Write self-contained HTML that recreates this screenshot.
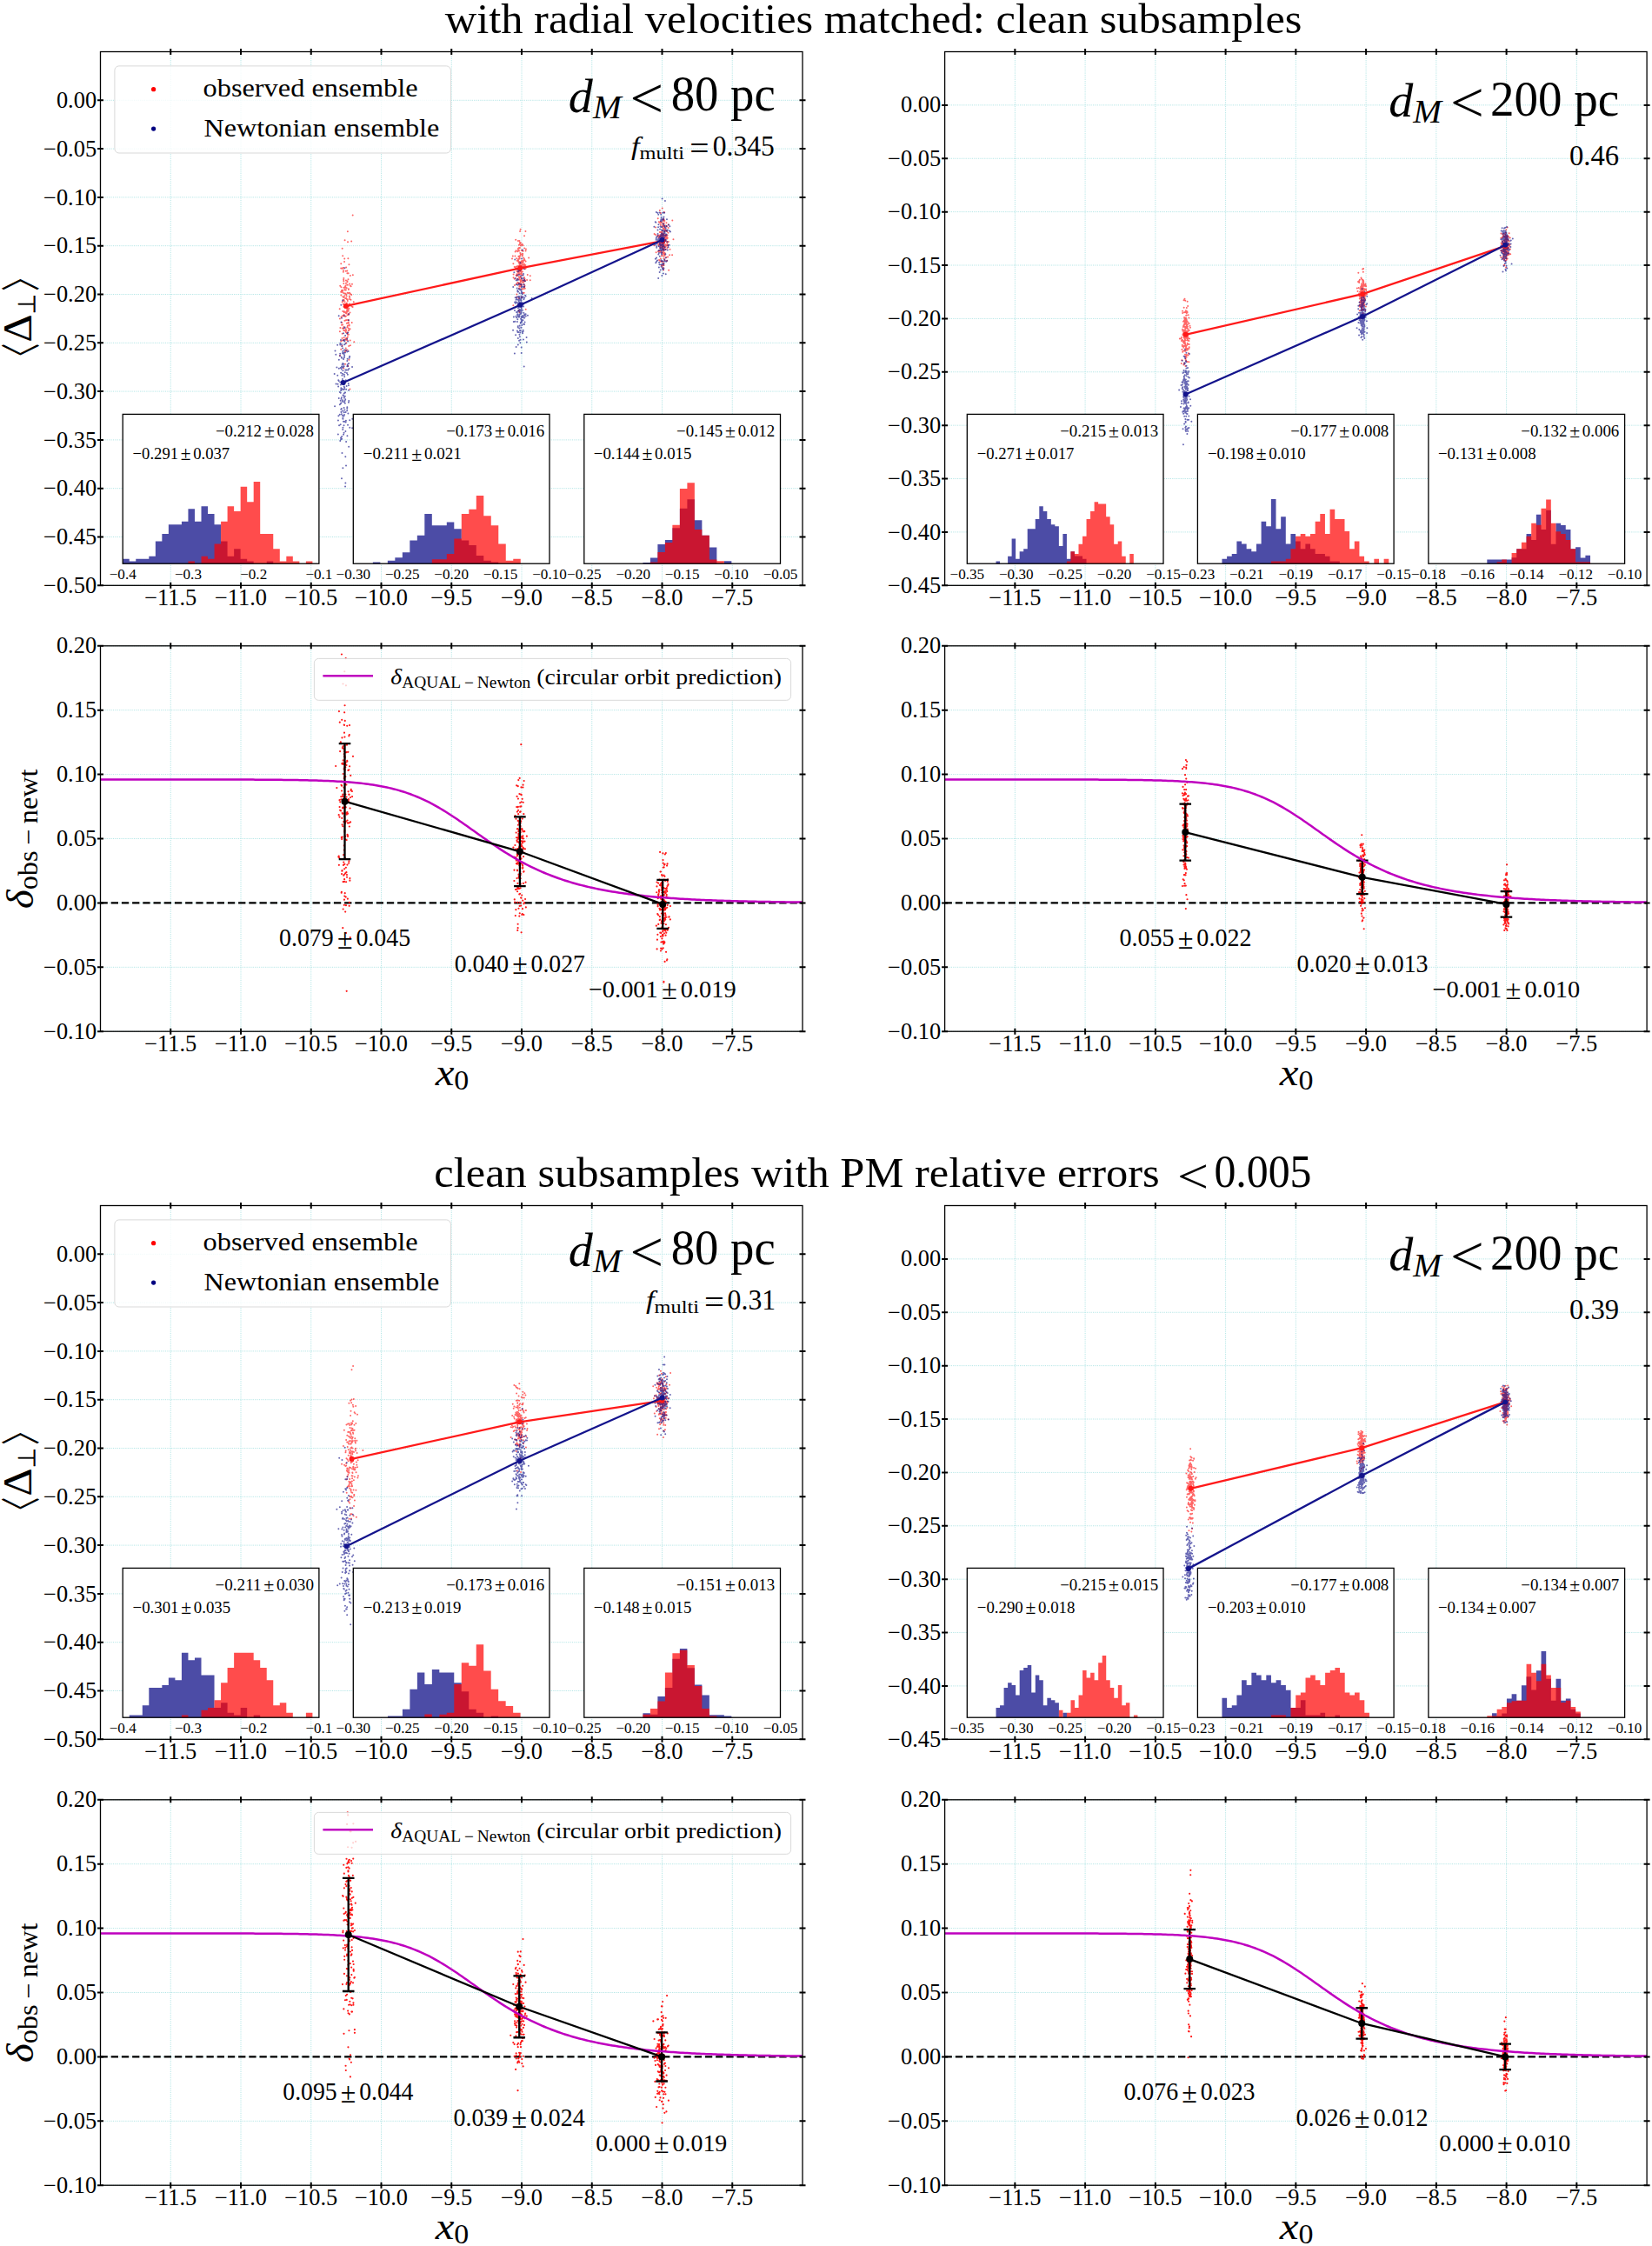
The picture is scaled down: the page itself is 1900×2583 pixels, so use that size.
<!DOCTYPE html>
<html><head><meta charset="utf-8"><title>figure</title><style>html,body{margin:0;padding:0;background:#fff;}svg{display:block;}</style></head><body>
<svg width="1900" height="2583" viewBox="0 0 1900 2583">
<rect width="1900" height="2583" fill="#fff"/>
<text id="f0_title" x="1003.2" y="37.8" font-size="50.5" text-anchor="middle" font-family="'Liberation Serif', 'DejaVu Serif', serif" transform="matrix(1.00020 0 0 0.97234 1.196 1.055)">with radial velocities matched: clean subsamples</text>
<path d="M196.25 59.5V673.3M277 59.5V673.3M357.75 59.5V673.3M438.5 59.5V673.3M519.25 59.5V673.3M600 59.5V673.3M680.75 59.5V673.3M761.5 59.5V673.3M842.25 59.5V673.3M115.5 673.3H923M115.5 617.5H923M115.5 561.7H923M115.5 505.9H923M115.5 450.1H923M115.5 394.3H923M115.5 338.5H923M115.5 282.7H923M115.5 226.9H923M115.5 171.1H923M115.5 115.3H923" stroke="#b4e6e6" stroke-width="1" stroke-dasharray="1.2 1.2" fill="none"/>
<path d="M402.45 447.54h0M397.04 418.86h0M395.33 423.39h0M400.27 421.08h0M391.02 409.09h0M401.4 413.82h0M401.17 397.99h0M397.75 400.5h0M393.5 397.65h0M402.93 397.24h0M396.9 404.52h0M392.2 401.64h0M399.56 402.46h0M397.67 403.28h0M407.27 393.25h0M400.91 384.73h0M393.67 383.87h0M399.89 384.67h0M395.62 388.18h0M398.88 388.75h0M397.5 389.23h0M397.63 390.58h0M394.03 391.4h0M402.75 391.38h0M398.22 394.22h0M398.95 391.12h0M399.87 387.39h0M395.14 390.88h0M392.27 392.6h0M393.48 388.98h0M399.65 391.42h0M398.31 380h0M394.92 377.72h0M393.86 377.58h0M393.03 373.75h0M394.07 373.49h0M399.86 374.73h0M397.32 380.78h0M396.84 380.33h0M399.34 376.21h0M395.47 376.03h0M400.87 380.34h0M397.97 382.21h0M402.59 378.33h0M401.45 379.62h0M399.63 383h0M401.6 373.4h0M397.74 378.18h0M395.3 380.03h0M399.24 382.46h0M390.87 381.23h0M401.74 374.41h0M391.38 376.95h0M400.75 377.45h0M396.44 368.79h0M404.71 371h0M400.85 362.09h0M400.74 371.64h0M400.88 370.59h0M395.64 361.94h0M397.87 368.25h0M399.03 368.08h0M398.88 371.85h0M399.91 362.15h0M390.95 366.55h0M393.88 363.22h0M397.4 364.06h0M392.5 364.47h0M395.75 363.38h0M400.95 361.04h0M399.42 371.44h0M395.57 362.32h0M400.77 368.11h0M397.86 363.44h0M393.13 370.91h0M404.22 352.13h0M400.2 355.46h0M401.34 354.83h0M396.08 358.97h0M394.31 357.91h0M394.82 349.77h0M399.29 355.01h0M398.24 350.99h0M395.4 352.87h0M397.77 349.85h0M401.29 352.33h0M402.49 359.51h0M397.78 360.03h0M398.6 360.54h0M399 358.81h0M397.86 358.94h0M390.67 355.27h0M402.47 349.64h0M400.65 357.4h0M405.6 353.02h0M397.39 352.33h0M401.08 355.49h0M395.86 359.19h0M400.4 352.26h0M398.73 353.87h0M395.99 358.34h0M395.36 349.84h0M399.62 358.39h0M396.75 353.65h0M398.97 356.93h0M399.37 355.93h0M403.49 344.86h0M393.71 347.16h0M395.37 341.9h0M395.83 345.17h0M398.16 342.9h0M392.32 339.52h0M401.82 340.59h0M402.15 344.09h0M399.03 344.28h0M398.66 340.5h0M397.05 342.92h0M396.63 347.14h0M396.33 340.23h0M398.23 338.85h0M404.2 339.03h0M402.16 342.1h0M406.74 347.24h0M399.85 345.9h0M394.73 344.77h0M401.51 349.51h0M394.61 346.15h0M398.65 348.83h0M399.78 344.3h0M398.9 348.55h0M394.34 341.27h0M391.23 328.69h0M400.65 337.17h0M397.84 333.38h0M396.62 337.59h0M399.68 336.77h0M400.92 333.05h0M402.99 338.08h0M392.42 330.18h0M400.9 332.28h0M399.91 327.84h0M397.01 337.73h0M397.4 330.16h0M400.39 337.21h0M396.14 330.84h0M394.16 334.79h0M395.11 336.94h0M402.03 336.63h0M393.29 336.1h0M397.61 337.83h0M393 333.98h0M397.5 328.45h0M394.12 333.73h0M398.75 331.32h0M397.19 330.8h0M402.78 328.41h0M392.82 334.36h0M396.62 333h0M396.5 333.41h0M392.16 335.75h0M397.17 329.56h0M399.28 327.52h0M395.44 330.68h0M403.65 329.24h0M399.47 324.23h0M397.94 325.86h0M397.91 322.49h0M400.48 321.32h0M395.22 321.67h0M402.1 326.56h0M404.98 326.73h0M395.32 319.94h0M402.86 317.04h0M399.5 323.35h0M395.32 323.16h0M395.32 325.94h0M399.29 311.38h0M399.4 314.2h0M395.02 308.03h0M395.08 310.79h0M394.63 308.08h0M398.14 307.5h0M400.63 314.18h0M397.73 311.84h0M393.33 308.84h0M392.19 308.53h0M405.86 316.14h0M394.89 312.85h0M401.43 304.24h0M392.25 303.29h0M394.22 294.2h0M400.37 297.25h0M396.24 297.55h0M396.05 301.12h0M393.67 285.68h0M404.17 277.55h0M400.01 278.22h0M396.6 276.32h0M399.88 266.36h0M405.67 247.5h0M597.57 359.23h0M604.7 355.78h0M596.69 357.09h0M595.08 351.57h0M599.76 350.83h0M590.32 351.17h0M594.46 341.67h0M601.63 336.96h0M596.79 343.12h0M599.77 342.02h0M594.39 338.59h0M602.74 336.64h0M598.46 328.15h0M598.65 328.22h0M600.02 327.59h0M597.07 331.54h0M600.23 332.22h0M602.88 330.08h0M591.94 327.99h0M597.35 329.26h0M603.74 331.8h0M598.64 329.42h0M603.19 331.79h0M599.22 328.86h0M603.48 328.54h0M601.62 332.27h0M602.76 327.34h0M594.23 326.14h0M598.88 319.25h0M602.29 324.47h0M595.48 324.65h0M603.85 322.48h0M598.67 324.97h0M602.32 322.84h0M597.17 319.78h0M598.8 323.63h0M603.91 322.89h0M606.06 322.12h0M591.74 320.71h0M599.11 323.1h0M590.53 319.32h0M597.44 321.4h0M597.02 326.46h0M600.39 322.03h0M603.52 320.75h0M600.98 324.72h0M594.92 321.03h0M595.47 325.87h0M599.33 320h0M603.12 319.37h0M598.31 321.93h0M609.76 322.23h0M598.01 318.64h0M596.88 325.58h0M602.41 323.51h0M599.93 323.04h0M598.98 326.48h0M598.64 312.14h0M600.25 315.27h0M597.16 312.6h0M594.37 315.29h0M594.64 317.42h0M597.36 312.39h0M596.35 313.2h0M599.1 314.83h0M599.21 312.04h0M595.25 316.14h0M597.13 314.46h0M590.57 315.48h0M595.77 313.09h0M596.44 313.25h0M597.77 314.89h0M598.32 311.34h0M600.86 312.54h0M593.62 316.81h0M597.5 310.33h0M599.53 313.42h0M598.58 314.88h0M596.79 314.01h0M596.07 312.36h0M606.74 316h0M597.23 312.35h0M609.8 317.2h0M600.4 316.49h0M596.88 318.17h0M596.52 312.41h0M593.87 317.31h0M594.45 312.37h0M596.03 315.1h0M598.72 318.13h0M597.55 308.41h0M602.14 308.23h0M601.61 307.74h0M599.19 302.85h0M594.32 308.37h0M602.78 306.33h0M600.33 302.67h0M599.69 308.81h0M601.1 304.61h0M595.13 305.88h0M602.7 305.47h0M600.37 304.95h0M603.98 309.21h0M598.12 305.55h0M597.06 310.17h0M604.36 305.02h0M597.71 304.28h0M602.92 303.73h0M601.69 301.83h0M597.2 308.16h0M602.8 304.91h0M593.6 306.76h0M594.67 309.18h0M598.31 303.18h0M598.48 309.43h0M604.69 308.47h0M591.7 306.9h0M597.91 307.56h0M596.73 309.49h0M597.85 302.6h0M602.87 303.86h0M598.91 305.44h0M596.94 302.61h0M599.56 301.83h0M592.97 308.31h0M599.85 305.22h0M601.27 307.6h0M597.03 305.59h0M597.38 309.64h0M590.37 303.14h0M596.28 307.55h0M589.81 294.41h0M601.85 300.13h0M596.49 297.93h0M596.38 294.65h0M598.12 301.14h0M597.78 297.52h0M602.29 296.5h0M603.41 299.07h0M600.71 293.72h0M604.59 300.43h0M596.08 298.4h0M592.4 294.4h0M598.12 293.91h0M596.28 301.1h0M597.51 296.84h0M602.01 299.6h0M594.26 297.3h0M599.84 300.7h0M600.67 294.62h0M596.86 295.3h0M597.68 295.58h0M600.21 299.96h0M597.04 301.09h0M602.88 297.86h0M589.01 297.57h0M608.15 296.48h0M594.72 299.65h0M596.17 300.05h0M601.08 301.29h0M598.82 292.67h0M597.2 285.05h0M598.29 290.9h0M604.95 286.4h0M597.35 285.59h0M596.13 285.83h0M597.14 288.44h0M596.05 285.79h0M601.25 291.96h0M600.8 292h0M593.53 288.29h0M599.06 292.27h0M592.64 289.61h0M595.22 289.36h0M601 293.23h0M595.95 288.53h0M599.7 287.81h0M601.63 288.73h0M595.92 287.06h0M604.59 288.39h0M600.88 288.6h0M601.1 292.18h0M603.19 285.46h0M599.81 281.78h0M598.56 279.97h0M597.85 279.09h0M598.78 278.94h0M597.69 280.98h0M596.93 281.63h0M595.87 276.9h0M598.96 282.53h0M597.96 284.98h0M600.63 280.85h0M601.51 282.15h0M597.41 276.95h0M603.04 271.21h0M593.18 275.74h0M604.43 265.88h0M598.07 266.01h0M598.61 263.74h0M769.16 310.8h0M761.82 305.86h0M762.55 307.84h0M760.92 305.36h0M763.05 303.17h0M763.68 305.03h0M763.28 304.87h0M760.85 305.14h0M763.07 310.43h0M762.56 301.15h0M758.39 299.31h0M764.78 299.18h0M767 299.97h0M758.05 298.94h0M763.63 297.29h0M759.53 300.71h0M759.8 297.55h0M766.33 296.12h0M760.93 294.25h0M768.09 295.56h0M760.58 300.52h0M760.92 300.2h0M763.53 294.76h0M773.11 293.28h0M762.96 285.65h0M758.07 288.26h0M764.65 291.44h0M761.49 290.41h0M761.96 286.95h0M764.54 290.71h0M764.77 293.41h0M754.62 290.17h0M763.23 287.95h0M770.53 286.7h0M756.99 289.31h0M763.75 291.33h0M762.5 291.56h0M758.97 288.69h0M759.05 289.86h0M770.1 293.3h0M757.09 289.29h0M765.74 287.11h0M762.85 289.6h0M763.99 293.1h0M764.26 292.88h0M763.38 291.96h0M764.24 285.96h0M761.64 293.75h0M760.19 288.85h0M766.49 277.35h0M761.91 284.48h0M759.9 281.78h0M761.55 283.98h0M763.3 279.55h0M759.37 285.1h0M767.34 285.06h0M768.26 282.41h0M766.34 281.89h0M760.66 278.21h0M762.68 284.1h0M759.04 280.4h0M759.83 282.53h0M763.79 279.43h0M761.21 284.26h0M762.46 279.99h0M761.95 280.81h0M760.23 284.25h0M767.4 279.46h0M763.61 283.66h0M764.78 282.3h0M765.75 281.22h0M757.78 282.44h0M761.37 282.05h0M768.83 277.94h0M762.01 280.56h0M758.93 285.3h0M757.38 281.96h0M760.3 279.21h0M757.51 280.76h0M764.32 281.53h0M762.39 277.11h0M759.36 279.47h0M767.76 281.54h0M759.47 285.04h0M763.09 282.89h0M760.36 282.99h0M757.32 281.25h0M766.7 278.12h0M760.82 277.77h0M764.54 284.5h0M764.04 277.71h0M762.44 280.77h0M752.31 282.34h0M764.27 281.81h0M762.77 277.19h0M760.2 283.96h0M764.89 283.35h0M765.05 282.06h0M766.73 282.64h0M763.19 269.77h0M759.88 276.91h0M761.3 271.44h0M766.43 274.05h0M752.6 269.1h0M761.37 274.02h0M766.54 272.09h0M764.21 272.75h0M766.96 274.11h0M764.42 276.89h0M765.06 275.58h0M767.29 274.51h0M760.49 276.09h0M758.15 270.62h0M767.61 270.54h0M756.3 271.02h0M760.4 273.83h0M760.09 270.73h0M758.57 271.74h0M761.4 275.04h0M764.93 271.53h0M763.83 276.95h0M760.61 274.79h0M763.96 271.65h0M758.97 276.48h0M760.19 270.23h0M762.1 271.03h0M762.73 276.92h0M759.54 274.98h0M753.9 269.95h0M767.5 273.37h0M762.94 274.09h0M765.2 272.66h0M767.79 273.72h0M765.02 276h0M765.76 270.12h0M761.46 273.53h0M761.88 269.48h0M765.34 273.43h0M774.45 275.26h0M766.48 270.39h0M761.66 274.24h0M766.69 273.28h0M762.84 274.71h0M765.68 273.85h0M763.83 269.44h0M761.9 271.95h0M758.8 272.37h0M762.66 275.26h0M759.45 272.18h0M758.85 271.67h0M761.74 270.83h0M762.1 269.62h0M757.26 272.95h0M762.35 268.18h0M768.49 267.65h0M767.05 266.14h0M761.64 260.43h0M762.88 263.41h0M754.1 261.55h0M765.55 265.37h0M768.63 261.99h0M764.46 266.32h0M758.77 266.95h0M763.75 263.19h0M766.76 260.58h0M759.73 266.93h0M766.26 265.11h0M765.11 264.3h0M766.65 265.52h0M764.12 262.17h0M762.66 262.16h0M761.23 268.2h0M761.71 265.86h0M764.61 263.85h0M762 260.44h0M760.77 266.82h0M763.88 256.47h0M759.89 258.66h0M762.53 252.34h0M773.32 253.51h0M762.83 257.47h0M760.27 256.35h0M763.99 260.12h0M762.3 259.61h0M762.8 253.88h0M768.71 258.38h0M764.37 253.92h0M757.78 255.29h0M761.27 255.9h0M759.14 256.6h0M763.6 252.33h0M765.7 259.61h0M762.28 258.96h0M759.6 254.74h0M766.47 256.29h0M756.72 251.19h0M759.82 245.04h0M763.93 244.1h0M761.73 239.5h0M758.82 242.11h0" stroke="#ff0000" stroke-width="2.0" stroke-linecap="round" fill="none" opacity="0.6"/>
<path d="M397.04 559.43h0M397.35 555.4h0M392.95 550.21h0M398.01 535.53h0M394.35 538.27h0M397.31 525.37h0M393.46 520.92h0M391.26 506.92h0M398.1 508.08h0M401.16 513.83h0M392.11 505.33h0M393.16 502.12h0M395.57 497.68h0M399.43 501.18h0M388.85 499.56h0M397.39 495.9h0M392 503.41h0M395.1 499.81h0M393.12 504.75h0M402.28 491.85h0M391.69 488.15h0M396.1 484.82h0M400.02 488.74h0M390.05 489.13h0M394.98 484.76h0M397.9 483.75h0M397.65 485.61h0M394.26 493.99h0M395.52 489.27h0M394.4 491.8h0M405.12 492.26h0M390.81 476.81h0M392.87 476.36h0M394.44 481.77h0M397.58 474.02h0M392.43 473.83h0M402.23 483.27h0M395.43 478.51h0M400.38 475.56h0M393.85 478.06h0M388.94 483.5h0M394.32 480.81h0M392.45 473.95h0M395.68 474.24h0M405.28 481.81h0M389.36 478.25h0M395.98 476.97h0M392.25 470.7h0M396.83 463.81h0M392.77 469.88h0M385.07 467.37h0M396.4 471.6h0M394.22 472.38h0M393.85 461.72h0M395.62 468.92h0M390.8 465.17h0M400.93 462.74h0M391.77 464.21h0M399.3 468.14h0M392.28 463.59h0M395.73 462.16h0M399.27 469.77h0M399.15 472.3h0M392.82 457.19h0M395.84 457.62h0M391.75 451.78h0M395.25 455.3h0M394.13 460.13h0M389.74 458.02h0M401.23 460.94h0M391.68 460.73h0M394.49 454.58h0M396.86 451.62h0M396.86 455.73h0M397.2 459.24h0M390.85 450.9h0M395.72 452.43h0M396.74 460.76h0M397.05 451.5h0M392.49 458.7h0M396.12 447.54h0M392.09 448.89h0M386.49 441.39h0M391.85 442.58h0M401.01 448.85h0M394.3 447.65h0M396.72 440.07h0M389.12 444.54h0M392.32 447.92h0M398.15 447.7h0M388.53 441.78h0M391.21 439.56h0M400.73 441.08h0M392.3 449.07h0M392.26 446.3h0M400.95 443.13h0M393.61 447.25h0M395.57 441.91h0M395.75 444.61h0M395.04 447.93h0M396.24 445.66h0M398.65 444.11h0M393.89 435.88h0M395.87 431.11h0M393.61 438.52h0M396.86 428.17h0M392.12 428.73h0M395.75 430.69h0M393.42 431.82h0M397.79 437.31h0M396.19 433.17h0M393.99 429.66h0M389.62 438.02h0M384.68 429.99h0M397.53 438.85h0M389.25 437.22h0M388.25 431.69h0M399.84 430.79h0M398.93 428.9h0M387.36 422.57h0M399.3 421.18h0M398.55 425.56h0M394.43 426.24h0M405.06 421.99h0M401.04 417.95h0M399.66 419.21h0M392.98 421.49h0M392.74 424.61h0M394.21 418.3h0M400.3 425.6h0M389.81 423.71h0M394.66 422.42h0M394.21 417.98h0M397.33 425.56h0M394.99 421.36h0M401.41 424.03h0M391.66 423.03h0M395.31 418.79h0M393.56 422.48h0M393.62 419.32h0M395.65 421.27h0M400.09 420.96h0M401.7 411.86h0M393.08 411.82h0M389.85 413.73h0M399.32 414.95h0M386.29 407.68h0M396.14 408.3h0M395.01 412.91h0M395.06 413.12h0M391.17 406.7h0M395.63 405.91h0M396.09 410.24h0M394.65 405.83h0M395.8 411.14h0M394.01 406.22h0M399.62 412.81h0M394.79 406.76h0M392.74 410.74h0M390.91 409.13h0M402.2 410.06h0M401.98 410.12h0M388.14 396.66h0M385.49 403.45h0M399.23 404.4h0M396.21 402.44h0M394.46 403.73h0M391.26 396.49h0M394.34 405.18h0M391.28 394.79h0M396.1 396.15h0M398.12 402.85h0M397.6 395.21h0M396.95 405.41h0M394.1 400.46h0M393.02 395.92h0M400.65 404.06h0M393.29 398.36h0M396.5 391.02h0M397.1 386.09h0M395.08 383.19h0M392.01 391.04h0M395.07 391.36h0M400.22 392.53h0M396.3 392.53h0M399.19 389.66h0M399.16 383.57h0M400.15 382.58h0M396.63 376.5h0M395.87 377.33h0M389.68 363.34h0M392.38 370.41h0M400.9 368.31h0M393 365.66h0M395.79 362.89h0M401.22 361.21h0M398.16 352.75h0M392.31 350.86h0M394.22 345.54h0M396.44 308.23h0M602.71 421.47h0M591.87 406.44h0M599.71 405.98h0M595.83 396.41h0M593.63 399.11h0M599.69 399.51h0M598.33 394.35h0M597.08 391.87h0M598.54 390.68h0M595.84 388.9h0M605.8 393.43h0M597.93 387.18h0M601.98 390.4h0M605.57 388.11h0M597.36 377.47h0M600.7 381.77h0M597.43 384.63h0M596.35 382.1h0M601.65 381.27h0M590.05 379.65h0M595.48 381.9h0M598.85 380.12h0M601.69 379.63h0M597.9 380.32h0M601.1 383.22h0M593.09 385.33h0M598.31 382.58h0M594.93 380.49h0M592.35 369.64h0M603.05 372.91h0M599.95 369.15h0M599.99 370.65h0M602.06 372.66h0M600.23 374.12h0M598.7 371.79h0M603.58 370.44h0M595.73 375.32h0M590.8 369.97h0M595.75 376.41h0M599.27 376.76h0M594.93 369.93h0M598.82 370.79h0M597.78 374.65h0M597.63 374.48h0M599.54 376.71h0M594.04 365.28h0M595.28 361.25h0M603.32 365.55h0M599.32 360.82h0M604.62 361.34h0M600.09 365.23h0M599.01 366.78h0M597.39 364.59h0M590.85 364.52h0M600.91 363.35h0M595.05 361.94h0M595.33 367.33h0M595.78 361.46h0M596.14 364.49h0M606.93 362.87h0M599.85 364.22h0M603.27 361.47h0M602.5 365.47h0M601.47 368.27h0M601.71 364.74h0M601.64 363.15h0M599.57 364.26h0M603.21 362.77h0M600.71 368.56h0M597.86 361.67h0M595.74 363.43h0M604.77 363.53h0M599.69 367.94h0M593.43 363.79h0M597.18 363.09h0M597.03 358.57h0M593.07 353.58h0M596.5 356.91h0M602.31 359.74h0M599.79 354.61h0M597.66 356.98h0M596.39 353.72h0M597.67 355.65h0M599.37 356.35h0M595.94 354.14h0M598.23 357.85h0M596.59 352.5h0M595.95 357.39h0M599.87 352.93h0M599.76 358.96h0M601.01 356.66h0M598.41 360.17h0M602.06 352.52h0M591.96 357.07h0M599.15 357.34h0M594.96 359.03h0M599.68 353.52h0M594.05 358.92h0M602.43 344.13h0M598.13 345.19h0M599.36 347.49h0M592.84 348.78h0M597.92 348.18h0M592.07 347.49h0M599.45 345.47h0M595.8 349.99h0M599.13 344.09h0M597.2 347.49h0M596.1 344.68h0M596.22 345.58h0M593.54 344.81h0M598.47 351.63h0M598.92 345.6h0M601 348.13h0M599.84 350.64h0M595.57 350.03h0M593.39 347.27h0M594.42 343.9h0M594.96 348.05h0M596.93 346.89h0M601.54 350.59h0M601.39 341.1h0M596.56 341.1h0M597.5 342.41h0M599.81 337.36h0M592.64 342.22h0M604.63 340.38h0M611.61 343.02h0M596.1 335.5h0M595.35 335.41h0M604.06 339.77h0M597.24 340.92h0M593.64 342.35h0M597.22 341.51h0M599.3 340.51h0M603.22 342.47h0M597.64 342.59h0M599.94 336.43h0M594.9 341.43h0M600.98 338.14h0M601.24 342.25h0M600.53 336.56h0M597.64 337.18h0M597.57 343.7h0M596.84 341.88h0M599.71 342.48h0M599.56 327.17h0M601.98 330.02h0M595.64 327.69h0M602.63 327.54h0M593.85 327.25h0M599.82 335.14h0M599.88 330.24h0M603.24 329.69h0M602.45 327.05h0M600.17 329.39h0M594.68 331.58h0M598.53 333.55h0M598.57 332.41h0M599.76 327.57h0M590.23 330.1h0M597.89 333.11h0M598.39 327.05h0M596.82 332.21h0M599.32 333.21h0M595.27 333.93h0M598.78 333.51h0M597.24 326.66h0M595.51 320.87h0M601.7 322.81h0M599.78 320.08h0M599.98 320.56h0M593.69 322.24h0M594.69 322.3h0M595.98 321.65h0M595.97 321.78h0M602.94 321.79h0M592.82 319.92h0M601.83 320.08h0M603.92 323.31h0M596.85 325.95h0M601.59 316.77h0M598.45 311.12h0M596.96 315.94h0M594.79 316.52h0M595.87 310.27h0M597.25 311.05h0M591.31 313.22h0M602.1 314.99h0M595.9 312.18h0M596.31 310.5h0M599.03 317.29h0M601.92 307.4h0M602.76 309.2h0M594.34 309.45h0M597.64 307.77h0M598.35 302.37h0M592.23 298.5h0M600.11 297.42h0M601.01 287.4h0M757.17 320.05h0M761.36 316.9h0M758.65 312.89h0M765.73 315.36h0M762.91 314.49h0M757.87 307.56h0M762.71 304.72h0M760.59 306.82h0M758.45 304.23h0M761.97 308.54h0M763.59 303.08h0M763.45 308.46h0M760.21 304.43h0M761.79 303.52h0M759.65 310.57h0M762.45 308.67h0M763.04 309.64h0M762.24 309.8h0M766.3 300.69h0M758.79 294.77h0M764.94 300.15h0M760.38 299.3h0M755.04 296.56h0M753.83 297.84h0M756.07 299.48h0M764.53 300.44h0M765.64 296.56h0M754.24 302.23h0M755.15 300.74h0M762.53 300.14h0M764.12 298.6h0M758.09 301.7h0M760.91 300.52h0M767.23 299.72h0M760 286.58h0M763.29 286.41h0M757.93 291.1h0M767.77 287.58h0M761.87 285.56h0M757.49 288.29h0M761.03 290.53h0M759.09 287.45h0M760.27 287.78h0M759.99 287.4h0M760.57 285.45h0M760.32 290.72h0M757.3 292.6h0M761.18 286.12h0M762.71 287.48h0M761.04 292.53h0M764.02 287.79h0M760.66 291.21h0M765.38 292.22h0M759.88 286.88h0M761.34 286.42h0M765.55 286.65h0M760.94 288.46h0M757.86 288.06h0M755.24 284.85h0M758.86 281.37h0M761.01 281.85h0M762.58 278.15h0M757.8 283.37h0M753.51 281.39h0M755.45 280.44h0M763.85 278.92h0M755.21 279.32h0M760.31 280.79h0M763.16 282.73h0M767.46 277.89h0M768.62 282.07h0M757.91 277.58h0M762.3 278.53h0M758.98 283.86h0M762.13 277.13h0M762.8 281.61h0M758.77 279.71h0M761.76 280.09h0M759.53 285.24h0M765.21 277.27h0M760.31 281.82h0M768.63 284.18h0M769.72 281.74h0M756.24 278.71h0M761.12 282.35h0M763.08 283.71h0M764.86 284.22h0M763.06 279.97h0M755.27 283.23h0M759.62 281.93h0M762.96 279.94h0M763.41 277.21h0M768.31 282.33h0M762.7 277.64h0M761.41 283.83h0M762.92 271.17h0M760.18 276.91h0M763.06 270.73h0M757.27 274.82h0M761.56 274.12h0M761.46 269.54h0M762.36 270.84h0M758.43 274.76h0M764.09 273.83h0M762.09 272.18h0M760.26 269.4h0M756.39 275.93h0M761.73 272.29h0M766.68 270.1h0M756.86 271.17h0M758.47 273.71h0M756.57 269.09h0M762.75 271.52h0M754.73 274.23h0M760.67 274.98h0M761.71 270.06h0M762.99 269.26h0M760.98 268.73h0M760.28 270.25h0M764.04 270.86h0M754.68 275.82h0M759.39 276.6h0M765.63 270.92h0M762.61 272.8h0M764.78 270.94h0M755.01 272.75h0M758.77 272.98h0M761.06 273.87h0M756.95 276.12h0M765.84 275.83h0M759.24 275.37h0M759.32 271.68h0M762.99 271.84h0M762.14 276.03h0M759.32 274.98h0M757.67 276.68h0M760.32 272.23h0M766.24 269.41h0M756.36 271.38h0M760.86 264.41h0M764.51 267.22h0M759.04 263.62h0M752.36 260.7h0M764.49 260.93h0M764.75 265.65h0M763.75 267.64h0M761.3 268.31h0M765.35 261.32h0M761.49 268.41h0M766.93 265.83h0M764.6 268.31h0M769.93 265.39h0M759.46 260.57h0M764.89 260.88h0M763.94 267.22h0M766.42 265.31h0M765.71 262.72h0M756.51 264.58h0M770.99 266.55h0M760.21 260.96h0M763.8 265.35h0M761.9 265.17h0M757.05 261.27h0M767.81 264.54h0M761.21 261h0M770.34 260.27h0M763.83 266.43h0M762.88 265.23h0M753.74 255.25h0M761.04 253.54h0M762 252.34h0M762.64 257.32h0M763.23 252.81h0M766.76 259.99h0M760.35 253.55h0M760.47 254.61h0M766.97 252.2h0M760.23 253.14h0M763.44 258.38h0M768.98 258.52h0M764.03 260.13h0M760.01 254.31h0M757.43 258.36h0M760.45 252.26h0M763.99 259.2h0M760.32 252.27h0M754.36 255.77h0M763.43 249.61h0M754.84 244.02h0M764.15 244.69h0M760.54 249.92h0M757.24 246.69h0M762.93 251.25h0M756.5 245.04h0M762.24 244.69h0M760.19 246.8h0M762.81 244.4h0M758.7 244.54h0M761.62 228.48h0M764.96 231.04h0" stroke="#000080" stroke-width="2.0" stroke-linecap="round" fill="none" opacity="0.6"/>
<path d="M397.96 351.89L598.38 308.37L762.15 277.12" stroke="#ff1a1a" stroke-width="2.3" fill="none"/>
<circle cx="397.96" cy="351.89" r="3" fill="#ff1a1a"/>
<circle cx="598.38" cy="308.37" r="3" fill="#ff1a1a"/>
<circle cx="762.15" cy="277.12" r="3" fill="#ff1a1a"/>
<path d="M394.73 440.06L598.38 350.78L761.5 276" stroke="#14148c" stroke-width="2.3" fill="none"/>
<circle cx="394.73" cy="440.06" r="3" fill="#14148c"/>
<circle cx="598.38" cy="350.78" r="3" fill="#14148c"/>
<circle cx="761.5" cy="276" r="3" fill="#14148c"/>
<rect x="141.2" y="476.4" width="225.7" height="171.8" fill="#fff" stroke="none"/>
<path d="M141.21 648.2H148.73V642.81H141.21ZM148.73 648.2H156.25V645.55H148.73ZM156.25 648.2H163.78V642.81H156.25ZM163.78 648.2H171.3V642.81H163.78ZM171.3 648.2H178.83V639.81H171.3ZM178.83 648.2H186.35V622.57H178.83ZM186.35 648.2H193.87V614.09H186.35ZM193.87 648.2H201.4V603.14H193.87ZM201.4 648.2H208.92V603.14H201.4ZM208.92 648.2H216.45V599.72H208.92ZM216.45 648.2H223.97V585.36H216.45ZM223.97 648.2H231.5V599.72H223.97ZM231.5 648.2H239.02V582.35H231.5ZM239.02 648.2H246.54V591.1H239.02ZM246.54 648.2H254.07V603.14H246.54ZM254.07 648.2H261.59V622.57H254.07ZM261.59 648.2H269.12V639.81H261.59ZM269.12 648.2H276.64V631.19H269.12ZM276.64 648.2H284.17V642.81H276.64ZM284.17 648.2H291.69V645.55H284.17ZM306.74 648.2H314.26V645.55H306.74Z" fill="#000080" fill-opacity="0.7"/>
<path d="M216.45 648.2H223.97V645.55H216.45ZM231.5 648.2H239.02V639.81H231.5ZM239.02 648.2H246.54V642.81H239.02ZM246.54 648.2H254.07V625.44H246.54ZM254.07 648.2H261.59V599.72H254.07ZM261.59 648.2H269.12V582.35H261.59ZM269.12 648.2H276.64V588.09H269.12ZM276.64 648.2H284.17V559.77H276.64ZM284.17 648.2H291.69V577.15H284.17ZM291.69 648.2H299.21V553.89H291.69ZM299.21 648.2H306.74V614.09H299.21ZM306.74 648.2H314.26V614.09H306.74ZM314.26 648.2H321.79V631.19H314.26ZM321.79 648.2H329.31V645.55H321.79ZM329.31 648.2H336.83V639.81H329.31ZM336.83 648.2H344.36V645.55H336.83ZM351.88 648.2H359.41V645.55H351.88Z" fill="#ff0000" fill-opacity="0.7"/>
<rect x="141.2" y="476.4" width="225.7" height="171.8" fill="none" stroke="#000" stroke-width="1.3"/>
<text id="f0_s0_i0_t1" x="360.9" y="501.4" font-size="18.5" text-anchor="end" font-family="'Liberation Serif', 'DejaVu Serif', serif" transform="matrix(1.02110 0 0 0.98667 -7.596 7.307)">−0.212<tspan font-size="21.27" dy="1.3" dx="2.77">±</tspan><tspan font-size="18.5" dy="-1.3" dx="2.59">0.028</tspan></text>
<text id="f0_s0_i0_t2" x="153.2" y="528" font-size="18.5" text-anchor="start" font-family="'Liberation Serif', 'DejaVu Serif', serif" transform="matrix(1.00818 0 0 1.03571 -1.860 -18.693)">−0.291<tspan font-size="21.27" dy="1.3" dx="2.77">±</tspan><tspan font-size="18.5" dy="-1.3" dx="2.59">0.037</tspan></text>
<text id="f0_s0_i0_xt0" x="0" y="0" font-size="17.1" text-anchor="middle" font-family="'Liberation Serif', 'DejaVu Serif', serif" transform="matrix(1.0 0 0 1 141.2 665.8)">−0.4</text>
<text id="f0_s0_i0_xt1" x="0" y="0" font-size="17.1" text-anchor="middle" font-family="'Liberation Serif', 'DejaVu Serif', serif" transform="matrix(1.0 0 0 1 216.43 665.8)">−0.3</text>
<text id="f0_s0_i0_xt2" x="0" y="0" font-size="17.1" text-anchor="middle" font-family="'Liberation Serif', 'DejaVu Serif', serif" transform="matrix(1.0 0 0 1 291.67 665.8)">−0.2</text>
<text id="f0_s0_i0_xt3" x="0" y="0" font-size="17.1" text-anchor="middle" font-family="'Liberation Serif', 'DejaVu Serif', serif" transform="matrix(1.0 0 0 1 366.9 665.8)">−0.1</text>
<rect x="406.3" y="476.4" width="225.7" height="171.8" fill="#fff" stroke="none"/>
<path d="M428.85 648.2H437.34V646.51H428.85ZM445.84 648.2H454.33V644.87H445.84ZM454.33 648.2H462.83V641.17H454.33ZM462.83 648.2H471.32V635.29H462.83ZM471.32 648.2H479.82V621.61H471.32ZM479.82 648.2H488.31V615.86H479.82ZM488.31 648.2H496.81V591.1H488.31ZM496.81 648.2H505.31V604.24H496.81ZM505.31 648.2H513.8V604.24H505.31ZM513.8 648.2H522.3V600.41H513.8ZM522.3 648.2H530.79V608.2H522.3ZM530.79 648.2H539.29V621.61H530.79ZM539.29 648.2H547.78V627.08H539.29ZM547.78 648.2H556.28V639.12H547.78ZM556.28 648.2H564.77V644.87H556.28ZM564.77 648.2H573.27V646.51H564.77Z" fill="#000080" fill-opacity="0.7"/>
<path d="M496.81 648.2H505.31V643.23H496.81ZM505.31 648.2H513.8V643.23H505.31ZM513.8 648.2H522.3V636.93H513.8ZM522.3 648.2H530.79V619.56H522.3ZM530.79 648.2H539.29V591.1H530.79ZM539.29 648.2H547.78V585.63H539.29ZM547.78 648.2H556.28V570.04H547.78ZM556.28 648.2H564.77V593.15H556.28ZM564.77 648.2H573.27V604.24H564.77ZM573.27 648.2H581.77V625.44H573.27ZM581.77 648.2H590.26V644.87H581.77ZM590.26 648.2H598.76V642.81H590.26Z" fill="#ff0000" fill-opacity="0.7"/>
<rect x="406.3" y="476.4" width="225.7" height="171.8" fill="none" stroke="#000" stroke-width="1.3"/>
<text id="f0_s0_i1_t1" x="626" y="501.4" font-size="18.5" text-anchor="end" font-family="'Liberation Serif', 'DejaVu Serif', serif" transform="matrix(1.02110 0 0 0.98667 -13.088 7.307)">−0.173<tspan font-size="21.27" dy="1.3" dx="2.77">±</tspan><tspan font-size="18.5" dy="-1.3" dx="2.59">0.016</tspan></text>
<text id="f0_s0_i1_t2" x="418.3" y="528" font-size="18.5" text-anchor="start" font-family="'Liberation Serif', 'DejaVu Serif', serif" transform="matrix(1.02685 0 0 1.03571 -11.751 -18.693)">−0.211<tspan font-size="21.27" dy="1.3" dx="2.77">±</tspan><tspan font-size="18.5" dy="-1.3" dx="2.59">0.021</tspan></text>
<text id="f0_s0_i1_xt0" x="0" y="0" font-size="17.1" text-anchor="middle" font-family="'Liberation Serif', 'DejaVu Serif', serif" transform="matrix(1.0 0 0 1 406.3 665.8)">−0.30</text>
<text id="f0_s0_i1_xt1" x="0" y="0" font-size="17.1" text-anchor="middle" font-family="'Liberation Serif', 'DejaVu Serif', serif" transform="matrix(1.0 0 0 1 462.73 665.8)">−0.25</text>
<text id="f0_s0_i1_xt2" x="0" y="0" font-size="17.1" text-anchor="middle" font-family="'Liberation Serif', 'DejaVu Serif', serif" transform="matrix(1.0 0 0 1 519.15 665.8)">−0.20</text>
<text id="f0_s0_i1_xt3" x="0" y="0" font-size="17.1" text-anchor="middle" font-family="'Liberation Serif', 'DejaVu Serif', serif" transform="matrix(1.0 0 0 1 575.58 665.8)">−0.15</text>
<text id="f0_s0_i1_xt4" x="0" y="0" font-size="17.1" text-anchor="middle" font-family="'Liberation Serif', 'DejaVu Serif', serif" transform="matrix(1.0 0 0 1 632 665.8)">−0.10</text>
<rect x="671.8" y="476.4" width="225.7" height="171.8" fill="#fff" stroke="none"/>
<path d="M739.4 648.2H747.9V646.92H739.4ZM747.9 648.2H756.39V641.45H747.9ZM756.39 648.2H764.89V626.12H756.39ZM764.89 648.2H773.38V620.93H764.89ZM773.38 648.2H781.88V607.25H773.38ZM781.88 648.2H790.38V584.67H781.88ZM790.38 648.2H798.87V574.14H790.38ZM798.87 648.2H807.37V598.35H798.87ZM807.37 648.2H815.86V615.73H807.37ZM815.86 648.2H824.36V629.54H815.86ZM832.85 648.2H841.35V645.28H832.85Z" fill="#000080" fill-opacity="0.7"/>
<path d="M747.9 648.2H756.39V646.51H747.9ZM756.39 648.2H764.89V634.88H756.39ZM764.89 648.2H773.38V624.07H764.89ZM773.38 648.2H781.88V603.83H773.38ZM781.88 648.2H790.38V562.1H781.88ZM790.38 648.2H798.87V555.26H790.38ZM798.87 648.2H807.37V608.89H798.87ZM807.37 648.2H815.86V615.73H807.37ZM815.86 648.2H824.36V643.5H815.86ZM824.36 648.2H832.85V645.28H824.36Z" fill="#ff0000" fill-opacity="0.7"/>
<rect x="671.8" y="476.4" width="225.7" height="171.8" fill="none" stroke="#000" stroke-width="1.3"/>
<text id="f0_s0_i2_t1" x="891.5" y="501.4" font-size="18.5" text-anchor="end" font-family="'Liberation Serif', 'DejaVu Serif', serif" transform="matrix(1.02110 0 0 0.98667 -19.201 7.307)">−0.145<tspan font-size="21.27" dy="1.3" dx="2.77">±</tspan><tspan font-size="18.5" dy="-1.3" dx="2.59">0.012</tspan></text>
<text id="f0_s0_i2_t2" x="683.8" y="528" font-size="18.5" text-anchor="start" font-family="'Liberation Serif', 'DejaVu Serif', serif" transform="matrix(1.01743 0 0 1.03571 -12.940 -18.693)">−0.144<tspan font-size="21.27" dy="1.3" dx="2.77">±</tspan><tspan font-size="18.5" dy="-1.3" dx="2.59">0.015</tspan></text>
<text id="f0_s0_i2_xt0" x="0" y="0" font-size="17.1" text-anchor="middle" font-family="'Liberation Serif', 'DejaVu Serif', serif" transform="matrix(1.0 0 0 1 671.8 665.8)">−0.25</text>
<text id="f0_s0_i2_xt1" x="0" y="0" font-size="17.1" text-anchor="middle" font-family="'Liberation Serif', 'DejaVu Serif', serif" transform="matrix(1.0 0 0 1 728.22 665.8)">−0.20</text>
<text id="f0_s0_i2_xt2" x="0" y="0" font-size="17.1" text-anchor="middle" font-family="'Liberation Serif', 'DejaVu Serif', serif" transform="matrix(1.0 0 0 1 784.65 665.8)">−0.15</text>
<text id="f0_s0_i2_xt3" x="0" y="0" font-size="17.1" text-anchor="middle" font-family="'Liberation Serif', 'DejaVu Serif', serif" transform="matrix(1.0 0 0 1 841.07 665.8)">−0.10</text>
<text id="f0_s0_i2_xt4" x="0" y="0" font-size="17.1" text-anchor="middle" font-family="'Liberation Serif', 'DejaVu Serif', serif" transform="matrix(1.0 0 0 1 897.5 665.8)">−0.05</text>
<rect x="115.5" y="59.5" width="807.5" height="613.8" fill="none" stroke="#000" stroke-width="1.3"/>
<path d="M196.25 669.8V676.8M196.25 56V63M277 669.8V676.8M277 56V63M357.75 669.8V676.8M357.75 56V63M438.5 669.8V676.8M438.5 56V63M519.25 669.8V676.8M519.25 56V63M600 669.8V676.8M600 56V63M680.75 669.8V676.8M680.75 56V63M761.5 669.8V676.8M761.5 56V63M842.25 669.8V676.8M842.25 56V63M112 673.3H119M919.5 673.3H926.5M112 617.5H119M919.5 617.5H926.5M112 561.7H119M919.5 561.7H926.5M112 505.9H119M919.5 505.9H926.5M112 450.1H119M919.5 450.1H926.5M112 394.3H119M919.5 394.3H926.5M112 338.5H119M919.5 338.5H926.5M112 282.7H119M919.5 282.7H926.5M112 226.9H119M919.5 226.9H926.5M112 171.1H119M919.5 171.1H926.5M112 115.3H119M919.5 115.3H926.5" stroke="#000" stroke-width="2.0" fill="none"/>
<text id="f0_s0_A_yt0" x="0" y="0" font-size="26.4" text-anchor="end" font-family="'Liberation Serif', 'DejaVu Serif', serif" transform="matrix(1.0 0 0 1 111.1 681.9)">−0.50</text>
<text id="f0_s0_A_yt1" x="0" y="0" font-size="26.4" text-anchor="end" font-family="'Liberation Serif', 'DejaVu Serif', serif" transform="matrix(1.0 0 0 1 111.1 626.1)">−0.45</text>
<text id="f0_s0_A_yt2" x="0" y="0" font-size="26.4" text-anchor="end" font-family="'Liberation Serif', 'DejaVu Serif', serif" transform="matrix(1.0 0 0 1 111.1 570.3)">−0.40</text>
<text id="f0_s0_A_yt3" x="0" y="0" font-size="26.4" text-anchor="end" font-family="'Liberation Serif', 'DejaVu Serif', serif" transform="matrix(1.0 0 0 1 111.1 514.5)">−0.35</text>
<text id="f0_s0_A_yt4" x="0" y="0" font-size="26.4" text-anchor="end" font-family="'Liberation Serif', 'DejaVu Serif', serif" transform="matrix(1.0 0 0 1 111.1 458.7)">−0.30</text>
<text id="f0_s0_A_yt5" x="0" y="0" font-size="26.4" text-anchor="end" font-family="'Liberation Serif', 'DejaVu Serif', serif" transform="matrix(1.0 0 0 1 111.1 402.9)">−0.25</text>
<text id="f0_s0_A_yt6" x="0" y="0" font-size="26.4" text-anchor="end" font-family="'Liberation Serif', 'DejaVu Serif', serif" transform="matrix(1.0 0 0 1 111.1 347.1)">−0.20</text>
<text id="f0_s0_A_yt7" x="0" y="0" font-size="26.4" text-anchor="end" font-family="'Liberation Serif', 'DejaVu Serif', serif" transform="matrix(1.0 0 0 1 111.1 291.3)">−0.15</text>
<text id="f0_s0_A_yt8" x="0" y="0" font-size="26.4" text-anchor="end" font-family="'Liberation Serif', 'DejaVu Serif', serif" transform="matrix(1.0 0 0 1 111.1 235.5)">−0.10</text>
<text id="f0_s0_A_yt9" x="0" y="0" font-size="26.4" text-anchor="end" font-family="'Liberation Serif', 'DejaVu Serif', serif" transform="matrix(1.0 0 0 1 111.1 179.7)">−0.05</text>
<text id="f0_s0_A_yt10" x="0" y="0" font-size="26.4" text-anchor="end" font-family="'Liberation Serif', 'DejaVu Serif', serif" transform="matrix(1.0 0 0 1 111.1 123.9)">0.00</text>
<text id="f0_s0_A_xt0" x="0" y="0" font-size="26.4" text-anchor="middle" font-family="'Liberation Serif', 'DejaVu Serif', serif" transform="matrix(1.0 0 0 1 196.25 695.6)">−11.5</text>
<text id="f0_s0_A_xt1" x="0" y="0" font-size="26.4" text-anchor="middle" font-family="'Liberation Serif', 'DejaVu Serif', serif" transform="matrix(1.0 0 0 1 277 695.6)">−11.0</text>
<text id="f0_s0_A_xt2" x="0" y="0" font-size="26.4" text-anchor="middle" font-family="'Liberation Serif', 'DejaVu Serif', serif" transform="matrix(1.0 0 0 1 357.75 695.6)">−10.5</text>
<text id="f0_s0_A_xt3" x="0" y="0" font-size="26.4" text-anchor="middle" font-family="'Liberation Serif', 'DejaVu Serif', serif" transform="matrix(1.0 0 0 1 438.5 695.6)">−10.0</text>
<text id="f0_s0_A_xt4" x="0" y="0" font-size="26.4" text-anchor="middle" font-family="'Liberation Serif', 'DejaVu Serif', serif" transform="matrix(1.0 0 0 1 519.25 695.6)">−9.5</text>
<text id="f0_s0_A_xt5" x="0" y="0" font-size="26.4" text-anchor="middle" font-family="'Liberation Serif', 'DejaVu Serif', serif" transform="matrix(1.0 0 0 1 600 695.6)">−9.0</text>
<text id="f0_s0_A_xt6" x="0" y="0" font-size="26.4" text-anchor="middle" font-family="'Liberation Serif', 'DejaVu Serif', serif" transform="matrix(1.0 0 0 1 680.75 695.6)">−8.5</text>
<text id="f0_s0_A_xt7" x="0" y="0" font-size="26.4" text-anchor="middle" font-family="'Liberation Serif', 'DejaVu Serif', serif" transform="matrix(1.0 0 0 1 761.5 695.6)">−8.0</text>
<text id="f0_s0_A_xt8" x="0" y="0" font-size="26.4" text-anchor="middle" font-family="'Liberation Serif', 'DejaVu Serif', serif" transform="matrix(1.0 0 0 1 842.25 695.6)">−7.5</text>
<text id="f0_s0_dm0" x="656" y="128.5" font-size="55" font-family="'Liberation Serif', 'DejaVu Serif', serif" transform="matrix(1.02034 0 0 1.01000 -15.483 -0.550)"><tspan font-style="italic">d</tspan><tspan font-style="italic" font-size="38.5" dy="6.7">M</tspan></text>
<text id="f0_s0_dm1" x="728" y="128.5" font-size="55" font-family="'Liberation Serif', 'DejaVu Serif', serif" transform="matrix(1.24400 0 0 1.17308 -181.064 -15.962)">&lt;</text>
<text id="f0_s0_dm2" x="773" y="128.5" font-size="55" font-family="'Liberation Serif', 'DejaVu Serif', serif" transform="matrix(0.99487 0 0 1.03333 2.674 -5.600)">80 pc</text>
<text id="f0_s0_fm0" x="726" y="178.9" font-size="31" font-family="'Liberation Serif', 'DejaVu Serif', serif" transform="matrix(1.10926 0 0 0.97586 -79.322 3.890)"><tspan font-style="italic">f</tspan><tspan font-size="22" dy="4.5">multi</tspan></text>
<text id="f0_s0_fm1" x="795" y="178.9" font-size="31" font-family="'Liberation Serif', 'DejaVu Serif', serif" transform="matrix(1.27333 0 0 1.28750 -218.973 -45.850)">=</text>
<text id="f0_s0_fm2" x="821" y="178.9" font-size="31" font-family="'Liberation Serif', 'DejaVu Serif', serif" transform="matrix(1.01765 0 0 1.06190 -15.706 -10.681)">0.345</text>
<rect x="131.9" y="75.9" width="386.5" height="100.1" rx="5" fill="#fff" fill-opacity="0.8" stroke="#d9d9d9" stroke-width="1"/>
<circle cx="176.6" cy="102.7" r="2.6" fill="#ff0000"/>
<circle cx="176.6" cy="148.1" r="2.6" fill="#000080"/>
<text id="f0_leg0" x="235.4" y="110.9" font-size="31" text-anchor="start" font-family="'Liberation Serif', 'DejaVu Serif', serif" transform="matrix(1.04402 0 0 0.97826 -12.232 3.013)">observed ensemble</text>
<text id="f0_leg1" x="235.4" y="156.3" font-size="31" text-anchor="start" font-family="'Liberation Serif', 'DejaVu Serif', serif" transform="matrix(1.03822 0 0 0.97826 -9.821 4.291)">Newtonian ensemble</text>
<g transform="matrix(0.95333 0 0 0.56190 -16.820 183.076)"><g transform="translate(60 402) rotate(-90)">
<text id="f0_yA0" x="0" y="0" font-size="46" text-anchor="middle" font-family="'Liberation Serif', 'Noto Serif CJK SC', serif" stroke="#000" stroke-width="1.6" stroke-linejoin="round">〈</text>
</g></g>
<g transform="matrix(0.99677 0 0 1.09231 0.216 -34.200)"><g transform="translate(36 377) rotate(-90)">
<text id="f0_yA1" x="0" y="0" font-size="46" text-anchor="middle" font-family="'Liberation Serif', 'DejaVu Serif', serif">Δ</text>
</g></g>
<g transform="matrix(0.85417 0 0 0.72692 4.971 95.127)"><g transform="translate(41.7 350) rotate(-90)">
<text id="f0_yA2" x="0" y="0" font-size="32" text-anchor="middle" font-family="'Liberation Serif', 'Noto Serif CJK SC', serif" stroke="#000" stroke-width="1.0" stroke-linejoin="round">⊥</text>
</g></g>
<g transform="matrix(0.95333 0 0 0.55714 -16.820 138.557)"><g transform="translate(60 327) rotate(-90)">
<text id="f0_yA3" x="0" y="0" font-size="46" text-anchor="middle" font-family="'Liberation Serif', 'Noto Serif CJK SC', serif" stroke="#000" stroke-width="1.6" stroke-linejoin="round">〉</text>
</g></g>
<path d="M1167.35 59.5V673.3M1248.1 59.5V673.3M1328.85 59.5V673.3M1409.6 59.5V673.3M1490.35 59.5V673.3M1571.1 59.5V673.3M1651.85 59.5V673.3M1732.6 59.5V673.3M1813.35 59.5V673.3M1086.6 673.3H1894.1M1086.6 611.92H1894.1M1086.6 550.54H1894.1M1086.6 489.16H1894.1M1086.6 427.78H1894.1M1086.6 366.4H1894.1M1086.6 305.02H1894.1M1086.6 243.64H1894.1M1086.6 182.26H1894.1M1086.6 120.88H1894.1" stroke="#b4e6e6" stroke-width="1" stroke-dasharray="1.2 1.2" fill="none"/>
<path d="M1363.5 420.96h0M1365.6 416.02h0M1358.76 417.94h0M1361.33 419.49h0M1367.42 416.21h0M1361.92 417.75h0M1363.68 413.15h0M1364.13 414.74h0M1363.6 412.82h0M1359.32 414.29h0M1364.25 410.02h0M1366.57 408.6h0M1366.07 408.52h0M1362.97 407.75h0M1364.65 410.63h0M1365.82 408.18h0M1363.33 409.93h0M1364.36 407.95h0M1364.28 402.32h0M1362.91 403.82h0M1360.2 404.68h0M1359.37 402.12h0M1361.05 403.61h0M1364.3 402.51h0M1363.38 403.76h0M1363.88 402.67h0M1365.83 401.34h0M1366.9 406.14h0M1365.78 402.57h0M1364.08 397.62h0M1363.43 396.66h0M1363.67 397.27h0M1363.41 400.84h0M1365.19 400.76h0M1367.42 400.47h0M1361.28 398.37h0M1367.44 401.05h0M1364.03 399.91h0M1361.19 399.83h0M1361.85 397.69h0M1367.73 399.15h0M1363.17 398.32h0M1364.87 397.27h0M1364.22 398.58h0M1359.76 397.88h0M1359.75 396.69h0M1363.34 397.76h0M1367.72 396.11h0M1362.59 395.19h0M1361.36 392.26h0M1361.87 393.37h0M1363.19 395.55h0M1362.89 394.5h0M1366.31 395.83h0M1358.9 392.12h0M1365.63 394.77h0M1360.81 393.44h0M1361.4 392.54h0M1360.88 392.04h0M1365.92 395.72h0M1363.17 396.02h0M1360.98 393.87h0M1362.75 393.15h0M1367.39 392h0M1366.06 391.41h0M1361.77 394.08h0M1361.98 395.03h0M1362.49 392.77h0M1366.16 388.06h0M1366.41 388.66h0M1361.41 387.18h0M1362.86 391.32h0M1364.96 387.16h0M1356.85 389.61h0M1363.35 388.57h0M1363.32 391.33h0M1358.38 389.58h0M1362.93 390.56h0M1365.88 390.13h0M1365.22 388.28h0M1366.13 387.44h0M1361.98 387.12h0M1361.67 388.48h0M1368.1 389.4h0M1362.75 389.87h0M1362.69 388.42h0M1362.16 387.25h0M1365.26 391.28h0M1358.85 388h0M1364.91 389.1h0M1362.85 389.62h0M1364.24 387.32h0M1359.83 390.74h0M1360.92 383.31h0M1366.12 384.31h0M1364.06 384.59h0M1363.54 383.65h0M1364.19 384.11h0M1362.49 382.13h0M1360.99 384.87h0M1364.47 386.22h0M1361.43 383.91h0M1361.88 385.46h0M1360.24 385.04h0M1365.26 381.81h0M1361.91 386.34h0M1363.17 382.23h0M1365.67 382.17h0M1362.58 383.84h0M1366.19 386.08h0M1361.94 382.21h0M1362.02 383.02h0M1362.58 385.62h0M1363.21 385.76h0M1366.38 385.35h0M1361.9 384.58h0M1364.09 382.6h0M1363.06 377.11h0M1360.32 380.54h0M1363.87 380.66h0M1368.97 376.76h0M1364.82 377.01h0M1361.08 381.03h0M1362.9 379.18h0M1364.65 376.77h0M1366.55 378.57h0M1366.01 380.64h0M1365.43 377.8h0M1362.65 380.74h0M1359.96 378.81h0M1367.73 379.91h0M1365.32 380.73h0M1361.53 381.26h0M1364.89 377.45h0M1363 380.52h0M1362.39 380.22h0M1363.52 380.55h0M1362.26 380.52h0M1361.77 379.6h0M1366.19 381.06h0M1363.56 377.85h0M1360.84 376.04h0M1361.96 373.81h0M1362.04 375.48h0M1368.54 374.69h0M1367.63 372.01h0M1364.88 376.3h0M1364.12 371.93h0M1365.93 375.74h0M1362.29 372.15h0M1363.37 372.86h0M1364.51 372.99h0M1361.78 373.41h0M1365.43 375.01h0M1361.23 374.44h0M1363.54 375.77h0M1364.81 374.44h0M1364.47 376.62h0M1365.93 373.1h0M1365.2 376.54h0M1360.98 369.64h0M1366.25 370.41h0M1363.47 371.13h0M1364.31 370h0M1364.96 369.51h0M1362.63 367.08h0M1362.73 371.42h0M1361.4 369.59h0M1361.96 368.56h0M1362.84 370.35h0M1364.88 370.25h0M1363.37 368.97h0M1363.22 371.4h0M1362.5 366.87h0M1364.9 367.92h0M1363.96 368.13h0M1366.71 362.35h0M1362.04 364.97h0M1364.17 366.49h0M1363.41 366.01h0M1363.9 365.52h0M1364.76 362.57h0M1364.14 362.78h0M1367.38 365.59h0M1363.93 357.31h0M1365.44 358.32h0M1362.07 359.36h0M1365.57 359.4h0M1360.04 357.72h0M1360.18 359.88h0M1363.05 359.09h0M1363.61 358.71h0M1364.63 360.01h0M1361.68 353.81h0M1366.16 352.11h0M1364.81 353.91h0M1361.54 345.26h0M1363.29 345.78h0M1365.66 346.65h0M1362.49 343.7h0M1565.16 366.17h0M1569.2 363.02h0M1567.62 360.24h0M1565.83 356.76h0M1563.64 357.23h0M1567.57 355.29h0M1567.46 356.15h0M1566.09 356.19h0M1568.32 355.73h0M1570.26 356.63h0M1567.21 355.58h0M1563.94 352.72h0M1567.34 352.11h0M1564.26 352.42h0M1566.44 352.04h0M1566.28 353.42h0M1567.12 351.8h0M1565.48 351.87h0M1563.77 352.35h0M1565.93 353.63h0M1570.83 352.41h0M1566.93 353.6h0M1565.48 349.85h0M1566.93 350.65h0M1569.34 350.29h0M1564.54 351.03h0M1568.71 350.88h0M1563.61 351.71h0M1563.66 350.63h0M1565 351.64h0M1568.29 349.96h0M1568.19 351.17h0M1566.24 350.73h0M1567.41 350.18h0M1565.71 347.95h0M1566.36 348.05h0M1568.89 347.98h0M1565.89 348.46h0M1568.38 346.98h0M1566.43 347.66h0M1567.75 348.72h0M1564.28 348.11h0M1565.93 348.79h0M1564.13 346.99h0M1565.61 347.38h0M1564.9 345.95h0M1565.22 346.65h0M1567.66 344.57h0M1566.86 345.09h0M1567.52 345.17h0M1570.03 344.98h0M1568.91 345.6h0M1566.61 346.23h0M1566.02 344.56h0M1568.68 346.58h0M1566.42 346h0M1566.36 346.38h0M1567.9 342.45h0M1567.74 341.93h0M1566.01 344.05h0M1565.97 342.37h0M1564.76 342.27h0M1567.84 342.35h0M1567.63 343.09h0M1567.53 343.72h0M1563.76 343.6h0M1567.92 342.01h0M1566.16 341.98h0M1566.47 342.65h0M1567.59 343.83h0M1565.9 342.81h0M1569.98 343.3h0M1565.39 343.86h0M1567.1 342.91h0M1564.86 340.73h0M1567.74 340.97h0M1567.36 339.54h0M1566.88 341.5h0M1567.54 341.87h0M1568.72 340.84h0M1566.47 341.8h0M1568.52 341.73h0M1566.09 341.14h0M1566.51 340.1h0M1562.57 339.48h0M1567.02 340.35h0M1566.19 340.75h0M1567.08 340.82h0M1569.51 340.88h0M1568.98 341.5h0M1565.23 339.51h0M1570.05 340.39h0M1563.86 341.08h0M1565.19 341.88h0M1564.2 338.86h0M1565.84 337.09h0M1565.88 338.74h0M1567.78 339.06h0M1563.08 337.61h0M1570.69 339.32h0M1571.09 337.3h0M1569.56 338.27h0M1570.5 337.31h0M1572.03 338.15h0M1568.5 337.99h0M1566 339.09h0M1566.13 334.83h0M1564.94 335.9h0M1565.26 334.87h0M1569.86 336.92h0M1568.95 334.6h0M1568.64 336.7h0M1567.62 336.16h0M1568.18 336.79h0M1566.13 336.04h0M1565.56 336.24h0M1568.1 334.99h0M1569.35 336.16h0M1566.69 334.94h0M1569.78 337.01h0M1561.55 334.93h0M1567.82 336.21h0M1565.75 335.77h0M1564.73 335.58h0M1565.22 336.49h0M1564.07 335.47h0M1568.77 335.22h0M1568.29 336.41h0M1565.41 333.91h0M1569.1 332.67h0M1567.86 333.34h0M1568.75 332.2h0M1569.4 333.15h0M1566.42 333.71h0M1564.37 332.15h0M1571.34 334.11h0M1567.52 333.15h0M1566.61 332.37h0M1569.1 332.48h0M1571 332.58h0M1566.24 334.1h0M1567.63 333.31h0M1567.7 333.68h0M1566.07 332.78h0M1565.58 333.83h0M1567.6 333h0M1567.11 330.68h0M1566.22 329.82h0M1565.54 330.62h0M1566.96 331.69h0M1567.8 331.29h0M1564.84 329.91h0M1560.8 331.4h0M1565.37 330.48h0M1566.84 330.45h0M1565.6 329.67h0M1565.67 330.88h0M1567.02 330.91h0M1566.75 331.41h0M1565.02 331.93h0M1568.86 331.91h0M1562.68 330.92h0M1565.47 330.24h0M1565.21 331.45h0M1568.97 327.72h0M1568.45 328.12h0M1569.63 328.83h0M1566.15 329.43h0M1565.7 328.74h0M1566.39 328.33h0M1567.42 329.49h0M1570.73 328.29h0M1570.33 327.54h0M1571.04 329.14h0M1568.06 327.4h0M1565.81 328.3h0M1568.87 328.71h0M1568.21 325.14h0M1565.96 326.57h0M1570.47 326.46h0M1567.48 326.42h0M1563.19 325.11h0M1568.34 326.33h0M1567.41 322.42h0M1563.31 323.1h0M1562 323.9h0M1568 322.41h0M1563.05 323.9h0M1568.3 323.93h0M1562.65 323.45h0M1567.18 324.25h0M1567.77 322.52h0M1565.75 320.44h0M1566.79 321.63h0M1563.83 321.78h0M1565.48 319.46h0M1567.83 312.7h0M1562.32 313.86h0M1568.12 308.91h0M1567.1 309.57h0M1732.09 307.44h0M1729.75 304.89h0M1730.41 305.05h0M1732.51 299.08h0M1729.57 298.18h0M1731.13 300.03h0M1729.23 298.27h0M1730 297.99h0M1726.33 296.05h0M1733.68 297.43h0M1728.79 297.6h0M1732.39 297.24h0M1733.5 297.31h0M1730 295.6h0M1732.24 295.79h0M1729.46 293.5h0M1728.67 295.13h0M1735.19 293.05h0M1732.7 294.24h0M1733.26 293.39h0M1732.54 294.41h0M1729.4 293.19h0M1730.73 295.24h0M1732.4 294.35h0M1734.5 293.12h0M1729.4 290.42h0M1730.06 290.67h0M1735.15 292.75h0M1734.04 291.66h0M1737.23 292.26h0M1731.84 291.91h0M1730.48 290.57h0M1735.56 292.02h0M1730.58 291.05h0M1729.02 291.05h0M1731.34 291.47h0M1730.13 292.17h0M1730.96 291.85h0M1726.18 288.23h0M1728.75 290.25h0M1730.28 289.09h0M1731.27 288.77h0M1728.37 289.16h0M1733.18 290.13h0M1731.59 289.28h0M1732.81 288.55h0M1732.48 289.73h0M1730.03 289.83h0M1734.88 289.86h0M1732.17 288.62h0M1734.02 289.1h0M1728.95 289.35h0M1727.41 288.09h0M1730.97 289.59h0M1730.11 288.72h0M1727.52 289.01h0M1729.65 288.31h0M1731.58 286.46h0M1728.52 287.03h0M1731.07 286.88h0M1733.06 287.17h0M1729.57 287.86h0M1729.48 286.96h0M1731.1 286.34h0M1730.99 286.84h0M1732.86 285.91h0M1729.04 287.54h0M1735.08 285.6h0M1734.75 286.05h0M1728.83 287.12h0M1730.61 287.61h0M1730.67 286h0M1733.43 286.51h0M1732.86 285.46h0M1736.97 286.46h0M1733.63 284.64h0M1731.95 285.28h0M1729.24 285.22h0M1733 283.06h0M1730.06 283.3h0M1729.74 285.35h0M1730.55 283.11h0M1729.15 283.65h0M1731.08 283.68h0M1730.07 284.6h0M1729.47 283.49h0M1733.73 285.45h0M1729.41 284.48h0M1730.29 285.12h0M1732.87 284.02h0M1732.34 285.09h0M1733.68 283.33h0M1730.78 284.4h0M1729.52 283.69h0M1728.8 284.32h0M1734.72 284.79h0M1731.97 283.64h0M1730.91 283.41h0M1729.01 284.37h0M1730.3 285.23h0M1730.34 284h0M1729.08 280.71h0M1728.71 280.67h0M1731.42 282.8h0M1730.08 282.09h0M1728.94 281.42h0M1728.7 281.58h0M1729.69 281.41h0M1733.25 280.59h0M1733.24 282.5h0M1728.68 280.54h0M1729.17 282.63h0M1730.59 281.13h0M1730.72 282.9h0M1733.53 282.44h0M1728.54 282.14h0M1733.83 282.01h0M1731.26 281.08h0M1727.55 280.84h0M1727.01 280.73h0M1733.44 282.38h0M1733.77 282.13h0M1730.63 280.58h0M1730.57 282.07h0M1731.31 281.34h0M1736.1 282.9h0M1731.13 282.47h0M1736.49 281.52h0M1734.31 282.02h0M1732.65 281.61h0M1727.66 281.92h0M1730.98 278.66h0M1728.65 279.58h0M1730.85 279.66h0M1730.75 278.09h0M1732.93 280.15h0M1729.05 279.23h0M1731.3 280.08h0M1735.67 280.45h0M1732.98 278.56h0M1731.69 278.9h0M1732.42 280.35h0M1731.67 279.62h0M1726.52 279.61h0M1730.88 279.77h0M1732.95 278.62h0M1731.68 279.41h0M1732.68 278.5h0M1731.04 278.19h0M1730.63 280.38h0M1730.65 277.06h0M1727.73 277.22h0M1730.52 276.19h0M1728.05 277.44h0M1732.75 277.29h0M1730.36 278.04h0M1733.41 276.52h0M1734.4 275.67h0M1733.16 275.86h0M1735.64 277.59h0M1735.24 277.37h0M1729.94 276.41h0M1732.93 276.71h0M1734.11 276.45h0M1730.64 276.78h0M1726.35 273.78h0M1732.65 275.21h0M1732.59 273.85h0M1731.49 275.28h0M1727.94 273.31h0M1732.57 275.2h0M1732.84 274.14h0M1731.78 273.38h0M1731.75 273.31h0M1733.13 273.28h0M1733.19 273.91h0M1732.89 274.29h0M1732.81 274.07h0M1736.77 273.4h0M1733.91 272.13h0M1728.12 272.53h0M1734.1 270.93h0M1733.13 271.99h0M1732.07 271.07h0M1735.31 272.57h0M1729.11 271.41h0M1728.68 270.89h0M1730.42 272.57h0M1730.38 271.93h0M1730.76 271.69h0M1731.02 269.23h0M1728.6 269.45h0M1728.88 270.28h0M1728.55 269.34h0M1729.07 269h0M1735.64 268.37h0M1726.42 268.46h0M1731.78 267.73h0M1732.31 264.13h0M1733.65 261.57h0" stroke="#ff0000" stroke-width="2.0" stroke-linecap="round" fill="none" opacity="0.6"/>
<path d="M1360.93 511.32h0M1365.38 499h0M1364.02 496.03h0M1366.16 496.12h0M1365.63 494.12h0M1365.44 493.92h0M1367.4 491.92h0M1366.13 492.48h0M1363.49 494.44h0M1363.82 490.76h0M1363.33 491.82h0M1364.17 493.62h0M1360.53 493.29h0M1364.05 490.5h0M1363.62 485.75h0M1362.12 487.56h0M1363.39 481.95h0M1367.06 482.83h0M1363.6 484.69h0M1370.35 484.86h0M1365.57 482.69h0M1365.54 475.99h0M1361.09 475.81h0M1367.31 478.57h0M1364.23 478.78h0M1362.19 478.85h0M1364.89 475.73h0M1365.94 472.95h0M1362.27 472.86h0M1361.06 472.58h0M1362.72 472.05h0M1364.29 473.29h0M1361.32 473.17h0M1365.69 471.09h0M1360.23 473.86h0M1365.89 470.94h0M1362.69 471.37h0M1363.53 473.53h0M1363.19 474.8h0M1363.12 474.83h0M1363.83 474.05h0M1363.18 469.37h0M1367.29 469.35h0M1364.83 466.72h0M1365.14 467.85h0M1365.06 469.46h0M1369.31 466.87h0M1361.51 469.44h0M1366.28 469.74h0M1357.97 467.91h0M1361.91 469.62h0M1363.98 469.01h0M1366.07 469.22h0M1363.73 469.9h0M1364.22 467.86h0M1362.94 460.93h0M1364.37 464.87h0M1362.89 463.24h0M1361.91 460.55h0M1364.11 460.95h0M1363.3 461.12h0M1362.24 462.74h0M1361.85 460.43h0M1366.24 462.89h0M1366.64 463.15h0M1361.49 464.56h0M1363.95 462.64h0M1359.01 464.08h0M1364.4 464.41h0M1363.77 461.05h0M1366.68 462.58h0M1358.94 461.24h0M1361.75 461.55h0M1363.16 455.91h0M1364.86 457.37h0M1363.74 458.78h0M1363.61 458.75h0M1365.36 459.72h0M1361.48 457.53h0M1363.43 459.08h0M1363.53 456.12h0M1365.12 458.99h0M1362.99 459.95h0M1364.63 457.23h0M1362.83 459.91h0M1364.97 459.11h0M1363.06 458.34h0M1367.5 455.85h0M1361.06 456.11h0M1364.72 456.13h0M1364.5 456.51h0M1369.02 459.3h0M1363.66 455.47h0M1363.9 456.6h0M1364.76 457.56h0M1361.17 459.64h0M1362.1 452.06h0M1362.78 450.82h0M1362.59 451.43h0M1366.69 452.44h0M1366.69 452.09h0M1364.71 453.46h0M1363.71 453.93h0M1363.37 452.59h0M1362.64 452.63h0M1360.37 450.73h0M1364.46 451.09h0M1365.87 452.46h0M1364.5 452.96h0M1364.09 453.32h0M1363.32 453.48h0M1362.31 454.71h0M1365.31 454.58h0M1366.08 452.57h0M1362.77 451.57h0M1361.67 452.62h0M1364.91 454.84h0M1365.43 449.09h0M1362.56 449.79h0M1366.14 449.22h0M1361.54 449.8h0M1360.74 448.11h0M1366.18 446.39h0M1364.09 447.02h0M1356.13 448.52h0M1365.19 446.28h0M1365.87 447.46h0M1359.68 446.73h0M1363.09 446.2h0M1363.82 447.64h0M1365.83 448.66h0M1366.17 449.35h0M1364.73 445.79h0M1362.03 450.17h0M1360.2 445.59h0M1359.93 442.58h0M1365 444.42h0M1363.01 445.42h0M1364.96 440.76h0M1363.14 444.26h0M1360.01 445.22h0M1358.49 442.98h0M1364.72 442.59h0M1362.42 444.64h0M1364.55 441.85h0M1363.45 442.12h0M1365.62 441.31h0M1362.83 440.88h0M1366.82 442.74h0M1363.59 442.75h0M1365.3 445.23h0M1362.94 437.83h0M1362.41 436.23h0M1363.86 436.39h0M1360.79 440.2h0M1366.73 438.2h0M1359.43 439.42h0M1361.47 436.14h0M1362.83 439.45h0M1364.58 438.94h0M1361.98 436.96h0M1363.6 439.65h0M1361.13 437h0M1365.55 438.48h0M1360.87 438.25h0M1362.66 437.39h0M1362.78 431.23h0M1361.84 432.64h0M1366.52 433.6h0M1364.51 432.33h0M1361.78 433.6h0M1362 435.02h0M1367.88 434.47h0M1366.19 430.33h0M1364.41 428.6h0M1360.58 428.99h0M1366.55 428.59h0M1364.67 427.09h0M1363.66 427.04h0M1363.11 428.01h0M1367.17 426.89h0M1363.51 426.3h0M1364.79 430.07h0M1361.02 428.32h0M1361.47 426.03h0M1364.39 423.4h0M1366.03 423.08h0M1362.42 417.17h0M1364.21 416.21h0M1364.52 420.77h0M1362.24 418.85h0M1362.81 418.28h0M1363.14 411.97h0M1363.9 415.24h0M1359.69 414.84h0M1362.7 410.41h0M1367.93 406.91h0M1361.63 409.73h0M1364.44 405.68h0M1362.71 402.13h0M1567.23 390.76h0M1569.27 388.93h0M1565.44 388.29h0M1568.69 387.05h0M1566.29 387h0M1568.82 385.09h0M1565.7 384.2h0M1563.04 385.44h0M1567.99 384.03h0M1564.82 382.01h0M1569.52 381.78h0M1566.01 381.88h0M1572.13 382.98h0M1567.32 382.78h0M1568.41 381.91h0M1566.3 383.21h0M1565.74 381.33h0M1565.87 382.85h0M1564.73 380.49h0M1563.24 378.9h0M1566.37 380.67h0M1568.42 379.38h0M1565.62 380.39h0M1566.57 379.11h0M1568.13 380.84h0M1568.59 380.71h0M1566.97 377.84h0M1568.84 378.51h0M1568.8 376.84h0M1566.7 378.71h0M1560.59 377.32h0M1572.37 377.15h0M1566.22 374.52h0M1567.7 375.29h0M1566.71 375.77h0M1565.63 374.11h0M1569.43 375.3h0M1567.34 373.16h0M1568.33 372.41h0M1565.35 372.09h0M1565.94 372.43h0M1568.62 371.83h0M1569.23 373.74h0M1569.28 373.46h0M1564.56 371.57h0M1567.33 370.32h0M1566.39 369.95h0M1565.86 370.13h0M1568.64 371.32h0M1565.04 370.09h0M1568.07 370.05h0M1565.33 370.78h0M1567.81 371.19h0M1567.35 370.23h0M1568.76 368.96h0M1566.62 370.64h0M1564.37 371.38h0M1571.92 369.22h0M1564.88 369.82h0M1562.45 370.97h0M1568.26 368.99h0M1566.11 369.78h0M1567.17 366.91h0M1563.53 368.31h0M1566.15 368.64h0M1568.98 366.78h0M1565.69 368.81h0M1569.34 367.56h0M1567.4 368.57h0M1564.32 368.37h0M1565.12 366.55h0M1567.04 366.7h0M1566.05 368.46h0M1567.47 368.09h0M1566.92 368.03h0M1569.41 368.51h0M1566.79 368.43h0M1567.35 364.08h0M1563.71 366.34h0M1567.84 365.07h0M1570 364.81h0M1562.88 364.49h0M1567.13 366.33h0M1569.84 364.91h0M1568.59 365.92h0M1570.63 364.86h0M1567.12 365.24h0M1566.89 364.85h0M1566.56 364.85h0M1567.22 365.36h0M1568.32 366.02h0M1564.77 366.21h0M1563.43 364.21h0M1568.91 364.89h0M1567.71 365.25h0M1570.3 364.34h0M1563.04 364.46h0M1567.84 364.55h0M1567.36 366.39h0M1563.03 364.99h0M1569.61 364.87h0M1568.3 364.23h0M1566.79 365.5h0M1568.89 362.02h0M1567.41 363.53h0M1567.06 363.11h0M1567.94 361.97h0M1564.3 363.02h0M1566.46 363.69h0M1566.05 363.82h0M1568.41 363.66h0M1569.22 362.26h0M1564.93 363.09h0M1569.33 362.15h0M1565.89 362.97h0M1570.48 363.19h0M1567.18 362.86h0M1565.02 359.77h0M1564.94 360.9h0M1569.83 360.5h0M1570.29 361.41h0M1565.59 361.31h0M1568.67 360.45h0M1567.15 359.4h0M1565.8 359.75h0M1561.12 361.41h0M1567.78 360.73h0M1566.44 359.23h0M1569.89 361.48h0M1564.88 360.05h0M1564.82 359.51h0M1566.33 359.97h0M1562.99 359.69h0M1564.6 361.21h0M1567.78 360.01h0M1567 359.38h0M1567.95 357.38h0M1570.15 358.32h0M1567.47 357.26h0M1566.66 357.48h0M1565.88 356.66h0M1565.17 356.78h0M1566.55 357.57h0M1566.2 357.24h0M1569.73 355.16h0M1568.82 356.56h0M1568.48 355.78h0M1570.36 356.13h0M1566.22 356.57h0M1562.24 355.14h0M1565.76 354.43h0M1566 355.5h0M1566.23 354.96h0M1565.46 356.24h0M1567.89 356.04h0M1566.26 356.49h0M1567.21 352.22h0M1568.69 352.88h0M1565.37 353.28h0M1566.26 352.73h0M1565.17 352.86h0M1562.32 351.75h0M1566.16 353.45h0M1568.73 353.64h0M1569.12 351.9h0M1567.26 350.56h0M1571.42 350.2h0M1563.98 350.7h0M1566.75 349.88h0M1567.68 350.48h0M1565.8 350.8h0M1572.22 349.24h0M1568.3 348.88h0M1563.48 347.86h0M1567.67 348.2h0M1569.58 346.92h0M1565.69 348.27h0M1567.51 347.79h0M1568.94 346.89h0M1568.81 345.34h0M1567.06 345.52h0M1565.6 345.98h0M1568.19 345.04h0M1569.67 346.16h0M1570.11 344.97h0M1565.86 342.48h0M1569.06 343.13h0M1565.73 344.31h0M1568.2 342.84h0M1568.44 341.09h0M1567.11 340.78h0M1572.25 340.71h0M1568.03 340.78h0M1568.2 339.13h0M1565.99 337.3h0M1566.4 338.62h0M1569.73 336.34h0M1566.59 332.24h0M1728.47 312.4h0M1731.92 311.13h0M1733.34 308.57h0M1731.49 309.63h0M1729.53 306.05h0M1732.6 305.66h0M1730.79 302.99h0M1738.57 303.41h0M1731.84 302.4h0M1731.66 300.48h0M1727.43 298.34h0M1729.9 299.6h0M1730.34 299.08h0M1732.49 297.03h0M1730.45 296.75h0M1731.96 296.42h0M1729.85 296.73h0M1729.5 295.31h0M1727.95 297.09h0M1731.51 297.12h0M1729.81 293.92h0M1731.06 294.12h0M1725.6 293.69h0M1731.75 294.45h0M1729.47 293.72h0M1730.6 293.92h0M1732.73 293.88h0M1728.57 291.71h0M1730.32 292.36h0M1734.7 290.72h0M1728.91 292.48h0M1735.19 291.56h0M1732.56 291.66h0M1730.02 292.27h0M1730.67 292.79h0M1731.99 292.21h0M1727.45 291.3h0M1732.75 292.21h0M1733.7 291.86h0M1730.29 292.49h0M1733.2 291.71h0M1730.29 288.66h0M1732.55 289.73h0M1729.17 289.33h0M1728.72 288.71h0M1726.84 290.27h0M1731.46 290.35h0M1730.65 287.97h0M1729.68 288.47h0M1730.91 289.18h0M1727.09 290.24h0M1730.96 290.24h0M1728.86 286.83h0M1732.78 285.76h0M1731.79 286.55h0M1731.26 286.2h0M1730.74 286.3h0M1728.88 286.45h0M1731.26 287.71h0M1730.89 287.21h0M1731.86 286.6h0M1729.83 286.98h0M1735.68 287.64h0M1730.18 285.5h0M1729.56 285.57h0M1729.67 287.02h0M1729.11 286.75h0M1726.8 287.74h0M1726.55 287.9h0M1732.07 286.85h0M1735.88 287.01h0M1733.81 286.06h0M1733.62 286.85h0M1733.82 286.16h0M1734.65 287.84h0M1731.64 283.36h0M1732.7 283.42h0M1737.37 284.06h0M1728.63 284.3h0M1731.07 283.16h0M1733.11 284.5h0M1732.18 284.89h0M1729.63 284.77h0M1734.66 284.93h0M1733.25 283.9h0M1731.65 283.23h0M1733.57 285.36h0M1731.84 283.05h0M1732.44 284.56h0M1726.26 283.48h0M1730.73 283.99h0M1726.52 282.51h0M1732.13 281.16h0M1730.5 282.16h0M1733.62 281.11h0M1729.31 281.56h0M1732 281.24h0M1730.52 281.56h0M1732.66 282.69h0M1732.74 280.59h0M1734.45 281.01h0M1733.64 280.75h0M1728.48 282.76h0M1729.93 280.87h0M1730.8 281.03h0M1729.73 282.27h0M1733.23 281.28h0M1729.02 280.87h0M1733.13 281.23h0M1735.26 281.51h0M1731.79 282.44h0M1730.69 282.99h0M1726.74 282.97h0M1730.35 281.95h0M1734.37 281.87h0M1731.77 281.94h0M1727.84 278.46h0M1731.94 279.82h0M1732.36 278.73h0M1733.88 279.71h0M1729.53 279.83h0M1728.22 279.1h0M1735.11 279.69h0M1732.42 280.47h0M1737.63 280.44h0M1731.08 276.24h0M1730.81 277.67h0M1734.42 276.09h0M1730.96 277.84h0M1737.79 276.41h0M1734.71 276.1h0M1731.32 277.29h0M1729.38 275.7h0M1729.12 276.02h0M1733.16 277.99h0M1732.46 277.48h0M1728.02 277.79h0M1737.32 276.64h0M1731.86 275.77h0M1731.1 276.33h0M1731.85 278.04h0M1730.41 277.33h0M1734.08 275.65h0M1729.67 276.27h0M1731.31 275.13h0M1731.3 274.29h0M1728.09 274.53h0M1732.53 275.57h0M1732.26 275.02h0M1731.96 273.33h0M1732.27 273.77h0M1727.09 275.49h0M1739.82 274.41h0M1729.52 273.19h0M1734.56 274.49h0M1733.37 275.11h0M1733.74 274.24h0M1734.23 275.42h0M1726.29 275.3h0M1729.47 274.37h0M1728.45 274.1h0M1730.78 275.19h0M1729.76 271.17h0M1732.17 270.99h0M1730.77 271.53h0M1729.23 271.61h0M1731.44 272.82h0M1732.89 272.95h0M1733.42 271.53h0M1733.89 272.35h0M1731.02 273.03h0M1732.81 271.8h0M1732.64 271.39h0M1730.19 272.85h0M1729.4 271.78h0M1729.7 272.86h0M1733.96 272.15h0M1733.29 272.3h0M1731.47 270.06h0M1729.23 268.81h0M1732.46 269.82h0M1733.06 270h0M1731.94 269.6h0M1728.37 269.01h0M1730.22 268.56h0M1728.32 265.94h0M1732.53 267.89h0M1730.61 267.53h0M1731.55 265.85h0M1729.61 267.72h0M1731.98 267.25h0M1728.6 267.7h0M1728.7 266.1h0M1729.67 265.21h0M1731.02 265.77h0M1726.67 265.42h0M1732.98 260.9h0M1727.62 262.22h0M1730.05 262.6h0M1731.2 261.66h0" stroke="#000080" stroke-width="2.0" stroke-linecap="round" fill="none" opacity="0.6"/>
<path d="M1363.57 384.81L1567.06 338.17L1731.31 282.92" stroke="#ff1a1a" stroke-width="2.3" fill="none"/>
<circle cx="1363.57" cy="384.81" r="3" fill="#ff1a1a"/>
<circle cx="1567.06" cy="338.17" r="3" fill="#ff1a1a"/>
<circle cx="1731.31" cy="282.92" r="3" fill="#ff1a1a"/>
<path d="M1363.57 453.56L1567.06 363.94L1731.31 281.7" stroke="#14148c" stroke-width="2.3" fill="none"/>
<circle cx="1363.57" cy="453.56" r="3" fill="#14148c"/>
<circle cx="1567.06" cy="363.94" r="3" fill="#14148c"/>
<circle cx="1731.31" cy="281.7" r="3" fill="#14148c"/>
<rect x="1112.3" y="476.4" width="225.7" height="171.8" fill="#fff" stroke="none"/>
<path d="M1145.52 648.2H1150.04V645.55H1145.52ZM1159.09 648.2H1163.61V639.81H1159.09ZM1163.61 648.2H1168.13V619.56H1163.61ZM1168.13 648.2H1172.65V642.81H1168.13ZM1172.65 648.2H1177.18V634.2H1172.65ZM1177.18 648.2H1181.7V631.19H1177.18ZM1181.7 648.2H1186.22V608.2H1181.7ZM1186.22 648.2H1190.74V608.2H1186.22ZM1190.74 648.2H1195.27V596.99H1190.74ZM1195.27 648.2H1199.79V582.21H1195.27ZM1199.79 648.2H1204.31V588.09H1199.79ZM1204.31 648.2H1208.84V596.99H1204.31ZM1208.84 648.2H1213.36V603.14H1208.84ZM1213.36 648.2H1217.88V605.19H1213.36ZM1217.88 648.2H1222.4V628.04H1217.88ZM1222.4 648.2H1226.93V614.09H1222.4ZM1226.93 648.2H1231.45V642.81H1226.93ZM1231.45 648.2H1235.97V634.2H1231.45ZM1235.97 648.2H1240.49V639.39H1235.97ZM1240.49 648.2H1245.02V639.39H1240.49ZM1245.02 648.2H1249.54V642.81H1245.02Z" fill="#000080" fill-opacity="0.7"/>
<path d="M1226.93 648.2H1231.45V645.55H1226.93ZM1231.45 648.2H1235.97V634.2H1231.45ZM1235.97 648.2H1240.49V636.93H1235.97ZM1240.49 648.2H1245.02V625.71H1240.49ZM1245.02 648.2H1249.54V616.82H1245.02ZM1249.54 648.2H1254.06V596.99H1249.54ZM1254.06 648.2H1258.59V588.09H1254.06ZM1258.59 648.2H1263.11V577.15H1258.59ZM1263.11 648.2H1267.63V579.47H1263.11ZM1267.63 648.2H1272.15V579.47H1267.63ZM1272.15 648.2H1276.68V594.25H1272.15ZM1276.68 648.2H1281.2V603.14H1276.68ZM1281.2 648.2H1285.72V625.71H1281.2ZM1285.72 648.2H1290.24V622.57H1285.72ZM1290.24 648.2H1294.77V639.81H1290.24ZM1299.29 648.2H1303.81V636.93H1299.29Z" fill="#ff0000" fill-opacity="0.7"/>
<rect x="1112.3" y="476.4" width="225.7" height="171.8" fill="none" stroke="#000" stroke-width="1.3"/>
<text id="f0_s1_i0_t1" x="1332" y="501.4" font-size="18.5" text-anchor="end" font-family="'Liberation Serif', 'DejaVu Serif', serif" transform="matrix(1.02110 0 0 0.98667 -27.985 7.307)">−0.215<tspan font-size="21.27" dy="1.3" dx="2.77">±</tspan><tspan font-size="18.5" dy="-1.3" dx="2.59">0.013</tspan></text>
<text id="f0_s1_i0_t2" x="1124.3" y="528" font-size="18.5" text-anchor="start" font-family="'Liberation Serif', 'DejaVu Serif', serif" transform="matrix(1.00818 0 0 1.03571 -9.705 -18.693)">−0.271<tspan font-size="21.27" dy="1.3" dx="2.77">±</tspan><tspan font-size="18.5" dy="-1.3" dx="2.59">0.017</tspan></text>
<text id="f0_s1_i0_xt0" x="0" y="0" font-size="17.1" text-anchor="middle" font-family="'Liberation Serif', 'DejaVu Serif', serif" transform="matrix(1.0 0 0 1 1112.3 665.8)">−0.35</text>
<text id="f0_s1_i0_xt1" x="0" y="0" font-size="17.1" text-anchor="middle" font-family="'Liberation Serif', 'DejaVu Serif', serif" transform="matrix(1.0 0 0 1 1168.72 665.8)">−0.30</text>
<text id="f0_s1_i0_xt2" x="0" y="0" font-size="17.1" text-anchor="middle" font-family="'Liberation Serif', 'DejaVu Serif', serif" transform="matrix(1.0 0 0 1 1225.15 665.8)">−0.25</text>
<text id="f0_s1_i0_xt3" x="0" y="0" font-size="17.1" text-anchor="middle" font-family="'Liberation Serif', 'DejaVu Serif', serif" transform="matrix(1.0 0 0 1 1281.58 665.8)">−0.20</text>
<text id="f0_s1_i0_xt4" x="0" y="0" font-size="17.1" text-anchor="middle" font-family="'Liberation Serif', 'DejaVu Serif', serif" transform="matrix(1.0 0 0 1 1338 665.8)">−0.15</text>
<rect x="1377.4" y="476.4" width="225.7" height="171.8" fill="#fff" stroke="none"/>
<path d="M1405.46 648.2H1411.1V642.81H1405.46ZM1411.1 648.2H1416.74V639.81H1411.1ZM1416.74 648.2H1422.38V636.93H1416.74ZM1422.38 648.2H1428.02V622.57H1422.38ZM1428.02 648.2H1433.66V625.44H1428.02ZM1433.66 648.2H1439.31V631.19H1433.66ZM1439.31 648.2H1444.95V634.2H1439.31ZM1444.95 648.2H1450.59V625.44H1444.95ZM1450.59 648.2H1456.23V599.72H1450.59ZM1456.23 648.2H1461.87V605.19H1456.23ZM1461.87 648.2H1467.51V574H1461.87ZM1467.51 648.2H1473.16V608.2H1467.51ZM1473.16 648.2H1478.8V594.25H1473.16ZM1478.8 648.2H1484.44V625.44H1478.8ZM1484.44 648.2H1490.08V614.09H1484.44ZM1490.08 648.2H1495.72V622.57H1490.08ZM1495.72 648.2H1501.37V631.19H1495.72ZM1501.37 648.2H1507.01V625.44H1501.37ZM1507.01 648.2H1512.65V631.19H1507.01ZM1512.65 648.2H1518.29V636.93H1512.65ZM1518.29 648.2H1523.93V636.93H1518.29ZM1523.93 648.2H1529.57V639.81H1523.93ZM1529.57 648.2H1535.22V645.55H1529.57ZM1535.22 648.2H1540.86V645.55H1535.22Z" fill="#000080" fill-opacity="0.7"/>
<path d="M1461.87 648.2H1467.51V645.55H1461.87ZM1467.51 648.2H1473.16V645.55H1467.51ZM1473.16 648.2H1478.8V645.55H1473.16ZM1478.8 648.2H1484.44V642.81H1478.8ZM1484.44 648.2H1490.08V631.19H1484.44ZM1490.08 648.2H1495.72V616.82H1490.08ZM1495.72 648.2H1501.37V614.09H1495.72ZM1501.37 648.2H1507.01V616.82H1501.37ZM1507.01 648.2H1512.65V614.09H1507.01ZM1512.65 648.2H1518.29V599.72H1512.65ZM1518.29 648.2H1523.93V591.1H1518.29ZM1523.93 648.2H1529.57V614.09H1523.93ZM1529.57 648.2H1535.22V585.63H1529.57ZM1535.22 648.2H1540.86V596.99H1535.22ZM1540.86 648.2H1546.5V596.99H1540.86ZM1546.5 648.2H1552.14V611.08H1546.5ZM1552.14 648.2H1557.78V631.19H1552.14ZM1557.78 648.2H1563.43V622.57H1557.78ZM1563.43 648.2H1569.07V639.81H1563.43ZM1569.07 648.2H1574.71V645.55H1569.07ZM1580.35 648.2H1585.99V642.81H1580.35ZM1591.63 648.2H1597.28V642.81H1591.63Z" fill="#ff0000" fill-opacity="0.7"/>
<rect x="1377.4" y="476.4" width="225.7" height="171.8" fill="none" stroke="#000" stroke-width="1.3"/>
<text id="f0_s1_i1_t1" x="1597.1" y="501.4" font-size="18.5" text-anchor="end" font-family="'Liberation Serif', 'DejaVu Serif', serif" transform="matrix(1.02110 0 0 0.98667 -33.477 7.307)">−0.177<tspan font-size="21.27" dy="1.3" dx="2.77">±</tspan><tspan font-size="18.5" dy="-1.3" dx="2.59">0.008</tspan></text>
<text id="f0_s1_i1_t2" x="1389.4" y="528" font-size="18.5" text-anchor="start" font-family="'Liberation Serif', 'DejaVu Serif', serif" transform="matrix(1.01743 0 0 1.03571 -24.629 -18.693)">−0.198<tspan font-size="21.27" dy="1.3" dx="2.77">±</tspan><tspan font-size="18.5" dy="-1.3" dx="2.59">0.010</tspan></text>
<text id="f0_s1_i1_xt0" x="0" y="0" font-size="17.1" text-anchor="middle" font-family="'Liberation Serif', 'DejaVu Serif', serif" transform="matrix(1.0 0 0 1 1377.4 665.8)">−0.23</text>
<text id="f0_s1_i1_xt1" x="0" y="0" font-size="17.1" text-anchor="middle" font-family="'Liberation Serif', 'DejaVu Serif', serif" transform="matrix(1.0 0 0 1 1433.82 665.8)">−0.21</text>
<text id="f0_s1_i1_xt2" x="0" y="0" font-size="17.1" text-anchor="middle" font-family="'Liberation Serif', 'DejaVu Serif', serif" transform="matrix(1.0 0 0 1 1490.25 665.8)">−0.19</text>
<text id="f0_s1_i1_xt3" x="0" y="0" font-size="17.1" text-anchor="middle" font-family="'Liberation Serif', 'DejaVu Serif', serif" transform="matrix(1.0 0 0 1 1546.67 665.8)">−0.17</text>
<text id="f0_s1_i1_xt4" x="0" y="0" font-size="17.1" text-anchor="middle" font-family="'Liberation Serif', 'DejaVu Serif', serif" transform="matrix(1.0 0 0 1 1603.1 665.8)">−0.15</text>
<rect x="1642.9" y="476.4" width="225.7" height="171.8" fill="#fff" stroke="none"/>
<path d="M1710.31 648.2H1715.96V643.5H1710.31ZM1715.96 648.2H1721.62V643.5H1715.96ZM1721.62 648.2H1727.27V643.5H1721.62ZM1727.27 648.2H1732.92V643.5H1727.27ZM1732.92 648.2H1738.58V643.5H1732.92ZM1738.58 648.2H1744.23V641.17H1738.58ZM1744.23 648.2H1749.89V631.19H1744.23ZM1749.89 648.2H1755.54V631.19H1749.89ZM1755.54 648.2H1761.19V614.09H1755.54ZM1761.19 648.2H1766.85V620.93H1761.19ZM1766.85 648.2H1772.5V591.79H1766.85ZM1772.5 648.2H1778.16V608.89H1772.5ZM1778.16 648.2H1783.81V586.73H1778.16ZM1783.81 648.2H1789.46V625.71H1783.81ZM1789.46 648.2H1795.12V601.77H1789.46ZM1795.12 648.2H1800.77V604.1H1795.12ZM1800.77 648.2H1806.43V608.89H1800.77ZM1806.43 648.2H1812.08V631.19H1806.43ZM1812.08 648.2H1817.74V629.13H1812.08ZM1817.74 648.2H1823.39V641.45H1817.74ZM1823.39 648.2H1829.04V638.71H1823.39Z" fill="#000080" fill-opacity="0.7"/>
<path d="M1721.62 648.2H1727.27V646.23H1721.62ZM1727.27 648.2H1732.92V643.5H1727.27ZM1738.58 648.2H1744.23V635.97H1738.58ZM1744.23 648.2H1749.89V631.19H1744.23ZM1749.89 648.2H1755.54V623.66H1749.89ZM1755.54 648.2H1761.19V616.82H1755.54ZM1761.19 648.2H1766.85V601.77H1761.19ZM1766.85 648.2H1772.5V603.83H1766.85ZM1772.5 648.2H1778.16V584.67H1772.5ZM1778.16 648.2H1783.81V574.41H1778.16ZM1783.81 648.2H1789.46V601.77H1783.81ZM1789.46 648.2H1795.12V611.35H1789.46ZM1795.12 648.2H1800.77V614.09H1795.12ZM1800.77 648.2H1806.43V620.93H1800.77ZM1806.43 648.2H1812.08V631.19H1806.43ZM1812.08 648.2H1817.74V646.23H1812.08ZM1817.74 648.2H1823.39V646.23H1817.74ZM1823.39 648.2H1829.04V646.23H1823.39Z" fill="#ff0000" fill-opacity="0.7"/>
<rect x="1642.9" y="476.4" width="225.7" height="171.8" fill="none" stroke="#000" stroke-width="1.3"/>
<text id="f0_s1_i2_t1" x="1862.6" y="501.4" font-size="18.5" text-anchor="end" font-family="'Liberation Serif', 'DejaVu Serif', serif" transform="matrix(1.02110 0 0 0.98667 -39.590 7.307)">−0.132<tspan font-size="21.27" dy="1.3" dx="2.77">±</tspan><tspan font-size="18.5" dy="-1.3" dx="2.59">0.006</tspan></text>
<text id="f0_s1_i2_t2" x="1654.9" y="528" font-size="18.5" text-anchor="start" font-family="'Liberation Serif', 'DejaVu Serif', serif" transform="matrix(1.01743 0 0 1.03571 -29.766 -18.693)">−0.131<tspan font-size="21.27" dy="1.3" dx="2.77">±</tspan><tspan font-size="18.5" dy="-1.3" dx="2.59">0.008</tspan></text>
<text id="f0_s1_i2_xt0" x="0" y="0" font-size="17.1" text-anchor="middle" font-family="'Liberation Serif', 'DejaVu Serif', serif" transform="matrix(1.0 0 0 1 1642.9 665.8)">−0.18</text>
<text id="f0_s1_i2_xt1" x="0" y="0" font-size="17.1" text-anchor="middle" font-family="'Liberation Serif', 'DejaVu Serif', serif" transform="matrix(1.0 0 0 1 1699.32 665.8)">−0.16</text>
<text id="f0_s1_i2_xt2" x="0" y="0" font-size="17.1" text-anchor="middle" font-family="'Liberation Serif', 'DejaVu Serif', serif" transform="matrix(1.0 0 0 1 1755.75 665.8)">−0.14</text>
<text id="f0_s1_i2_xt3" x="0" y="0" font-size="17.1" text-anchor="middle" font-family="'Liberation Serif', 'DejaVu Serif', serif" transform="matrix(1.0 0 0 1 1812.17 665.8)">−0.12</text>
<text id="f0_s1_i2_xt4" x="0" y="0" font-size="17.1" text-anchor="middle" font-family="'Liberation Serif', 'DejaVu Serif', serif" transform="matrix(1.0 0 0 1 1868.6 665.8)">−0.10</text>
<rect x="1086.6" y="59.5" width="807.5" height="613.8" fill="none" stroke="#000" stroke-width="1.3"/>
<path d="M1167.35 669.8V676.8M1167.35 56V63M1248.1 669.8V676.8M1248.1 56V63M1328.85 669.8V676.8M1328.85 56V63M1409.6 669.8V676.8M1409.6 56V63M1490.35 669.8V676.8M1490.35 56V63M1571.1 669.8V676.8M1571.1 56V63M1651.85 669.8V676.8M1651.85 56V63M1732.6 669.8V676.8M1732.6 56V63M1813.35 669.8V676.8M1813.35 56V63M1083.1 673.3H1090.1M1890.6 673.3H1897.6M1083.1 611.92H1090.1M1890.6 611.92H1897.6M1083.1 550.54H1090.1M1890.6 550.54H1897.6M1083.1 489.16H1090.1M1890.6 489.16H1897.6M1083.1 427.78H1090.1M1890.6 427.78H1897.6M1083.1 366.4H1090.1M1890.6 366.4H1897.6M1083.1 305.02H1090.1M1890.6 305.02H1897.6M1083.1 243.64H1090.1M1890.6 243.64H1897.6M1083.1 182.26H1090.1M1890.6 182.26H1897.6M1083.1 120.88H1090.1M1890.6 120.88H1897.6" stroke="#000" stroke-width="2.0" fill="none"/>
<text id="f0_s1_A_yt0" x="0" y="0" font-size="26.4" text-anchor="end" font-family="'Liberation Serif', 'DejaVu Serif', serif" transform="matrix(1.0 0 0 1 1082.2 681.9)">−0.45</text>
<text id="f0_s1_A_yt1" x="0" y="0" font-size="26.4" text-anchor="end" font-family="'Liberation Serif', 'DejaVu Serif', serif" transform="matrix(1.0 0 0 1 1082.2 620.52)">−0.40</text>
<text id="f0_s1_A_yt2" x="0" y="0" font-size="26.4" text-anchor="end" font-family="'Liberation Serif', 'DejaVu Serif', serif" transform="matrix(1.0 0 0 1 1082.2 559.14)">−0.35</text>
<text id="f0_s1_A_yt3" x="0" y="0" font-size="26.4" text-anchor="end" font-family="'Liberation Serif', 'DejaVu Serif', serif" transform="matrix(1.0 0 0 1 1082.2 497.76)">−0.30</text>
<text id="f0_s1_A_yt4" x="0" y="0" font-size="26.4" text-anchor="end" font-family="'Liberation Serif', 'DejaVu Serif', serif" transform="matrix(1.0 0 0 1 1082.2 436.38)">−0.25</text>
<text id="f0_s1_A_yt5" x="0" y="0" font-size="26.4" text-anchor="end" font-family="'Liberation Serif', 'DejaVu Serif', serif" transform="matrix(1.0 0 0 1 1082.2 375)">−0.20</text>
<text id="f0_s1_A_yt6" x="0" y="0" font-size="26.4" text-anchor="end" font-family="'Liberation Serif', 'DejaVu Serif', serif" transform="matrix(1.0 0 0 1 1082.2 313.62)">−0.15</text>
<text id="f0_s1_A_yt7" x="0" y="0" font-size="26.4" text-anchor="end" font-family="'Liberation Serif', 'DejaVu Serif', serif" transform="matrix(1.0 0 0 1 1082.2 252.24)">−0.10</text>
<text id="f0_s1_A_yt8" x="0" y="0" font-size="26.4" text-anchor="end" font-family="'Liberation Serif', 'DejaVu Serif', serif" transform="matrix(1.0 0 0 1 1082.2 190.86)">−0.05</text>
<text id="f0_s1_A_yt9" x="0" y="0" font-size="26.4" text-anchor="end" font-family="'Liberation Serif', 'DejaVu Serif', serif" transform="matrix(1.0 0 0 1 1082.2 129.48)">0.00</text>
<text id="f0_s1_A_xt0" x="0" y="0" font-size="26.4" text-anchor="middle" font-family="'Liberation Serif', 'DejaVu Serif', serif" transform="matrix(1.0 0 0 1 1167.35 695.6)">−11.5</text>
<text id="f0_s1_A_xt1" x="0" y="0" font-size="26.4" text-anchor="middle" font-family="'Liberation Serif', 'DejaVu Serif', serif" transform="matrix(1.0 0 0 1 1248.1 695.6)">−11.0</text>
<text id="f0_s1_A_xt2" x="0" y="0" font-size="26.4" text-anchor="middle" font-family="'Liberation Serif', 'DejaVu Serif', serif" transform="matrix(1.0 0 0 1 1328.85 695.6)">−10.5</text>
<text id="f0_s1_A_xt3" x="0" y="0" font-size="26.4" text-anchor="middle" font-family="'Liberation Serif', 'DejaVu Serif', serif" transform="matrix(1.0 0 0 1 1409.6 695.6)">−10.0</text>
<text id="f0_s1_A_xt4" x="0" y="0" font-size="26.4" text-anchor="middle" font-family="'Liberation Serif', 'DejaVu Serif', serif" transform="matrix(1.0 0 0 1 1490.35 695.6)">−9.5</text>
<text id="f0_s1_A_xt5" x="0" y="0" font-size="26.4" text-anchor="middle" font-family="'Liberation Serif', 'DejaVu Serif', serif" transform="matrix(1.0 0 0 1 1571.1 695.6)">−9.0</text>
<text id="f0_s1_A_xt6" x="0" y="0" font-size="26.4" text-anchor="middle" font-family="'Liberation Serif', 'DejaVu Serif', serif" transform="matrix(1.0 0 0 1 1651.85 695.6)">−8.5</text>
<text id="f0_s1_A_xt7" x="0" y="0" font-size="26.4" text-anchor="middle" font-family="'Liberation Serif', 'DejaVu Serif', serif" transform="matrix(1.0 0 0 1 1732.6 695.6)">−8.0</text>
<text id="f0_s1_A_xt8" x="0" y="0" font-size="26.4" text-anchor="middle" font-family="'Liberation Serif', 'DejaVu Serif', serif" transform="matrix(1.0 0 0 1 1813.35 695.6)">−7.5</text>
<text id="f0_s1_dm0" x="1599" y="134.6" font-size="55" font-family="'Liberation Serif', 'DejaVu Serif', serif" transform="matrix(1.02034 0 0 0.99778 -34.263 0.113)"><tspan font-style="italic">d</tspan><tspan font-style="italic" font-size="38.5" dy="6.7">M</tspan></text>
<text id="f0_s1_dm1" x="1671" y="134.6" font-size="55" font-family="'Liberation Serif', 'DejaVu Serif', serif" transform="matrix(1.25200 0 0 1.17308 -424.048 -17.600)">&lt;</text>
<text id="f0_s1_dm2" x="1715" y="134.6" font-size="55" font-family="'Liberation Serif', 'DejaVu Serif', serif" transform="matrix(1.00069 0 0 1.03958 -2.284 -6.719)">200 pc</text>
<text id="f0_s1_fm" x="1860.9" y="190" font-size="31" text-anchor="end" font-family="'Liberation Serif', 'DejaVu Serif', serif" transform="matrix(1.05385 0 0 1.07619 -99.054 -14.476)">0.46</text>
<path d="M196.25 742.8V1186.2M277 742.8V1186.2M357.75 742.8V1186.2M438.5 742.8V1186.2M519.25 742.8V1186.2M600 742.8V1186.2M680.75 742.8V1186.2M761.5 742.8V1186.2M842.25 742.8V1186.2M115.5 1186.2H923M115.5 1112.3H923M115.5 1038.4H923M115.5 964.5H923M115.5 890.6H923M115.5 816.7H923M115.5 742.8H923" stroke="#b4e6e6" stroke-width="1" stroke-dasharray="1.2 1.2" fill="none"/>
<path d="M115.5 1038.4H923" stroke="#000" stroke-width="2.4" stroke-dasharray="8.3 3.9" fill="none"/>
<path d="M399.86 1033.68h0M398.95 856.74h0M390.78 830.69h0M395.23 945.12h0M399.02 1008.73h0M392.93 752.52h0M396.64 885.47h0M396.74 913.59h0M394.37 877.54h0M401.83 950.52h0M396.4 922.61h0M397.96 1041.18h0M397.31 882.27h0M389.95 818.04h0M391.09 864.05h0M389.88 994.81h0M395.92 869.84h0M396.41 955.13h0M394.26 1067.18h0M394.3 913.68h0M391.07 931.76h0M395.21 916.59h0M401.26 913.67h0M394.21 923.41h0M392.53 902.84h0M396.15 819.37h0M397.73 928.46h0M396.04 1013.95h0M403.06 945.46h0M402.02 834.07h0M396.56 927.69h0M393.84 860.08h0M401.13 992.53h0M397.6 899.03h0M394.66 1045.52h0M393.75 962.48h0M393.05 909.51h0M402.39 1010.08h0M392.72 898.94h0M397.93 788.35h0M387.35 906.05h0M396.75 828.96h0M401.83 845.02h0M402.36 1012.72h0M396.7 869.73h0M402.76 1078.2h0M398.4 902.5h0M398.39 1003.21h0M401.29 885.32h0M389.34 985.54h0M393.16 965.06h0M395.86 906.12h0M400.53 910.34h0M396.57 811.23h0M396.32 1030.53h0M396.06 938.65h0M396.21 935.59h0M398.05 1072.95h0M397.33 893.2h0M399.11 935.52h0M395.83 1040.85h0M394.69 890h0M399.4 934.02h0M393.27 940.95h0M397.29 961.74h0M396.15 999.25h0M396.29 956.81h0M398.46 879.95h0M396.83 925.39h0M393.62 877.92h0M392.44 919.3h0M396.46 847.55h0M394.6 1014.08h0M397.06 879.45h0M401.79 1037.94h0M397.4 913.49h0M393.61 948.43h0M396.71 1027.21h0M395.4 929.04h0M397.26 877.66h0M394.93 994.88h0M391.84 853.37h0M394.51 786.51h0M397.7 757.17h0M397.74 1031.55h0M394.95 920.06h0M396.5 922.14h0M398.68 1139.85h0M396.39 944.5h0M396.31 878.43h0M398.95 1006.08h0M397.09 946.32h0M395.84 972.43h0M401.39 990.34h0M399.44 994.6h0M397.17 1048.55h0M399.52 943.51h0M403.66 909.23h0M393.35 878.45h0M396.2 988.01h0M398.51 865.15h0M400.02 935.63h0M393.53 1001.14h0M390.6 928.11h0M396.02 833.95h0M397.87 944.69h0M396.11 1011.2h0M395.96 1034.72h0M401.63 913.85h0M400.86 921.15h0M391.31 922.36h0M396.75 871.52h0M399.5 959.92h0M395.27 991.53h0M399.23 874.89h0M397.47 965.23h0M398.5 916.57h0M389.68 937.16h0M401.36 946.46h0M395.84 977.62h0M395.76 867.17h0M396.4 993.83h0M393.69 935.06h0M392.03 932.47h0M392.86 1025.86h0M396.51 934.39h0M400 961.89h0M396.67 882.17h0M401.31 846.34h0M394.72 874.46h0M400.36 864.81h0M396.2 893.07h0M397.65 902.36h0M401.66 1041.85h0M402.97 917.11h0M393.99 915.65h0M396.87 865.35h0M395.19 861.23h0M394.39 950.27h0M397.93 965.73h0M397.14 1004.39h0M393.47 848.43h0M394.03 935.84h0M396.98 946.86h0M399.35 875.71h0M398.67 965.98h0M392.78 963.04h0M390.21 986.32h0M390.53 920.13h0M404.95 909.98h0M389.7 984.53h0M393.07 898.57h0M396.42 925.84h0M403.83 907.9h0M397.32 901.84h0M394.14 928.5h0M393.11 963.32h0M396.03 864.08h0M397.61 876.64h0M396.28 772.23h0M394.65 878.93h0M396 842.7h0M392.25 916.26h0M402.06 881.3h0M393.2 827.82h0M394.44 858.41h0M392.7 1026.65h0M395.72 833.66h0M397.88 997.77h0M395.74 895.03h0M395.53 884.24h0M399.23 834.76h0M397.88 921.24h0M396.38 857.34h0M396.31 882.7h0M390.51 939.55h0M393.36 1001.67h0M405.08 916.06h0M395.13 983.14h0M395.27 1006.63h0M398.74 936.72h0M398.11 1014.26h0M395.52 905.62h0M393.06 1005.04h0M398.32 935.98h0M394.01 929.44h0M393.09 903.71h0M405.99 869.79h0M399.86 960.68h0M396.79 986.7h0M400.44 885.91h0M400.92 919.17h0M395.85 1005.75h0M396.83 921.39h0M402.56 929.48h0M399.85 946.44h0M403.25 891.91h0M398.94 934.54h0M386.16 881.02h0M601.42 961.42h0M594.6 915.93h0M602.07 985.18h0M595.47 1022.08h0M600.34 953.04h0M601.79 922.75h0M594.73 967.99h0M598.14 1002.41h0M598.32 961.08h0M595.71 943.88h0M593.96 993.14h0M597.67 894.88h0M602.34 936.14h0M597.63 960.93h0M597.39 995.28h0M596.49 1044.74h0M599.19 944.33h0M600.85 941.53h0M598.62 946.42h0M601.26 967.26h0M593.84 989.65h0M598.35 941.45h0M596.1 931.78h0M597.65 1041.94h0M595.06 1001.26h0M599.11 913.63h0M592.98 1022.98h0M600.1 979.88h0M601.99 964.44h0M599.74 962.62h0M602.37 1052.09h0M601.23 997.62h0M595.27 1037.86h0M594.19 928h0M596.95 968.6h0M599.48 905.41h0M598.13 923.23h0M604.85 1043.4h0M598.4 998.14h0M593.11 976.68h0M596.97 946.58h0M593.36 1046.22h0M595.62 1067.19h0M595.01 984.15h0M596.94 978.18h0M598.06 956.51h0M595.41 984.09h0M595.08 1025.27h0M596.45 962.57h0M600.68 918.87h0M599.47 1032.64h0M595.9 927.83h0M595.63 928.35h0M599.78 914.04h0M592.57 987.07h0M595.53 982.46h0M595.11 963.23h0M596.44 958.91h0M600.68 954.47h0M599.63 970.86h0M594.9 933.58h0M598.82 953.62h0M597.44 913.07h0M592.49 938.21h0M599.41 927.34h0M600.96 962.12h0M597.3 1028.42h0M597.01 974.39h0M601.16 998.64h0M597.24 976.41h0M602.33 976.04h0M601.57 902.72h0M593.65 957.6h0M594.98 1000.65h0M601.91 1015.93h0M602.5 1002.21h0M597.58 973.31h0M593.37 986.04h0M600.79 994.32h0M598.53 950.05h0M598.53 950.33h0M605.86 961.63h0M592.39 972.01h0M595.64 1062.77h0M601.24 969.17h0M598.47 978.72h0M594.85 953.37h0M599.12 979.53h0M595.33 993.52h0M601.61 956.34h0M590.4 974.7h0M596.64 1009.48h0M596.45 960.42h0M601.16 995.51h0M598.23 927.69h0M593.98 1022.75h0M595.39 953.09h0M597.3 980.12h0M598.99 973.29h0M595.79 1020.79h0M597.96 972.23h0M604.08 1034.01h0M601.25 1035.65h0M600.99 1045.15h0M600.81 1051.08h0M600.41 973.23h0M598.67 1010.25h0M598.35 970.48h0M602.22 1002.69h0M592.81 1053.06h0M602.44 1039.3h0M595.43 1015.95h0M596.77 1009.69h0M596.21 990.87h0M599.16 1041.53h0M602.72 980.48h0M597.56 963.67h0M598.1 1037.95h0M603.25 956.2h0M600.44 964.17h0M603.15 955.89h0M598.02 933.97h0M603.17 1038.01h0M595.25 976.21h0M592.09 1037.72h0M597.31 969.38h0M601.82 967.5h0M598.8 1004.63h0M595.02 1001.36h0M595.29 1069.89h0M596.16 936.2h0M598.24 967.77h0M602.65 898.02h0M596.47 1005.62h0M598.67 933.39h0M601.75 974.85h0M598.45 956.05h0M599.3 856.19h0M599.06 1032.49h0M603.51 967.53h0M595.93 964.87h0M593.98 963.25h0M599.14 993.07h0M591.37 1012.98h0M595.27 1020.81h0M596.35 956.18h0M594.79 982.44h0M595.79 977.22h0M598.58 957.46h0M599.7 922.25h0M594.94 993.7h0M600.15 972.49h0M595.94 918.58h0M591.77 1034.39h0M597.06 1021.91h0M596.64 993.24h0M598.72 984.14h0M597.76 1050.25h0M597.01 989.7h0M591.49 1000.7h0M596 964.6h0M598.55 988.38h0M598.89 981.97h0M594.54 966.4h0M600.2 1029.51h0M604.57 1014.69h0M598.07 1027.8h0M598.39 986.53h0M598.58 1021.31h0M595.74 904.14h0M599.59 1072.37h0M599.67 967.52h0M598.84 1016.55h0M595.94 948.76h0M599.17 982.21h0M596.75 954.34h0M603.95 976.31h0M594.12 903.33h0M596.29 897.11h0M593.52 941.72h0M595.39 992.08h0M598.15 951.74h0M598.76 967.01h0M600.43 976.59h0M597.18 979.86h0M594.54 1010.12h0M598.62 1006.22h0M597.04 944.28h0M601.46 905.5h0M598.57 983.44h0M591.52 985.88h0M598.13 952.47h0M600.27 1051.83h0M596.66 1007.48h0M597.3 1053.59h0M596.04 968.3h0M591.3 985.79h0M597.22 964.61h0M599.54 987.44h0M597.12 944.62h0M767.53 1019.12h0M761.9 1075.12h0M762.71 1090.28h0M761.14 1006.21h0M759.84 1077.02h0M756.73 1033.26h0M763.07 1084.5h0M761.8 1083.11h0M756.39 1074.86h0M765.22 1022.09h0M769.05 1066.82h0M763.33 1040.09h0M758.14 1039.18h0M762.15 1014.95h0M762.2 1029.47h0M769.35 1054.64h0M761.01 1030.94h0M757.82 1024.49h0M770.55 1032.91h0M763.37 1062.21h0M761.87 1076.47h0M758.47 1011.64h0M765.55 1069.45h0M763.93 1035.62h0M757.58 1028.07h0M755.63 1091.43h0M757.14 1029.16h0M759.93 1093.49h0M762.6 1047.56h0M766.05 1094.85h0M762.2 1070.23h0M758.48 1044.86h0M762.85 1032.17h0M768.01 1011.37h0M764.88 982.49h0M760.62 1023.7h0M763.18 1085.59h0M760.93 1059.3h0M763.19 1056.48h0M769.61 1054.3h0M760.17 1017.83h0M766.44 1032.04h0M762.55 1076.41h0M762.06 1057.48h0M762.46 1056.33h0M763.93 1029.21h0M764.2 1084.49h0M759.81 1041.32h0M767.17 1043.76h0M759.05 1046.5h0M761.26 1021.71h0M762.83 1021.62h0M759.97 1002.5h0M765.56 1052.29h0M762.69 992.7h0M763.56 1006.59h0M756.56 1040.79h0M765.85 980.99h0M764.61 1105.91h0M758.66 1058.05h0M764.4 1057.47h0M761.29 1042.92h0M760.72 1046.15h0M755.26 1026.25h0M761.41 1079.43h0M762.48 1075.03h0M763.24 1052.28h0M763.94 1046.3h0M764.39 1041.43h0M756.26 1051.1h0M762.13 1040.43h0M765.39 1054.65h0M767.2 1025.21h0M760.88 1050.49h0M767.09 1024.96h0M763.84 1059.16h0M761.24 1040.07h0M765.13 1013.01h0M760.14 1018.6h0M756.79 1038.8h0M758.06 1023.42h0M765.06 1046.31h0M762.79 1045.37h0M770.84 1057.38h0M760.44 1072.89h0M770.96 1042.09h0M762.6 1053.87h0M755.51 1014.52h0M763.69 1011.56h0M767.57 993.41h0M766.24 1021.76h0M758.89 1054.17h0M763.31 1042.05h0M764.09 1044.1h0M768.43 1016.97h0M761.2 1039.35h0M763.5 1021.16h0M768.36 1017.82h0M765.23 1057.62h0M767.03 995.55h0M761.8 1076.16h0M762.82 997.6h0M762.45 1021.55h0M763.6 997.42h0M763.12 1042.44h0M764.09 994.68h0M755.93 1080.67h0M757.19 1015.64h0M760.23 1031.94h0M760.11 1030.44h0M766.97 1104.51h0M761.78 1039.02h0M764.57 993.91h0M761.61 1007.34h0M763.75 1035.14h0M764.95 1055.93h0M761.26 1026.6h0M765.08 1050.32h0M763.57 1043.67h0M761.61 1030.8h0M763.38 1129.69h0M760.19 1016.18h0M765.11 1057.73h0M766.28 1072.64h0M766.75 1022.88h0M762.65 1039.71h0M757.32 1030.56h0M765.9 1063.27h0M759.21 1057.58h0M766.76 1029.19h0M761.44 1039.96h0M763.7 1039.16h0M763.49 1082.53h0M765.71 1026.89h0M764.45 1007.87h0M762.42 981.47h0M767.66 1040.9h0M760.52 1034.3h0M762.37 1052.95h0M765.6 1075.64h0M766.52 1029h0M761.28 1066.36h0M764.11 1055.73h0M764.83 1026.79h0M758.91 1017.95h0M762.68 1029.83h0M764.03 1038.24h0M760.16 1090.64h0M759.65 1045.66h0M765.31 1070.57h0M767.78 1013.94h0M754.83 1064.7h0M761.12 1020.66h0M763.82 1069.6h0M756.58 1042.36h0M756.79 1037.9h0M758.02 1025.79h0M764.31 1083.42h0M761.17 1014.92h0M763.91 1073.35h0M762.74 1037.77h0M757.17 1052.3h0M766.53 1054.77h0M761.6 1060.1h0M764.97 1043.09h0M760.61 1033.65h0M762.52 989.08h0M759.85 1032.88h0M763.41 1083.65h0M762.99 1051h0M767.35 1103.29h0M764.56 1040.23h0M762.31 1071.16h0M765.54 1036.92h0M755.47 1019.44h0M762.42 1035.18h0M762.71 1050.02h0M765.08 1024.94h0M759.31 1072.7h0M764.13 1039.8h0M762.04 1067.71h0M762.14 1076.11h0M763.65 1045.89h0M759.55 1002.62h0M757.01 1029.02h0M767.69 1032.17h0M760.41 1083.51h0M763.41 1128.83h0M759.09 979.94h0M766.51 1031.32h0M762.74 1061.83h0M760.57 1061.68h0M764.91 1039.58h0M761.99 1033.75h0M765.59 1044.88h0M763.46 1025.92h0M761.45 1091.59h0M767.76 1069.78h0M766.82 1021.18h0M757.24 1062.92h0" stroke="#ff0000" stroke-width="2.2" stroke-linecap="round" fill="none" opacity="0.9"/>
<path d="M396.51 855.13V988.15M389.71 855.13h13.6M389.71 988.15h13.6M597.9 939.37V1019.19M591.1 939.37h13.6M591.1 1019.19h13.6M762.15 1011.8V1067.96M755.35 1011.8h13.6M755.35 1067.96h13.6" stroke="#000" stroke-width="2.3" fill="none"/>
<path d="M115.5 896.45L118.2 896.45L120.9 896.45L123.6 896.45L126.3 896.45L129 896.45L131.7 896.45L134.4 896.45L137.11 896.45L139.81 896.45L142.51 896.45L145.21 896.45L147.91 896.45L150.61 896.45L153.31 896.45L156.01 896.45L158.71 896.45L161.41 896.45L164.11 896.45L166.81 896.45L169.51 896.45L172.21 896.45L174.91 896.45L177.62 896.45L180.32 896.46L183.02 896.46L185.72 896.46L188.42 896.46L191.12 896.46L193.82 896.46L196.52 896.46L199.22 896.46L201.92 896.46L204.62 896.46L207.32 896.47L210.02 896.47L212.72 896.47L215.42 896.47L218.13 896.47L220.83 896.47L223.53 896.48L226.23 896.48L228.93 896.48L231.63 896.48L234.33 896.49L237.03 896.49L239.73 896.49L242.43 896.49L245.13 896.5L247.83 896.5L250.53 896.51L253.23 896.51L255.93 896.51L258.64 896.52L261.34 896.53L264.04 896.53L266.74 896.54L269.44 896.54L272.14 896.55L274.84 896.56L277.54 896.57L280.24 896.58L282.94 896.59L285.64 896.6L288.34 896.61L291.04 896.62L293.74 896.63L296.44 896.65L299.15 896.66L301.85 896.68L304.55 896.69L307.25 896.71L309.95 896.73L312.65 896.75L315.35 896.77L318.05 896.8L320.75 896.82L323.45 896.85L326.15 896.88L328.85 896.91L331.55 896.95L334.25 896.98L336.95 897.02L339.66 897.07L342.36 897.11L345.06 897.16L347.76 897.21L350.46 897.27L353.16 897.33L355.86 897.39L358.56 897.46L361.26 897.54L363.96 897.62L366.66 897.7L369.36 897.79L372.06 897.89L374.76 898L377.46 898.11L380.17 898.23L382.87 898.36L385.57 898.5L388.27 898.64L390.97 898.8L393.67 898.97L396.37 899.15L399.07 899.35L401.77 899.55L404.47 899.77L407.17 900.01L409.87 900.26L412.57 900.53L415.27 900.82L417.97 901.12L420.68 901.45L423.38 901.8L426.08 902.17L428.78 902.57L431.48 902.99L434.18 903.43L436.88 903.91L439.58 904.41L442.28 904.95L444.98 905.52L447.68 906.12L450.38 906.75L453.08 907.43L455.78 908.14L458.48 908.89L461.19 909.68L463.89 910.51L466.59 911.39L469.29 912.31L471.99 913.28L474.69 914.3L477.39 915.36L480.09 916.47L482.79 917.62L485.49 918.83L488.19 920.09L490.89 921.39L493.59 922.74L496.29 924.15L498.99 925.59L501.7 927.09L504.4 928.63L507.1 930.21L509.8 931.83L512.5 933.5L515.2 935.2L517.9 936.93L520.6 938.7L523.3 940.5L526 942.32L528.7 944.17L531.4 946.04L534.1 947.92L536.8 949.82L539.51 951.73L542.21 953.65L544.91 955.57L547.61 957.49L550.31 959.41L553.01 961.32L555.71 963.23L558.41 965.12L561.11 967L563.81 968.86L566.51 970.7L569.21 972.53L571.91 974.33L574.61 976.1L577.31 977.85L580.02 979.57L582.72 981.26L585.42 982.92L588.12 984.54L590.82 986.14L593.52 987.7L596.22 989.23L598.92 990.72L601.62 992.18L604.32 993.61L607.02 994.99L609.72 996.35L612.42 997.67L615.12 998.95L617.82 1000.21L620.53 1001.42L623.23 1002.61L625.93 1003.76L628.63 1004.88L631.33 1005.96L634.03 1007.02L636.73 1008.04L639.43 1009.03L642.13 1009.99L644.83 1010.93L647.53 1011.83L650.23 1012.71L652.93 1013.56L655.63 1014.38L658.33 1015.18L661.04 1015.95L663.74 1016.7L666.44 1017.43L669.14 1018.13L671.84 1018.8L674.54 1019.46L677.24 1020.1L679.94 1020.71L682.64 1021.31L685.34 1021.88L688.04 1022.44L690.74 1022.97L693.44 1023.49L696.14 1024L698.84 1024.48L701.55 1024.95L704.25 1025.41L706.95 1025.85L709.65 1026.27L712.35 1026.68L715.05 1027.08L717.75 1027.46L720.45 1027.83L723.15 1028.19L725.85 1028.54L728.55 1028.87L731.25 1029.2L733.95 1029.51L736.65 1029.81L739.35 1030.1L742.06 1030.38L744.76 1030.66L747.46 1030.92L750.16 1031.17L752.86 1031.42L755.56 1031.66L758.26 1031.88L760.96 1032.11L763.66 1032.32L766.36 1032.53L769.06 1032.73L771.76 1032.92L774.46 1033.11L777.16 1033.29L779.86 1033.46L782.57 1033.63L785.27 1033.79L787.97 1033.95L790.67 1034.1L793.37 1034.25L796.07 1034.39L798.77 1034.52L801.47 1034.66L804.17 1034.78L806.87 1034.91L809.57 1035.02L812.27 1035.14L814.97 1035.25L817.67 1035.36L820.37 1035.46L823.08 1035.56L825.78 1035.66L828.48 1035.75L831.18 1035.84L833.88 1035.93L836.58 1036.01L839.28 1036.09L841.98 1036.17L844.68 1036.25L847.38 1036.32L850.08 1036.39L852.78 1036.46L855.48 1036.53L858.18 1036.59L860.88 1036.65L863.59 1036.71L866.29 1036.77L868.99 1036.82L871.69 1036.88L874.39 1036.93L877.09 1036.98L879.79 1037.03L882.49 1037.08L885.19 1037.12L887.89 1037.16L890.59 1037.21L893.29 1037.25L895.99 1037.29L898.69 1037.32L901.39 1037.36L904.1 1037.4L906.8 1037.43L909.5 1037.46L912.2 1037.5L914.9 1037.53L917.6 1037.56L920.3 1037.58L923 1037.61" stroke="#bf00bf" stroke-width="2.5" fill="none"/>
<path d="M396.51 921.64L597.9 979.28L762.15 1039.88" stroke="#000" stroke-width="2.3" fill="none"/>
<circle cx="396.51" cy="921.64" r="4" fill="#000"/>
<circle cx="597.9" cy="979.28" r="4" fill="#000"/>
<circle cx="762.15" cy="1039.88" r="4" fill="#000"/>
<text id="f0_s0_ann0" x="396.51" y="1088.6" font-size="29" text-anchor="middle" font-family="'Liberation Serif', 'DejaVu Serif', serif" transform="matrix(0.96129 0 0 1.00476 15.398 -5.295)">0.079<tspan font-size="33.35" dy="2.03" dx="4.35">±</tspan><tspan font-size="29" dy="-2.03" dx="4.06">0.045</tspan></text>
<text id="f0_s0_ann1" x="597.9" y="1118.2" font-size="29" text-anchor="middle" font-family="'Liberation Serif', 'DejaVu Serif', serif" transform="matrix(0.95513 0 0 0.98571 26.783 16.200)">0.040<tspan font-size="33.35" dy="2.03" dx="4.35">±</tspan><tspan font-size="29" dy="-2.03" dx="4.06">0.027</tspan></text>
<text id="f0_s0_ann2" x="762.15" y="1147.8" font-size="29" text-anchor="middle" font-family="'Liberation Serif', 'DejaVu Serif', serif" transform="matrix(0.97836 0 0 0.95238 16.099 53.962)">−0.001<tspan font-size="33.35" dy="2.03" dx="4.35">±</tspan><tspan font-size="29" dy="-2.03" dx="4.06">0.019</tspan></text>
<rect x="115.5" y="742.8" width="807.5" height="443.4" fill="none" stroke="#000" stroke-width="1.3"/>
<path d="M196.25 1182.7V1189.7M196.25 739.3V746.3M277 1182.7V1189.7M277 739.3V746.3M357.75 1182.7V1189.7M357.75 739.3V746.3M438.5 1182.7V1189.7M438.5 739.3V746.3M519.25 1182.7V1189.7M519.25 739.3V746.3M600 1182.7V1189.7M600 739.3V746.3M680.75 1182.7V1189.7M680.75 739.3V746.3M761.5 1182.7V1189.7M761.5 739.3V746.3M842.25 1182.7V1189.7M842.25 739.3V746.3M112 1186.2H119M919.5 1186.2H926.5M112 1112.3H119M919.5 1112.3H926.5M112 1038.4H119M919.5 1038.4H926.5M112 964.5H119M919.5 964.5H926.5M112 890.6H119M919.5 890.6H926.5M112 816.7H119M919.5 816.7H926.5M112 742.8H119M919.5 742.8H926.5" stroke="#000" stroke-width="2.0" fill="none"/>
<text id="f0_s0_B_yt0" x="0" y="0" font-size="26.4" text-anchor="end" font-family="'Liberation Serif', 'DejaVu Serif', serif" transform="matrix(1.0 0 0 1 111.1 1194.8)">−0.10</text>
<text id="f0_s0_B_yt1" x="0" y="0" font-size="26.4" text-anchor="end" font-family="'Liberation Serif', 'DejaVu Serif', serif" transform="matrix(1.0 0 0 1 111.1 1120.9)">−0.05</text>
<text id="f0_s0_B_yt2" x="0" y="0" font-size="26.4" text-anchor="end" font-family="'Liberation Serif', 'DejaVu Serif', serif" transform="matrix(1.0 0 0 1 111.1 1047)">0.00</text>
<text id="f0_s0_B_yt3" x="0" y="0" font-size="26.4" text-anchor="end" font-family="'Liberation Serif', 'DejaVu Serif', serif" transform="matrix(1.0 0 0 1 111.1 973.1)">0.05</text>
<text id="f0_s0_B_yt4" x="0" y="0" font-size="26.4" text-anchor="end" font-family="'Liberation Serif', 'DejaVu Serif', serif" transform="matrix(1.0 0 0 1 111.1 899.2)">0.10</text>
<text id="f0_s0_B_yt5" x="0" y="0" font-size="26.4" text-anchor="end" font-family="'Liberation Serif', 'DejaVu Serif', serif" transform="matrix(1.0 0 0 1 111.1 825.3)">0.15</text>
<text id="f0_s0_B_yt6" x="0" y="0" font-size="26.4" text-anchor="end" font-family="'Liberation Serif', 'DejaVu Serif', serif" transform="matrix(1.0 0 0 1 111.1 751.4)">0.20</text>
<text id="f0_s0_B_xt0" x="0" y="0" font-size="26.4" text-anchor="middle" font-family="'Liberation Serif', 'DejaVu Serif', serif" transform="matrix(1.0 0 0 1 196.25 1208.5)">−11.5</text>
<text id="f0_s0_B_xt1" x="0" y="0" font-size="26.4" text-anchor="middle" font-family="'Liberation Serif', 'DejaVu Serif', serif" transform="matrix(1.0 0 0 1 277 1208.5)">−11.0</text>
<text id="f0_s0_B_xt2" x="0" y="0" font-size="26.4" text-anchor="middle" font-family="'Liberation Serif', 'DejaVu Serif', serif" transform="matrix(1.0 0 0 1 357.75 1208.5)">−10.5</text>
<text id="f0_s0_B_xt3" x="0" y="0" font-size="26.4" text-anchor="middle" font-family="'Liberation Serif', 'DejaVu Serif', serif" transform="matrix(1.0 0 0 1 438.5 1208.5)">−10.0</text>
<text id="f0_s0_B_xt4" x="0" y="0" font-size="26.4" text-anchor="middle" font-family="'Liberation Serif', 'DejaVu Serif', serif" transform="matrix(1.0 0 0 1 519.25 1208.5)">−9.5</text>
<text id="f0_s0_B_xt5" x="0" y="0" font-size="26.4" text-anchor="middle" font-family="'Liberation Serif', 'DejaVu Serif', serif" transform="matrix(1.0 0 0 1 600 1208.5)">−9.0</text>
<text id="f0_s0_B_xt6" x="0" y="0" font-size="26.4" text-anchor="middle" font-family="'Liberation Serif', 'DejaVu Serif', serif" transform="matrix(1.0 0 0 1 680.75 1208.5)">−8.5</text>
<text id="f0_s0_B_xt7" x="0" y="0" font-size="26.4" text-anchor="middle" font-family="'Liberation Serif', 'DejaVu Serif', serif" transform="matrix(1.0 0 0 1 761.5 1208.5)">−8.0</text>
<text id="f0_s0_B_xt8" x="0" y="0" font-size="26.4" text-anchor="middle" font-family="'Liberation Serif', 'DejaVu Serif', serif" transform="matrix(1.0 0 0 1 842.25 1208.5)">−7.5</text>
<text id="f0_s0_xlab" x="519.25" y="1247.8" font-size="46" text-anchor="middle" font-family="'Liberation Serif', 'DejaVu Serif', serif" transform="matrix(1.06286 0 0 0.97778 -31.891 27.467)"><tspan font-style="italic">x</tspan><tspan font-size="32" dy="5.8">0</tspan></text>
<g transform="matrix(0.95385 0 0 1.01013 2.085 -9.462)"><g transform="translate(37.2 964.4) rotate(-90)">
<text id="f0_ylabB" x="0" y="0" font-size="46" text-anchor="middle" font-family="'Liberation Serif', 'DejaVu Serif', serif"><tspan font-style="italic">δ</tspan><tspan font-size="32" dy="6">obs − newt</tspan></text>
</g></g>
<rect x="361.4" y="757.4" width="548.2" height="47.9" rx="5" fill="#fff" fill-opacity="0.8" stroke="#d9d9d9" stroke-width="1"/>
<path d="M371.4 777.2H429" stroke="#bf00bf" stroke-width="2.5"/>
<text id="f0_bleg" x="450" y="787.2" font-size="26" font-family="'Liberation Serif', 'DejaVu Serif', serif" transform="matrix(1.06714 0 0 0.98800 -30.881 9.528)"><tspan font-style="italic">δ</tspan><tspan font-size="18.2" dy="3.5">AQUAL − Newton</tspan><tspan dy="-3.5"> (circular orbit prediction)</tspan></text>
<path d="M1167.35 742.8V1186.2M1248.1 742.8V1186.2M1328.85 742.8V1186.2M1409.6 742.8V1186.2M1490.35 742.8V1186.2M1571.1 742.8V1186.2M1651.85 742.8V1186.2M1732.6 742.8V1186.2M1813.35 742.8V1186.2M1086.6 1186.2H1894.1M1086.6 1112.3H1894.1M1086.6 1038.4H1894.1M1086.6 964.5H1894.1M1086.6 890.6H1894.1M1086.6 816.7H1894.1M1086.6 742.8H1894.1" stroke="#b4e6e6" stroke-width="1" stroke-dasharray="1.2 1.2" fill="none"/>
<path d="M1086.6 1038.4H1894.1" stroke="#000" stroke-width="2.4" stroke-dasharray="8.3 3.9" fill="none"/>
<path d="M1364.18 982.89h0M1364.31 978.96h0M1362.79 912.8h0M1360.09 924.54h0M1362.39 996.66h0M1361.21 967.41h0M1364.79 968.47h0M1363.9 929h0M1365.34 986.04h0M1361.82 935.02h0M1362.79 924.32h0M1363.85 938.45h0M1365.48 936.98h0M1363.9 874.07h0M1363.28 951.28h0M1364.22 940.07h0M1363.51 996.97h0M1364.5 879.89h0M1363.31 919h0M1364.25 883.94h0M1362.31 964.12h0M1365.96 938.5h0M1361.96 975.25h0M1364.41 1029.21h0M1362.3 989.31h0M1362.07 989.08h0M1362.22 929.55h0M1362.27 949.74h0M1364.28 967.33h0M1361.62 934.3h0M1361.94 954.84h0M1362.41 932.7h0M1364.5 986.1h0M1363.48 974.41h0M1362.51 932.92h0M1364.16 966.62h0M1364.15 882.55h0M1363.33 932.25h0M1365.46 957.58h0M1362.27 980.39h0M1362.15 908.11h0M1363.98 996.97h0M1365.85 923.76h0M1360 884.19h0M1362.83 962.6h0M1362.05 943.98h0M1363.71 954.81h0M1362.06 949.63h0M1362.02 948.25h0M1362.92 983.85h0M1360.36 930.01h0M1365.31 958.11h0M1362.51 951.09h0M1365.6 947.87h0M1362.26 961.7h0M1362.9 931.24h0M1364.49 979.3h0M1362.83 984.04h0M1363.5 912.82h0M1360.66 914.94h0M1362.12 1006.04h0M1360.46 961.14h0M1362.45 949.75h0M1363.29 974.07h0M1361.48 965.49h0M1361.49 964.84h0M1362.56 914.06h0M1362.27 965.96h0M1363.58 956.44h0M1361.7 961.68h0M1363.2 920.79h0M1359.94 1019.01h0M1361.51 994.51h0M1361.8 1012.29h0M1365.05 947.07h0M1363.71 950.43h0M1366.42 920.26h0M1364.11 920.14h0M1361.74 962.15h0M1364.98 943.76h0M1362.43 947.49h0M1363.1 938.5h0M1360.32 977.35h0M1362.25 939.97h0M1362.29 919.7h0M1362.4 954.97h0M1365.22 899.85h0M1365.33 957.96h0M1364.19 998.48h0M1363.03 975.73h0M1364.11 972.55h0M1362.56 1016.17h0M1359.91 912.28h0M1361.28 964.26h0M1363.83 1045.1h0M1365.11 973.14h0M1363.8 1018.61h0M1360.53 904.91h0M1364.28 935.83h0M1365.32 950.07h0M1362.22 934.58h0M1363.07 981.87h0M1363.08 902.37h0M1363.07 927h0M1364.08 935.62h0M1365.99 915.69h0M1361.61 972.44h0M1363.25 958.52h0M1364.79 946.97h0M1363.33 969.46h0M1364.96 955.05h0M1365.1 969.46h0M1363.02 891.2h0M1364.16 908.03h0M1366.34 956.86h0M1362.92 913.42h0M1362.39 935.6h0M1364.95 999.77h0M1365.84 953.72h0M1363.81 948.38h0M1363.65 957.24h0M1363.06 979.69h0M1360.72 1011.32h0M1362.47 998.97h0M1363.12 956.94h0M1367.03 915.28h0M1365.52 1034.24h0M1362.52 923.43h0M1360.49 949.43h0M1365.68 962.2h0M1362.47 994.17h0M1364.34 951.57h0M1362.56 953.53h0M1362.48 933.61h0M1365.18 875.84h0M1362.14 951.58h0M1362.25 973.91h0M1363.96 966.33h0M1363.57 998.11h0M1361.91 955.22h0M1364.02 913.21h0M1362.47 945.05h0M1363.37 979.96h0M1363.83 1004.11h0M1363.27 993.35h0M1362.9 934.17h0M1362.18 977.53h0M1361.64 951.71h0M1364.7 958.18h0M1362.1 1018.77h0M1361.62 947.91h0M1361.44 991.34h0M1360.09 929.22h0M1362.92 961.73h0M1362.06 957.47h0M1362.43 955.77h0M1366.97 986.59h0M1361.59 925.41h0M1363.82 981.8h0M1362.89 911.64h0M1363.48 935.37h0M1362.39 920.19h0M1363.59 983.72h0M1363.26 949.52h0M1364.21 918.33h0M1361.49 954.65h0M1364.46 935.74h0M1363.08 979.13h0M1363.39 994.18h0M1360.62 965.21h0M1362.73 957.83h0M1364.73 968.99h0M1364.5 942.02h0M1365.19 968.23h0M1364.3 982.71h0M1363.55 1006.28h0M1361.11 990.82h0M1363.51 935.68h0M1363.29 941.15h0M1363.18 948.74h0M1363.41 962.63h0M1361.77 882.2h0M1361.91 1006.14h0M1364.04 978.87h0M1364.94 920.79h0M1364.34 963.52h0M1364.24 895.56h0M1361.91 913.15h0M1364.5 926.54h0M1363.38 995.39h0M1362.02 935.08h0M1364.75 925.9h0M1363.16 945.59h0M1363.87 961.83h0M1361.33 918.85h0M1363.67 949.48h0M1361.42 984.3h0M1360.83 963.25h0M1362.87 949.01h0M1363.29 992.57h0M1565.7 1025.05h0M1565.62 985.96h0M1567.18 1058.25h0M1565.42 1029.05h0M1566.62 979.07h0M1564.69 993.14h0M1565.49 1029.23h0M1565.73 995.21h0M1567.8 1046.67h0M1566.83 1019.51h0M1569.87 994.66h0M1569.02 1010.12h0M1566.94 1036.03h0M1563.45 1003.57h0M1565.63 1028.52h0M1565.97 999.82h0M1565.7 1017.58h0M1566.61 1000.54h0M1566.36 1010.88h0M1565.67 996.07h0M1566.74 1009.65h0M1568.21 1001.67h0M1564.79 1002.2h0M1568.54 989.35h0M1568.05 983.82h0M1566.62 1038.22h0M1568.01 992.59h0M1567.02 1009.56h0M1567.42 1028.72h0M1566.52 1047.55h0M1565.1 988.94h0M1569.71 982.91h0M1566.1 997.24h0M1565.1 1016.55h0M1565.25 993.11h0M1565.27 1003.54h0M1564.86 996.74h0M1565.82 1009.47h0M1566.28 987.55h0M1568.51 1010.28h0M1565.05 1028.63h0M1565.36 1008.56h0M1567.04 975.21h0M1566.35 1002.67h0M1568.68 1068.26h0M1563.86 1010.03h0M1566.78 1028.62h0M1567.31 984.04h0M1567.29 1000.85h0M1565.84 1025.2h0M1564.85 1007.62h0M1567.78 1007.28h0M1566.47 1053.55h0M1566.94 1013.3h0M1564.78 974.3h0M1567.79 970.71h0M1566.25 960.25h0M1566.62 1001.05h0M1565.49 998.33h0M1566.54 1023.24h0M1564.88 995.78h0M1565.87 1014.66h0M1567.99 1002.6h0M1565.31 1037.09h0M1565.29 1015.14h0M1569.24 981.05h0M1567.52 993.95h0M1565.35 1029.87h0M1568.93 1000.43h0M1567.17 1015.45h0M1569.29 977.55h0M1567.15 1028.07h0M1564.33 994.24h0M1567.02 1018.04h0M1567.5 1019.11h0M1564.21 1016.44h0M1563.58 1033.41h0M1567.54 1035.1h0M1567.42 1004.08h0M1565 984.57h0M1566.86 1019.25h0M1567.09 977.37h0M1567.11 1012.31h0M1563.79 1027.25h0M1566.04 1000.58h0M1564.93 1001.16h0M1567.77 1027.3h0M1568.05 1005.9h0M1566.77 1022.9h0M1567.98 996.48h0M1567.09 1010.7h0M1566.45 1011.49h0M1567.33 1010.96h0M1566.6 1035.72h0M1566.66 1029.78h0M1566.88 1015.19h0M1566.38 1015.4h0M1568.62 1037.57h0M1563.82 1037.2h0M1567.42 1004.34h0M1566.08 1012.88h0M1569.26 1033.22h0M1569.96 1044.27h0M1565.06 1041.86h0M1565.9 1016.02h0M1565.31 1001.89h0M1564.24 1018.01h0M1566.12 988.41h0M1566.6 1025.8h0M1567.12 993.52h0M1566.82 1024.56h0M1567.23 1004.04h0M1567.62 1016.32h0M1566.82 1031.57h0M1566.74 1025.81h0M1567.65 1021.2h0M1568.4 1017.54h0M1568.17 1027.71h0M1563.07 1026.04h0M1567.95 1028.82h0M1567.39 1005.75h0M1567.18 1017.14h0M1569.21 1028.8h0M1567.36 978.81h0M1565.76 1020.46h0M1567.24 997.2h0M1567.81 1026.36h0M1567.57 992.09h0M1567.11 1000.91h0M1566.34 1008.33h0M1568.58 1019.97h0M1566.96 1037.9h0M1570.14 991.56h0M1568.81 1014.64h0M1568.2 983.29h0M1564.43 972.07h0M1566.73 988.37h0M1566.68 998.53h0M1564.17 1023.04h0M1566.54 998.85h0M1566.69 1032.57h0M1565.59 1028.46h0M1567.98 1003.86h0M1566.71 1044.8h0M1564.98 996.22h0M1567.27 1013.94h0M1565.12 990.1h0M1565.87 1039.57h0M1566.72 1018.18h0M1563.93 1007.67h0M1564.33 994.79h0M1567.48 1002.05h0M1567.19 1000.66h0M1565.6 1001.88h0M1569.84 1024.81h0M1568.72 978.27h0M1564.43 992.78h0M1566.43 972.53h0M1567.87 1009.26h0M1568.66 1021.72h0M1568.54 1055.52h0M1565.49 998.85h0M1568.44 992.5h0M1568.11 993.46h0M1568.27 1013.75h0M1568.61 988.53h0M1564.28 996.16h0M1564.79 998.82h0M1566.5 1024.3h0M1566.24 1006.31h0M1567.41 1003.5h0M1566.75 1006.49h0M1567.64 1003.42h0M1564.42 1028.27h0M1566.79 990.09h0M1568.22 1055.75h0M1563.89 988.77h0M1565.81 1034.04h0M1565.64 1034.81h0M1568.02 1012.4h0M1566.7 1059.35h0M1562.99 989.86h0M1566.48 1004.78h0M1567.71 1021.98h0M1568.23 984.91h0M1565.55 970.68h0M1565.83 1050.65h0M1568.35 1007.2h0M1565.74 999.84h0M1567.3 983.57h0M1566.35 1005.59h0M1567.5 1002.15h0M1563.12 1009.49h0M1567.3 1027.16h0M1568.4 979.26h0M1569.24 988.19h0M1568.65 996.35h0M1567.06 989.5h0M1564.3 1026.64h0M1564.9 1000.53h0M1733.51 1041.64h0M1733.78 1050.69h0M1731.12 1038.87h0M1733.52 1031.05h0M1733.2 1047.1h0M1732.64 1056.72h0M1730.94 1035.11h0M1734.62 1038.03h0M1730.79 1049.17h0M1731.33 1061.06h0M1730.02 1056.18h0M1732.98 1037.87h0M1732.59 1054.05h0M1733.04 1025.14h0M1733.53 1036.36h0M1733.84 1049h0M1731.56 1010.86h0M1731.45 1067.36h0M1732.86 1054.08h0M1733.39 1020.58h0M1733.23 1012.78h0M1729.68 1037.43h0M1731.62 1032.73h0M1732.17 1046.64h0M1733.85 1014.25h0M1730.45 1038.2h0M1732.18 1044.97h0M1733.38 1025.39h0M1731.17 1030.63h0M1736.56 1024.28h0M1731.02 1059.69h0M1733.99 1037.74h0M1732.69 1034.93h0M1730.94 1016.57h0M1730.26 1069.88h0M1733.91 1027.03h0M1730.35 1045.09h0M1733.03 1052.55h0M1731.53 1025.06h0M1731.07 1052.31h0M1733.41 1049.2h0M1732.94 1037.3h0M1732.7 1038.6h0M1730.83 1059.88h0M1733 1035.02h0M1732.3 1023.9h0M1732.11 1053.26h0M1733.21 1043.75h0M1733.2 1042.54h0M1733.25 1031.6h0M1731.01 1030.77h0M1734.96 1022.21h0M1734.93 1026.42h0M1731.8 1032.03h0M1732.57 1030.01h0M1735 1039.87h0M1734.31 1051.11h0M1730.1 1046.12h0M1732.84 1026.52h0M1733.08 1034.07h0M1733.26 1020.78h0M1732.62 1040.57h0M1731.97 1029.76h0M1729.8 1030.56h0M1732.76 1038.14h0M1731.2 1025.81h0M1733.44 1039.44h0M1733.05 994.32h0M1732 1027.25h0M1732.46 1004.46h0M1732.99 1039.89h0M1731.3 1055.77h0M1731.57 1041.88h0M1732.01 1022.36h0M1733.11 1004.08h0M1732.94 1047.9h0M1732.7 1026.96h0M1732.35 1030.86h0M1732.52 1049.02h0M1732.07 1012.06h0M1730.43 1038.79h0M1733.09 1047.6h0M1734.27 1043.18h0M1731.95 1024h0M1733.54 1039.89h0M1732.14 1033.1h0M1734.56 1065.35h0M1732.82 1038.09h0M1734.72 1048.85h0M1732.83 1040.08h0M1731.9 1068h0M1733.12 1039.51h0M1732.26 1028.66h0M1732.36 1023.86h0M1732.52 1041.38h0M1729.33 1063.51h0M1730 1012.37h0M1733.33 1048.2h0M1734.08 1049.19h0M1732.66 1068.15h0M1735.61 1030.52h0M1731.42 1018.04h0M1732.87 1026.98h0M1731.72 1057.39h0M1732.03 1024.34h0M1731.54 1053.77h0M1730.17 1058.32h0M1733.08 1034.63h0M1730.2 1024.85h0M1733.01 1056.56h0M1732.14 1038.14h0M1731.94 1057.74h0M1734.58 1061.03h0M1730.97 1030.25h0M1730.9 1022.47h0M1732.6 1032.14h0M1734.29 1046.46h0M1731.88 1064.78h0M1729.79 1045.52h0M1732.52 1062.84h0M1730.91 1037.08h0M1733.01 1032.72h0M1732 1029.56h0M1733.22 1042.15h0M1731.16 1048.88h0M1733.09 1058.29h0M1729.74 1022.2h0M1733.44 1044.41h0M1732.82 1018.48h0M1733.48 1051.55h0M1733.05 1005.91h0M1735 1028.85h0M1733.71 1060.15h0M1734 1017.1h0M1732.1 1035.53h0M1730.77 1046.05h0M1730.94 1045.29h0M1732.3 1039.49h0M1732.03 1046.57h0M1730.86 1037.36h0M1732.85 1029.27h0M1732.13 1029.87h0M1732.8 1041.13h0M1732.06 1036.6h0M1731.87 1042.86h0M1731.56 1043.43h0M1731.22 1049.54h0M1731.67 1018.6h0M1731.23 1039.64h0M1734.32 1036.12h0M1732.83 1048.44h0M1733.82 1039.13h0M1732.47 1039.21h0M1729.9 1041.35h0M1734.93 1023.9h0M1733.83 1049.74h0M1734.67 1037.79h0M1733.28 1045.17h0M1733.44 1018.8h0M1732.63 1034.43h0M1732.89 1045.81h0M1735.02 1050.72h0M1732.52 1029.05h0M1734.21 1058.09h0M1733.38 1017.86h0M1733.99 1024.12h0M1732.42 1036.91h0M1734.51 1034.71h0M1730.62 1044.29h0M1732.94 1034.65h0M1733.03 1037.6h0M1731.6 1052.81h0M1732.67 1041.95h0M1733.76 1029.51h0M1732.56 1033.88h0M1732.09 1050.37h0M1731.75 1058.69h0M1733.49 1031.18h0M1734.31 1051.27h0M1733.42 1069.94h0M1732.47 1037.33h0M1732.12 1031.78h0M1732.05 1006.13h0M1733.1 1042.11h0M1732.49 1064.79h0M1734.52 1057.17h0M1732.48 1044.52h0M1735.13 1062.41h0M1730.64 1061.86h0M1729.52 1048.25h0M1732.03 1056.57h0M1734.12 1023.43h0M1731.81 1054.5h0M1734.2 1029h0M1732.22 1050.17h0M1732.77 1038.65h0M1735.04 1042.02h0M1734.22 1041.57h0M1737.46 1030.81h0M1729.96 1017.41h0" stroke="#ff0000" stroke-width="2.2" stroke-linecap="round" fill="none" opacity="0.9"/>
<path d="M1363.25 924.59V989.63M1356.45 924.59h13.6M1356.45 989.63h13.6M1566.74 989.63V1028.05M1559.94 989.63h13.6M1559.94 1028.05h13.6M1732.44 1025.1V1054.66M1725.64 1025.1h13.6M1725.64 1054.66h13.6" stroke="#000" stroke-width="2.3" fill="none"/>
<path d="M1086.6 896.45L1089.3 896.45L1092 896.45L1094.7 896.45L1097.4 896.45L1100.1 896.45L1102.8 896.45L1105.5 896.45L1108.21 896.45L1110.91 896.45L1113.61 896.45L1116.31 896.45L1119.01 896.45L1121.71 896.45L1124.41 896.45L1127.11 896.45L1129.81 896.45L1132.51 896.45L1135.21 896.45L1137.91 896.45L1140.61 896.45L1143.31 896.45L1146.01 896.45L1148.72 896.45L1151.42 896.46L1154.12 896.46L1156.82 896.46L1159.52 896.46L1162.22 896.46L1164.92 896.46L1167.62 896.46L1170.32 896.46L1173.02 896.46L1175.72 896.46L1178.42 896.47L1181.12 896.47L1183.82 896.47L1186.52 896.47L1189.23 896.47L1191.93 896.47L1194.63 896.48L1197.33 896.48L1200.03 896.48L1202.73 896.48L1205.43 896.49L1208.13 896.49L1210.83 896.49L1213.53 896.49L1216.23 896.5L1218.93 896.5L1221.63 896.51L1224.33 896.51L1227.03 896.51L1229.74 896.52L1232.44 896.53L1235.14 896.53L1237.84 896.54L1240.54 896.54L1243.24 896.55L1245.94 896.56L1248.64 896.57L1251.34 896.58L1254.04 896.59L1256.74 896.6L1259.44 896.61L1262.14 896.62L1264.84 896.63L1267.54 896.65L1270.25 896.66L1272.95 896.68L1275.65 896.69L1278.35 896.71L1281.05 896.73L1283.75 896.75L1286.45 896.77L1289.15 896.8L1291.85 896.82L1294.55 896.85L1297.25 896.88L1299.95 896.91L1302.65 896.95L1305.35 896.98L1308.05 897.02L1310.76 897.07L1313.46 897.11L1316.16 897.16L1318.86 897.21L1321.56 897.27L1324.26 897.33L1326.96 897.39L1329.66 897.46L1332.36 897.54L1335.06 897.62L1337.76 897.7L1340.46 897.79L1343.16 897.89L1345.86 898L1348.56 898.11L1351.27 898.23L1353.97 898.36L1356.67 898.5L1359.37 898.64L1362.07 898.8L1364.77 898.97L1367.47 899.15L1370.17 899.35L1372.87 899.55L1375.57 899.77L1378.27 900.01L1380.97 900.26L1383.67 900.53L1386.37 900.82L1389.07 901.12L1391.78 901.45L1394.48 901.8L1397.18 902.17L1399.88 902.57L1402.58 902.99L1405.28 903.43L1407.98 903.91L1410.68 904.41L1413.38 904.95L1416.08 905.52L1418.78 906.12L1421.48 906.75L1424.18 907.43L1426.88 908.14L1429.58 908.89L1432.29 909.68L1434.99 910.51L1437.69 911.39L1440.39 912.31L1443.09 913.28L1445.79 914.3L1448.49 915.36L1451.19 916.47L1453.89 917.62L1456.59 918.83L1459.29 920.09L1461.99 921.39L1464.69 922.74L1467.39 924.15L1470.09 925.59L1472.8 927.09L1475.5 928.63L1478.2 930.21L1480.9 931.83L1483.6 933.5L1486.3 935.2L1489 936.93L1491.7 938.7L1494.4 940.5L1497.1 942.32L1499.8 944.17L1502.5 946.04L1505.2 947.92L1507.9 949.82L1510.61 951.73L1513.31 953.65L1516.01 955.57L1518.71 957.49L1521.41 959.41L1524.11 961.32L1526.81 963.23L1529.51 965.12L1532.21 967L1534.91 968.86L1537.61 970.7L1540.31 972.53L1543.01 974.33L1545.71 976.1L1548.41 977.85L1551.12 979.57L1553.82 981.26L1556.52 982.92L1559.22 984.54L1561.92 986.14L1564.62 987.7L1567.32 989.23L1570.02 990.72L1572.72 992.18L1575.42 993.61L1578.12 994.99L1580.82 996.35L1583.52 997.67L1586.22 998.95L1588.92 1000.21L1591.63 1001.42L1594.33 1002.61L1597.03 1003.76L1599.73 1004.88L1602.43 1005.96L1605.13 1007.02L1607.83 1008.04L1610.53 1009.03L1613.23 1009.99L1615.93 1010.93L1618.63 1011.83L1621.33 1012.71L1624.03 1013.56L1626.73 1014.38L1629.43 1015.18L1632.14 1015.95L1634.84 1016.7L1637.54 1017.43L1640.24 1018.13L1642.94 1018.8L1645.64 1019.46L1648.34 1020.1L1651.04 1020.71L1653.74 1021.31L1656.44 1021.88L1659.14 1022.44L1661.84 1022.97L1664.54 1023.49L1667.24 1024L1669.94 1024.48L1672.65 1024.95L1675.35 1025.41L1678.05 1025.85L1680.75 1026.27L1683.45 1026.68L1686.15 1027.08L1688.85 1027.46L1691.55 1027.83L1694.25 1028.19L1696.95 1028.54L1699.65 1028.87L1702.35 1029.2L1705.05 1029.51L1707.75 1029.81L1710.45 1030.1L1713.16 1030.38L1715.86 1030.66L1718.56 1030.92L1721.26 1031.17L1723.96 1031.42L1726.66 1031.66L1729.36 1031.88L1732.06 1032.11L1734.76 1032.32L1737.46 1032.53L1740.16 1032.73L1742.86 1032.92L1745.56 1033.11L1748.26 1033.29L1750.96 1033.46L1753.67 1033.63L1756.37 1033.79L1759.07 1033.95L1761.77 1034.1L1764.47 1034.25L1767.17 1034.39L1769.87 1034.52L1772.57 1034.66L1775.27 1034.78L1777.97 1034.91L1780.67 1035.02L1783.37 1035.14L1786.07 1035.25L1788.77 1035.36L1791.47 1035.46L1794.18 1035.56L1796.88 1035.66L1799.58 1035.75L1802.28 1035.84L1804.98 1035.93L1807.68 1036.01L1810.38 1036.09L1813.08 1036.17L1815.78 1036.25L1818.48 1036.32L1821.18 1036.39L1823.88 1036.46L1826.58 1036.53L1829.28 1036.59L1831.98 1036.65L1834.69 1036.71L1837.39 1036.77L1840.09 1036.82L1842.79 1036.88L1845.49 1036.93L1848.19 1036.98L1850.89 1037.03L1853.59 1037.08L1856.29 1037.12L1858.99 1037.16L1861.69 1037.21L1864.39 1037.25L1867.09 1037.29L1869.79 1037.32L1872.49 1037.36L1875.2 1037.4L1877.9 1037.43L1880.6 1037.46L1883.3 1037.5L1886 1037.53L1888.7 1037.56L1891.4 1037.58L1894.1 1037.61" stroke="#bf00bf" stroke-width="2.5" fill="none"/>
<path d="M1363.25 957.11L1566.74 1008.84L1732.44 1039.88" stroke="#000" stroke-width="2.3" fill="none"/>
<circle cx="1363.25" cy="957.11" r="4" fill="#000"/>
<circle cx="1566.74" cy="1008.84" r="4" fill="#000"/>
<circle cx="1732.44" cy="1039.88" r="4" fill="#000"/>
<text id="f0_s1_ann0" x="1363.25" y="1088.6" font-size="29" text-anchor="middle" font-family="'Liberation Serif', 'DejaVu Serif', serif" transform="matrix(0.96753 0 0 1.00476 44.453 -5.295)">0.055<tspan font-size="33.35" dy="2.03" dx="4.35">±</tspan><tspan font-size="29" dy="-2.03" dx="4.06">0.022</tspan></text>
<text id="f0_s1_ann1" x="1566.74" y="1118.2" font-size="29" text-anchor="middle" font-family="'Liberation Serif', 'DejaVu Serif', serif" transform="matrix(0.96129 0 0 0.98571 60.939 16.200)">0.020<tspan font-size="33.35" dy="2.03" dx="4.35">±</tspan><tspan font-size="29" dy="-2.03" dx="4.06">0.013</tspan></text>
<text id="f0_s1_ann2" x="1732.44" y="1147.8" font-size="29" text-anchor="middle" font-family="'Liberation Serif', 'DejaVu Serif', serif" transform="matrix(0.97836 0 0 0.95238 37.387 53.962)">−0.001<tspan font-size="33.35" dy="2.03" dx="4.35">±</tspan><tspan font-size="29" dy="-2.03" dx="4.06">0.010</tspan></text>
<rect x="1086.6" y="742.8" width="807.5" height="443.4" fill="none" stroke="#000" stroke-width="1.3"/>
<path d="M1167.35 1182.7V1189.7M1167.35 739.3V746.3M1248.1 1182.7V1189.7M1248.1 739.3V746.3M1328.85 1182.7V1189.7M1328.85 739.3V746.3M1409.6 1182.7V1189.7M1409.6 739.3V746.3M1490.35 1182.7V1189.7M1490.35 739.3V746.3M1571.1 1182.7V1189.7M1571.1 739.3V746.3M1651.85 1182.7V1189.7M1651.85 739.3V746.3M1732.6 1182.7V1189.7M1732.6 739.3V746.3M1813.35 1182.7V1189.7M1813.35 739.3V746.3M1083.1 1186.2H1090.1M1890.6 1186.2H1897.6M1083.1 1112.3H1090.1M1890.6 1112.3H1897.6M1083.1 1038.4H1090.1M1890.6 1038.4H1897.6M1083.1 964.5H1090.1M1890.6 964.5H1897.6M1083.1 890.6H1090.1M1890.6 890.6H1897.6M1083.1 816.7H1090.1M1890.6 816.7H1897.6M1083.1 742.8H1090.1M1890.6 742.8H1897.6" stroke="#000" stroke-width="2.0" fill="none"/>
<text id="f0_s1_B_yt0" x="0" y="0" font-size="26.4" text-anchor="end" font-family="'Liberation Serif', 'DejaVu Serif', serif" transform="matrix(1.0 0 0 1 1082.2 1194.8)">−0.10</text>
<text id="f0_s1_B_yt1" x="0" y="0" font-size="26.4" text-anchor="end" font-family="'Liberation Serif', 'DejaVu Serif', serif" transform="matrix(1.0 0 0 1 1082.2 1120.9)">−0.05</text>
<text id="f0_s1_B_yt2" x="0" y="0" font-size="26.4" text-anchor="end" font-family="'Liberation Serif', 'DejaVu Serif', serif" transform="matrix(1.0 0 0 1 1082.2 1047)">0.00</text>
<text id="f0_s1_B_yt3" x="0" y="0" font-size="26.4" text-anchor="end" font-family="'Liberation Serif', 'DejaVu Serif', serif" transform="matrix(1.0 0 0 1 1082.2 973.1)">0.05</text>
<text id="f0_s1_B_yt4" x="0" y="0" font-size="26.4" text-anchor="end" font-family="'Liberation Serif', 'DejaVu Serif', serif" transform="matrix(1.0 0 0 1 1082.2 899.2)">0.10</text>
<text id="f0_s1_B_yt5" x="0" y="0" font-size="26.4" text-anchor="end" font-family="'Liberation Serif', 'DejaVu Serif', serif" transform="matrix(1.0 0 0 1 1082.2 825.3)">0.15</text>
<text id="f0_s1_B_yt6" x="0" y="0" font-size="26.4" text-anchor="end" font-family="'Liberation Serif', 'DejaVu Serif', serif" transform="matrix(1.0 0 0 1 1082.2 751.4)">0.20</text>
<text id="f0_s1_B_xt0" x="0" y="0" font-size="26.4" text-anchor="middle" font-family="'Liberation Serif', 'DejaVu Serif', serif" transform="matrix(1.0 0 0 1 1167.35 1208.5)">−11.5</text>
<text id="f0_s1_B_xt1" x="0" y="0" font-size="26.4" text-anchor="middle" font-family="'Liberation Serif', 'DejaVu Serif', serif" transform="matrix(1.0 0 0 1 1248.1 1208.5)">−11.0</text>
<text id="f0_s1_B_xt2" x="0" y="0" font-size="26.4" text-anchor="middle" font-family="'Liberation Serif', 'DejaVu Serif', serif" transform="matrix(1.0 0 0 1 1328.85 1208.5)">−10.5</text>
<text id="f0_s1_B_xt3" x="0" y="0" font-size="26.4" text-anchor="middle" font-family="'Liberation Serif', 'DejaVu Serif', serif" transform="matrix(1.0 0 0 1 1409.6 1208.5)">−10.0</text>
<text id="f0_s1_B_xt4" x="0" y="0" font-size="26.4" text-anchor="middle" font-family="'Liberation Serif', 'DejaVu Serif', serif" transform="matrix(1.0 0 0 1 1490.35 1208.5)">−9.5</text>
<text id="f0_s1_B_xt5" x="0" y="0" font-size="26.4" text-anchor="middle" font-family="'Liberation Serif', 'DejaVu Serif', serif" transform="matrix(1.0 0 0 1 1571.1 1208.5)">−9.0</text>
<text id="f0_s1_B_xt6" x="0" y="0" font-size="26.4" text-anchor="middle" font-family="'Liberation Serif', 'DejaVu Serif', serif" transform="matrix(1.0 0 0 1 1651.85 1208.5)">−8.5</text>
<text id="f0_s1_B_xt7" x="0" y="0" font-size="26.4" text-anchor="middle" font-family="'Liberation Serif', 'DejaVu Serif', serif" transform="matrix(1.0 0 0 1 1732.6 1208.5)">−8.0</text>
<text id="f0_s1_B_xt8" x="0" y="0" font-size="26.4" text-anchor="middle" font-family="'Liberation Serif', 'DejaVu Serif', serif" transform="matrix(1.0 0 0 1 1813.35 1208.5)">−7.5</text>
<text id="f0_s1_xlab" x="1490.35" y="1247.8" font-size="46" text-anchor="middle" font-family="'Liberation Serif', 'DejaVu Serif', serif" transform="matrix(1.06286 0 0 0.97778 -92.826 27.467)"><tspan font-style="italic">x</tspan><tspan font-size="32" dy="5.8">0</tspan></text>
<text id="f1_title0" x="501" y="1365.2" font-size="50.5" text-anchor="start" font-family="'Liberation Serif', 'DejaVu Serif', serif" transform="matrix(1.00000 0 0 0.97021 -1.700 40.687)">clean subsamples with PM relative errors</text>
<text id="f1_title1" x="1357" y="1365.2" font-size="50.5" text-anchor="start" font-family="'Liberation Serif', 'DejaVu Serif', serif" transform="matrix(1.26522 0 0 1.15000 -362.996 -198.100)">&lt;</text>
<text id="f1_title2" x="1398" y="1365.2" font-size="50.5" text-anchor="start" font-family="'Liberation Serif', 'DejaVu Serif', serif" transform="matrix(0.98636 0 0 1.04706 17.491 -64.382)">0.005</text>
<path d="M196.25 1386.5V2000.3M277 1386.5V2000.3M357.75 1386.5V2000.3M438.5 1386.5V2000.3M519.25 1386.5V2000.3M600 1386.5V2000.3M680.75 1386.5V2000.3M761.5 1386.5V2000.3M842.25 1386.5V2000.3M115.5 2000.3H923M115.5 1944.5H923M115.5 1888.7H923M115.5 1832.9H923M115.5 1777.1H923M115.5 1721.3H923M115.5 1665.5H923M115.5 1609.7H923M115.5 1553.9H923M115.5 1498.1H923M115.5 1442.3H923" stroke="#b4e6e6" stroke-width="1" stroke-dasharray="1.2 1.2" fill="none"/>
<path d="M398.1 1779.49h0M404 1746.43h0M401.62 1746.79h0M409.83 1744.81h0M406.58 1743.21h0M403.26 1741.35h0M403.48 1734.42h0M404.52 1741.21h0M403.94 1721.82h0M405.46 1722.31h0M402.52 1724.32h0M402.16 1728.58h0M400.98 1726.71h0M407.94 1725.6h0M407.04 1732.09h0M402.27 1711.72h0M405.24 1716.65h0M407.36 1718.96h0M404.26 1716.15h0M403.57 1714.45h0M398.72 1716.78h0M403.55 1721.27h0M407.16 1719.06h0M407.25 1720.36h0M404.01 1720.68h0M406.56 1713.52h0M409.38 1713.64h0M402.14 1721.1h0M403.73 1713h0M404.47 1706.81h0M401.57 1709.4h0M406.88 1702.23h0M401.4 1703.71h0M401.89 1705.78h0M403.31 1704.2h0M401.51 1707.46h0M411.41 1699.55h0M399.72 1709.71h0M404.94 1703.41h0M404.87 1708.41h0M400.82 1708.89h0M404.19 1709.16h0M405.09 1700.31h0M404.31 1706.48h0M405.02 1709.21h0M398.55 1701.56h0M403.09 1704.99h0M402.22 1701.08h0M401.85 1709.34h0M399.34 1692.04h0M404.59 1697.34h0M406.81 1688.09h0M407.36 1690.2h0M403.29 1687.93h0M400.42 1693.54h0M401.03 1691.85h0M408.37 1690.22h0M411.96 1697.34h0M400.37 1696.04h0M409.56 1693.37h0M407.89 1698.59h0M406.1 1689.52h0M405.29 1693.62h0M399.44 1689.49h0M398.84 1691.37h0M399.52 1698.06h0M405.56 1697.61h0M401.6 1693.72h0M407.47 1689.41h0M399.31 1688.4h0M408.06 1689.63h0M405.02 1689.21h0M401.29 1689.76h0M405.47 1693.94h0M401.18 1689.33h0M406.56 1687.38h0M403.91 1680.56h0M406.91 1683.78h0M395.99 1684.72h0M401.86 1687.55h0M411.63 1679.18h0M397.39 1685.99h0M400.64 1680.15h0M393.06 1683.84h0M404.77 1680.4h0M406.07 1680.19h0M398.13 1682.71h0M404.55 1680.03h0M403.77 1682.15h0M405.17 1681.06h0M398.17 1685.43h0M409.89 1681.53h0M406.28 1686.84h0M399.63 1678.57h0M406.1 1687.24h0M408.93 1687.76h0M403.59 1680.75h0M398.48 1677.27h0M411.05 1687.31h0M402.79 1678.23h0M410.32 1684.83h0M403.33 1673.36h0M410.6 1671.12h0M403.61 1674.48h0M401.87 1670.99h0M409.02 1668.46h0M397.68 1668.53h0M404.38 1675.93h0M405.29 1672.5h0M409.18 1665.86h0M417.37 1667.91h0M402.21 1669.75h0M402.86 1667.75h0M403.3 1670.98h0M408.61 1666.42h0M405.72 1669.26h0M404.37 1669.21h0M405.4 1665.58h0M405.08 1676.01h0M405.23 1671.15h0M400.75 1667.28h0M406.98 1670.09h0M402.92 1667.83h0M404.32 1675.34h0M403.35 1675.01h0M397.47 1670.23h0M400.67 1673.79h0M408.16 1656.77h0M410.38 1656.86h0M402.71 1656.97h0M399.73 1663.88h0M404.74 1659.08h0M401.33 1660.68h0M399.18 1658.59h0M404.54 1664.54h0M405.86 1656.96h0M408.44 1658.09h0M404.53 1657.36h0M394.9 1662.99h0M403.46 1665.13h0M403.85 1664.93h0M405.24 1658.09h0M404.56 1657.99h0M400.76 1659.46h0M408.89 1659.44h0M403.59 1660.07h0M398.16 1656.03h0M404.96 1654.67h0M401.36 1657.6h0M403.53 1660.67h0M401.25 1646.7h0M402.75 1647.32h0M405.71 1652.9h0M403.85 1645.35h0M403.12 1653.84h0M406.23 1644.69h0M408.29 1654.16h0M402.84 1648.45h0M403.56 1649.26h0M406.21 1648.64h0M401.88 1652.47h0M405.94 1647.6h0M403.88 1651.49h0M399.3 1650.65h0M395.87 1644.64h0M401.11 1651.71h0M404.65 1644.97h0M400.24 1647.07h0M407.62 1644.69h0M405.15 1653.08h0M402.51 1642.01h0M404.5 1642.49h0M402.22 1639.08h0M405 1636.38h0M398.49 1638.54h0M405.08 1637.06h0M409.3 1636.94h0M407.47 1638.83h0M405.83 1634.37h0M404.06 1636.57h0M405.53 1643.09h0M400.14 1637.49h0M404.83 1637.57h0M404.07 1638.5h0M401.67 1637.34h0M407.64 1624.28h0M411 1626.77h0M403.52 1622.8h0M408.48 1625.44h0M403.13 1627.93h0M409.14 1616.89h0M401.39 1613.67h0M403.06 1610.7h0M405.88 1615.67h0M406.32 1617.82h0M404.17 1613.22h0M404.48 1609.44h0M406.83 1609.1h0M406.09 1570.89h0M404.51 1575.31h0M594.92 1691.6h0M599.05 1693.1h0M598.83 1676.99h0M598.33 1677.87h0M593.72 1668.88h0M604.91 1664.41h0M597.48 1663.48h0M596.07 1662.13h0M596.52 1654.53h0M594.57 1659.21h0M594.2 1655.76h0M596.37 1654.5h0M598.75 1654.23h0M595.98 1654.31h0M595.51 1661.16h0M597.01 1661.22h0M597.71 1661.55h0M599.2 1655.42h0M592.25 1655.38h0M594.52 1660.79h0M593.26 1660.87h0M598.07 1657.94h0M597.28 1662.31h0M595.11 1660.72h0M602.09 1656.29h0M602.08 1660.18h0M596.07 1662.32h0M595.24 1649.92h0M598.61 1649.49h0M602.76 1651.95h0M597.93 1646h0M597.36 1652.99h0M596.6 1652.11h0M599.42 1647.95h0M600.13 1647.3h0M605.23 1652.02h0M597.78 1646.46h0M600.28 1650.03h0M590.75 1645.88h0M599.29 1646.47h0M594.36 1648.71h0M597.64 1652.27h0M598.82 1647.61h0M598.89 1653.46h0M598.94 1649.12h0M595.63 1650.56h0M598.07 1645.72h0M599.99 1652.86h0M587.65 1653h0M597.58 1653.16h0M597.52 1650.11h0M597.72 1653.57h0M597.34 1649.27h0M597.57 1650.26h0M599.52 1646.98h0M597.04 1651.95h0M600.7 1653.02h0M597.19 1650.25h0M600.34 1651.68h0M598.43 1650.22h0M595.21 1638.39h0M594.53 1644.54h0M599.24 1641.32h0M599.82 1645.61h0M598.05 1641.68h0M587.65 1641.24h0M597.95 1642.95h0M601.27 1643.11h0M589.42 1641.49h0M605.96 1637.51h0M600.51 1637.97h0M592.19 1644.99h0M601.34 1644h0M588.86 1639.35h0M590.27 1640.78h0M597.22 1643.8h0M597.37 1642.12h0M601.65 1641.32h0M595.2 1641h0M606.05 1645.07h0M601.83 1637.61h0M595.29 1639.35h0M602.69 1640.22h0M592.3 1640.36h0M606.53 1642.91h0M595.24 1637.72h0M601.37 1641.22h0M596.84 1643.74h0M593.06 1641.8h0M601.48 1639.18h0M597.93 1645.5h0M597.35 1636.97h0M595.68 1633.47h0M591.72 1631.56h0M600.35 1635.51h0M597.88 1636.41h0M591.77 1636.76h0M598.11 1631.73h0M598.92 1630.59h0M594.68 1636.63h0M596.69 1637.07h0M592.88 1636.6h0M602.23 1635.96h0M598.17 1634.36h0M598.33 1633.85h0M594.21 1635.13h0M592.54 1636.22h0M595.05 1631.94h0M593.77 1635.08h0M597.82 1634.99h0M594.76 1634.14h0M600.11 1633.53h0M600.23 1631.03h0M598.93 1630.03h0M597.94 1633.45h0M595.78 1629.42h0M597.4 1629.04h0M599.37 1634.14h0M598.92 1635.19h0M599.68 1633.26h0M603.48 1631.1h0M591.03 1629.57h0M605.9 1634.15h0M594.84 1634.86h0M596.64 1629.68h0M598.51 1633.87h0M593.64 1633.7h0M598.17 1635.87h0M600.83 1630.38h0M593.8 1632.77h0M599.43 1632.04h0M594.83 1633.31h0M597.96 1629.33h0M596.75 1631.71h0M604.78 1630.17h0M602.18 1623.17h0M597.33 1625.71h0M589.17 1628.11h0M595.52 1626.36h0M593.34 1624.54h0M604.47 1621.89h0M599.57 1627.65h0M594.77 1625.83h0M595.01 1628.61h0M596.01 1624.29h0M592.49 1627.08h0M602.57 1624.38h0M605.05 1621.94h0M600.65 1621.09h0M600.94 1620.7h0M596.65 1621.9h0M593.47 1625.15h0M598.66 1622.09h0M594.07 1627.18h0M596.31 1628.09h0M595.85 1626.84h0M594.82 1623.83h0M593.77 1627.62h0M597.7 1626.81h0M601.83 1622.5h0M595.46 1623.99h0M598.72 1628.09h0M594.54 1627.16h0M597.29 1615.78h0M595.84 1618.07h0M600.71 1614.77h0M595.33 1618.5h0M591.4 1617.6h0M600.3 1615.37h0M595.38 1616.7h0M597.89 1618.65h0M593.54 1618.44h0M598.02 1614.17h0M595.88 1619.74h0M595.24 1613.85h0M601.52 1613.68h0M589.75 1614.86h0M590.71 1619.74h0M595.33 1613.34h0M601.2 1615.37h0M599.72 1606.69h0M601.18 1607.53h0M602.88 1607.53h0M595.25 1610.56h0M601.31 1604.01h0M593.82 1610.81h0M595.48 1610.44h0M596.58 1605.41h0M597.19 1610.8h0M604.42 1604.42h0M594.89 1596.09h0M594.11 1602.4h0M597.69 1597.19h0M593.8 1595.43h0M601.34 1600.79h0M603.33 1602.36h0M595.62 1596.72h0M593.11 1593.97h0M597.3 1591.3h0M591.35 1593.12h0M763.03 1653.07h0M756.11 1649.84h0M759.07 1638.27h0M764.93 1644.19h0M763.28 1638.69h0M765.25 1638.88h0M758.01 1643.24h0M763.27 1645.39h0M762.8 1633.9h0M760.47 1631.68h0M762.25 1632.24h0M760.41 1636.73h0M758.75 1631.27h0M763.7 1630.74h0M768.47 1632.26h0M761 1632.36h0M763.34 1636.45h0M759.87 1634.07h0M765.71 1630.73h0M764.11 1627.32h0M759.7 1622.86h0M766.7 1627.61h0M761.33 1625.17h0M759.05 1626.35h0M764.66 1625.53h0M758.28 1625.74h0M764.75 1627.55h0M764.08 1624.44h0M755.23 1622.91h0M765.34 1626.47h0M761.09 1622.87h0M761.72 1625.27h0M762.24 1629.12h0M765.6 1623.9h0M765.63 1626.48h0M760.06 1626.32h0M757.82 1626.71h0M766.06 1623.88h0M760.43 1625.56h0M763.55 1624.65h0M762.37 1628.88h0M752.78 1625.44h0M764.87 1627.66h0M762.99 1627.12h0M761.01 1626.5h0M759.19 1622.87h0M764.4 1628.09h0M763.59 1621.27h0M760.44 1621.78h0M761.12 1614.59h0M759.35 1614.1h0M761.96 1616.45h0M761.76 1619.43h0M760.15 1619.19h0M761.33 1613.73h0M761.9 1613.05h0M767.43 1618.87h0M760.52 1618.75h0M757.37 1616.98h0M763.42 1617.26h0M766.84 1614.73h0M756.57 1614.39h0M762.22 1620.08h0M759.67 1617.89h0M757.73 1615.01h0M764.36 1616.87h0M756.25 1613.08h0M761.94 1617.64h0M762.8 1614.32h0M765.06 1615.21h0M762.25 1613.05h0M759.92 1612.48h0M759.28 1615.56h0M758.14 1613.26h0M757.8 1620.27h0M766.17 1620.62h0M761.14 1618.09h0M754.67 1618.06h0M761.96 1615.42h0M760.19 1620.6h0M764.27 1612.76h0M760.53 1618.7h0M762.4 1620.02h0M761.64 1616.38h0M763.88 1613.78h0M757.41 1614.4h0M762.32 1614.65h0M757.15 1615.81h0M764.45 1613.3h0M767.22 1613.03h0M759.33 1620.64h0M764.16 1614.78h0M763.07 1610.51h0M751.91 1608.17h0M767.07 1607.66h0M753.59 1611h0M761.06 1608.57h0M764.22 1609.13h0M758.06 1607.79h0M760.53 1607.36h0M759.93 1607.23h0M756.98 1608.1h0M765.11 1608.56h0M761.87 1608.14h0M762.07 1604.13h0M758.27 1611.9h0M761.83 1604.56h0M755.64 1606.65h0M767.09 1606.12h0M762.23 1612.21h0M768.81 1608.59h0M765.1 1611.9h0M763.29 1610.23h0M765.48 1612.21h0M762.76 1606.58h0M761.36 1610.87h0M764.51 1611.72h0M756.29 1608.05h0M756.7 1609.65h0M752.92 1605.49h0M768.04 1612.32h0M765.84 1607.07h0M759.1 1608.04h0M765.11 1611.27h0M766.77 1611.52h0M761.69 1604.39h0M759.12 1611.63h0M756.1 1610.46h0M763.24 1606.93h0M762.9 1605.27h0M762.37 1604.68h0M760.91 1608.2h0M754.6 1604.53h0M758.58 1610.44h0M760.28 1612.28h0M758.98 1612.21h0M761.59 1612.02h0M759.52 1597.36h0M758.4 1602.09h0M766.34 1597.08h0M763.67 1598.94h0M764.3 1596.86h0M766.62 1601.49h0M760.2 1596.02h0M759.02 1596.95h0M763.07 1599.95h0M760.24 1598.85h0M757.08 1597.9h0M762.03 1599.35h0M759.38 1602.5h0M760.88 1602.01h0M764.58 1597.36h0M760.46 1596.25h0M763.77 1602.94h0M761.41 1595.7h0M762.77 1599.85h0M760.08 1595.8h0M760.04 1596.05h0M763.05 1599.67h0M757.53 1597.79h0M764.5 1599.57h0M765.37 1602.94h0M757.57 1596.18h0M759.26 1603.53h0M763.49 1597.04h0M756.57 1597.71h0M762.58 1596.75h0M755.1 1595.71h0M766.53 1596.59h0M765.14 1598.5h0M764.29 1595.75h0M757.03 1597.61h0M766.44 1592.03h0M758.15 1592.44h0M760.98 1587.99h0M759.63 1589.55h0M762.53 1593.55h0M757.71 1594.17h0M762.66 1592.27h0M759.18 1591.53h0M756.2 1592.1h0M770.04 1592.72h0M758.89 1593.34h0M761.02 1588.46h0M761.91 1591.54h0M760.7 1587.84h0M761.79 1590.83h0M759.07 1589.43h0M764.26 1589.02h0M759.72 1590.86h0M755.54 1590.45h0M751.22 1594.36h0M757.43 1590.39h0M760.99 1579.72h0M765.86 1583.27h0M758.03 1581.71h0M758.88 1585.9h0M761.64 1586.02h0M771.15 1578.96h0M759.91 1576.81h0" stroke="#ff0000" stroke-width="2.0" stroke-linecap="round" fill="none" opacity="0.6"/>
<path d="M403.2 1868.17h0M399.16 1857.13h0M396.41 1852.72h0M399.16 1848.15h0M398.73 1850.46h0M398.04 1850.38h0M396.95 1846.63h0M395.86 1838.86h0M402.08 1842.18h0M402.27 1838.83h0M397.06 1833.11h0M395.72 1839.02h0M402.1 1834.53h0M401.08 1834.62h0M395.71 1840.32h0M401.73 1834.94h0M396.63 1838.76h0M395 1836.28h0M403.42 1843.43h0M395.89 1827.61h0M400.43 1831.75h0M397.61 1829.83h0M398.65 1828.75h0M398.44 1823.74h0M398.25 1832.26h0M399.85 1824.53h0M388.22 1823.34h0M395.28 1827.08h0M400.95 1822.33h0M401.49 1827.76h0M394.99 1823.9h0M390.77 1821.55h0M392.65 1814.41h0M399.26 1815.14h0M396.21 1818.11h0M396.36 1821.44h0M399.91 1816.19h0M400.19 1818.07h0M394.13 1821.15h0M400.62 1819.12h0M397.53 1819.25h0M398.42 1821.69h0M400.86 1819.11h0M398.31 1817.47h0M402.24 1806.31h0M398.73 1803.53h0M402.03 1806.39h0M405.58 1799.75h0M394.53 1803.53h0M398.32 1807.98h0M402.04 1800.45h0M393.75 1808.08h0M397.49 1806.27h0M397.85 1807.97h0M397.58 1800.01h0M401.04 1809.44h0M397.63 1804.28h0M406.11 1808.06h0M397.25 1808.93h0M397.16 1808.49h0M398.07 1796.78h0M401.98 1797.49h0M392.43 1791.19h0M397.15 1794.88h0M402.07 1794.29h0M396.45 1791.99h0M395.62 1795.82h0M405.02 1790.13h0M400.29 1797.22h0M397.17 1790.74h0M394.24 1795.79h0M406.28 1788.38h0M400.47 1789.7h0M398.19 1797.38h0M407.8 1795.35h0M399.91 1782.71h0M398.99 1786.16h0M395.31 1784.68h0M397.03 1786h0M392 1778.75h0M401.94 1778.94h0M397.65 1778.71h0M398.3 1785.84h0M396.73 1783.62h0M396 1786.03h0M400.92 1782.96h0M397.83 1779.25h0M402.78 1781.51h0M399.98 1781.43h0M400.99 1784.34h0M401.54 1786.64h0M396.34 1783.79h0M407.3 1780.52h0M394.76 1778.13h0M397.63 1782.65h0M399.01 1777.28h0M399.19 1780.85h0M400.27 1777.92h0M396.91 1782.75h0M393.61 1787.94h0M395.76 1787.51h0M401.63 1770.64h0M402.23 1768.57h0M396.42 1775.89h0M402.99 1772.03h0M400.97 1775.2h0M398.34 1768.92h0M401.04 1772.04h0M400.08 1769.64h0M396.69 1770.73h0M400.81 1774.79h0M400.85 1769.45h0M400.35 1768.35h0M398.45 1771.31h0M399.07 1771.26h0M393.79 1772.14h0M395.76 1773.16h0M393.42 1766.7h0M399.54 1773.77h0M396.97 1769.83h0M400.84 1766.48h0M395.38 1775.74h0M396.43 1776.48h0M392.23 1775.59h0M400.97 1764.07h0M395.63 1759.66h0M402.49 1756.58h0M398.59 1761.82h0M389.36 1758.31h0M393.32 1758.61h0M398.3 1761.97h0M400.9 1758.05h0M393.12 1765.08h0M399.44 1755.16h0M404.32 1764.84h0M398.91 1760.98h0M395.97 1764.54h0M403.56 1755.24h0M394.39 1756.61h0M397.19 1756.4h0M400.87 1755.94h0M401.65 1756.24h0M400.35 1755.93h0M399.88 1760.87h0M399.94 1761.8h0M396.16 1763.43h0M398.41 1759.79h0M398.75 1758.62h0M405.42 1751.53h0M402.78 1749.9h0M397.29 1752.12h0M398.44 1746.09h0M396.29 1752.61h0M398.7 1749.59h0M403.95 1747.6h0M401.82 1754.51h0M399.54 1745.4h0M395.94 1747.12h0M400.21 1748.81h0M397.94 1748.3h0M399.39 1752.64h0M398.32 1754.65h0M400.88 1749.76h0M394.35 1745.77h0M393.9 1746.85h0M394.64 1737.02h0M387.36 1735.64h0M399.71 1736.46h0M396.89 1736.17h0M398.34 1742.23h0M393.11 1738.67h0M397.24 1737.53h0M402.36 1742.82h0M405.37 1734.17h0M396.72 1741.61h0M402.46 1734.16h0M399.09 1732.9h0M390.85 1733.19h0M398.03 1738.81h0M405.84 1741.78h0M393.08 1740.51h0M400.32 1736.41h0M399.24 1722.7h0M393.16 1726.34h0M400.92 1725.23h0M400.07 1725.67h0M397.26 1712.14h0M394.93 1715.85h0M401.01 1720.01h0M398.8 1711.22h0M398.06 1713.48h0M399.4 1710.93h0M399.19 1701.08h0M397.33 1701.31h0M399.48 1698.55h0M393.43 1679.01h0M398.82 1682.32h0M390.18 1676.63h0M402.98 1679.17h0M396.69 1664.81h0M593.96 1735.47h0M595.38 1728.25h0M595.3 1719.29h0M594.45 1720.18h0M597.8 1714.59h0M600.06 1720.33h0M595.31 1720.31h0M595.01 1709.07h0M601.48 1705.06h0M602.69 1709.72h0M602.1 1705h0M591.82 1707.26h0M604.6 1707.35h0M603.96 1712.11h0M600.86 1707.5h0M596.06 1711.3h0M600.03 1706.64h0M599.41 1712.27h0M594.76 1706.78h0M600.87 1711.8h0M605.4 1707.97h0M599.29 1705.37h0M596.49 1708.54h0M594.49 1710.9h0M593.58 1698.99h0M602.56 1696.9h0M597.95 1703.71h0M600.61 1696.69h0M593.68 1700.43h0M604.72 1697.73h0M591.42 1701.94h0M599.99 1697.45h0M597.24 1700.7h0M592.48 1701.75h0M596.86 1699.61h0M600.97 1698.77h0M595.72 1697.29h0M590.54 1701.06h0M602.01 1698.56h0M594.06 1696.26h0M589.16 1703.51h0M599.98 1701.4h0M594.22 1700.59h0M598.07 1702.35h0M598.4 1699.59h0M597.36 1703.94h0M595.68 1703.92h0M597.35 1698.17h0M596.73 1704.02h0M599.77 1696.19h0M590.36 1700.18h0M602.77 1694h0M594.49 1687.99h0M592.74 1688.84h0M595.42 1693.79h0M598.58 1695.44h0M601.43 1695.47h0M597.54 1690.09h0M597.27 1695.63h0M596.71 1688.65h0M599.5 1688.34h0M596.1 1692.47h0M600.98 1689.5h0M597.13 1692.04h0M602.4 1693.6h0M593.3 1691.74h0M591.3 1692.02h0M599.88 1689.91h0M596.42 1689.16h0M601.73 1693.31h0M593.57 1695.32h0M593.57 1684.03h0M600.19 1686.84h0M593.82 1683.26h0M596.98 1679.41h0M599.12 1682.57h0M595.56 1680.77h0M601.16 1681.04h0M599.24 1681.49h0M599.95 1685.21h0M600.73 1684.56h0M602.82 1683.23h0M601.86 1683.43h0M607.9 1685.7h0M598.7 1685.5h0M598.95 1686.21h0M602.45 1681.39h0M597.55 1681.88h0M599.63 1679.34h0M601.5 1680.23h0M598.96 1686.25h0M593.82 1684.92h0M595.62 1687.15h0M597.12 1682.51h0M603.3 1683.49h0M594.62 1680.51h0M592.48 1686h0M596.47 1682.32h0M596.75 1683.31h0M597.48 1683.39h0M598.08 1675.04h0M602.1 1675.61h0M594.41 1677.47h0M597.75 1672.32h0M598.45 1675.37h0M593.58 1679h0M600.62 1671.1h0M592.61 1676.49h0M599.69 1673.17h0M603.98 1676.27h0M594.05 1672.86h0M595.41 1678.97h0M600.39 1671.45h0M599.8 1675.89h0M598.74 1677.02h0M603.76 1673.33h0M596.31 1676.52h0M596.87 1676.78h0M590.71 1675.24h0M599.07 1675.31h0M597.65 1672.8h0M600.71 1674.43h0M600.92 1676.4h0M600.74 1674.16h0M594.97 1674.88h0M597.92 1678.62h0M598.78 1674.06h0M600.17 1665.14h0M598.96 1667.76h0M593.38 1666.86h0M601.43 1663h0M596.44 1666.19h0M597.83 1662.96h0M594.08 1666.09h0M599.48 1669.97h0M596.07 1669.79h0M594.51 1662.87h0M598.93 1669.95h0M601.11 1664.4h0M602.04 1663.5h0M596.05 1670.31h0M599.83 1664.5h0M603.88 1669.9h0M591.69 1668.46h0M589.63 1669.43h0M597.47 1666.38h0M595.17 1666.1h0M595.14 1670.33h0M590.6 1668.08h0M603.12 1665.89h0M593.4 1665.91h0M595.35 1667.54h0M600.57 1669.5h0M597.73 1664.35h0M597.75 1656.57h0M593.83 1656.2h0M592.96 1661.83h0M597.58 1662.31h0M593.07 1661.81h0M599.39 1657.44h0M600.05 1656.27h0M594.35 1656.28h0M594.23 1656.72h0M589.2 1654.52h0M595.18 1662.3h0M598.05 1660.85h0M604.74 1656.21h0M605.97 1656.42h0M597.92 1662.21h0M603.37 1657.64h0M601.49 1659.96h0M590.81 1658.38h0M599.08 1661.73h0M601.59 1658.84h0M592.3 1655.52h0M593.54 1647.54h0M604.61 1650.69h0M598.56 1653.32h0M597.23 1649.73h0M599.04 1652.83h0M602.73 1651.89h0M593.6 1650.44h0M597.76 1646.75h0M594.45 1649.71h0M597.12 1651.3h0M594.24 1651.26h0M596.09 1648.32h0M606.37 1653.87h0M599.67 1652.82h0M597.22 1650.81h0M599.88 1650.52h0M594.38 1645.45h0M603.67 1643.01h0M597.54 1642.28h0M595.28 1642.13h0M600.44 1643.26h0M600.64 1637.12h0M595.9 1636.62h0M601.5 1632.75h0M600.76 1620.03h0M765.24 1649.26h0M760.15 1650.32h0M763.96 1646.49h0M759.88 1642.49h0M763.28 1645.69h0M758.09 1635.97h0M763.64 1631.01h0M760.66 1629.77h0M761.55 1635.22h0M761.72 1634.05h0M758.77 1635.44h0M760.01 1632.42h0M764.22 1631.42h0M763 1633.58h0M768.92 1632.5h0M760.91 1635.67h0M760.55 1630.81h0M765.28 1633.32h0M756.48 1636.25h0M758.49 1623.13h0M763.44 1628.04h0M760.34 1621.9h0M763.79 1628.32h0M764.22 1626.89h0M763.91 1628.9h0M753.6 1628.81h0M764.76 1627.42h0M763.34 1624.04h0M763.98 1624.91h0M761.84 1626.13h0M762.4 1628.18h0M761.67 1629.14h0M763.11 1626.97h0M766.5 1627.61h0M759.23 1625.03h0M756.22 1622h0M760.13 1622.26h0M761.45 1629.22h0M759.01 1621.05h0M762.52 1614.33h0M761.03 1618.29h0M759.88 1618.55h0M758.17 1614.12h0M756.8 1613.95h0M770.64 1619.16h0M764.4 1615.35h0M763.73 1618.55h0M764.72 1619.72h0M762.22 1615.5h0M764.65 1615.1h0M761.15 1615.4h0M762.12 1619.13h0M765.66 1613.45h0M754.21 1617.02h0M753.44 1613.69h0M761.51 1612.6h0M766.68 1614.7h0M762.67 1616.77h0M762.47 1612.73h0M759.17 1612.76h0M762.31 1614.12h0M759.32 1619.89h0M766.07 1617.32h0M763.6 1612.68h0M762.08 1618.02h0M766.99 1617.13h0M759.3 1615.67h0M756.54 1612.7h0M761.6 1614.85h0M765.46 1619.62h0M766.12 1615.31h0M761.4 1619.97h0M759.97 1614.11h0M764.62 1616.38h0M762.49 1615.33h0M757.58 1620.16h0M761.36 1613.87h0M763.12 1613.68h0M761.21 1619.41h0M763.56 1608.89h0M762.35 1610.22h0M764.6 1608.5h0M755.42 1612.39h0M760.57 1605.34h0M763.67 1608.55h0M763.56 1611.45h0M760.81 1610.06h0M757.18 1606.37h0M761.44 1609.53h0M765.27 1611.84h0M763.35 1606.78h0M756.85 1612.09h0M753.01 1605.15h0M763 1606.33h0M757.99 1604.25h0M768.58 1611.85h0M767.93 1611.55h0M760.21 1611.18h0M765.39 1607.81h0M762.67 1605.87h0M758.93 1610.6h0M755.03 1605.78h0M767 1605.46h0M758.87 1607.48h0M758.41 1604.81h0M753.81 1610.87h0M761.27 1607.46h0M755.68 1607.17h0M769.24 1607.95h0M765.02 1605.99h0M765.88 1605.22h0M762.47 1611.22h0M761.17 1608.93h0M761.67 1612h0M758.23 1610.15h0M765.13 1607.43h0M761.71 1604.04h0M760.05 1610.32h0M765.62 1607.26h0M763.05 1604.36h0M765.88 1605.6h0M755.77 1608.33h0M766.58 1609.04h0M761.95 1611.62h0M758 1607.87h0M761.76 1602.26h0M767.94 1597.04h0M763.28 1603.89h0M760.08 1600.08h0M762.33 1600.82h0M762.79 1599.51h0M757.92 1601.14h0M761.85 1600.05h0M767.8 1601.98h0M760.08 1603.21h0M763.24 1599.43h0M761.96 1598.21h0M761.46 1597.1h0M756.01 1599.46h0M765.37 1599.25h0M759.32 1598.47h0M764.61 1603.15h0M763.57 1602.06h0M761.53 1600.78h0M760.93 1598.38h0M762.63 1600.02h0M764.81 1602.54h0M765.84 1600.26h0M770.82 1604.03h0M763.97 1602.13h0M760.42 1603.64h0M764.46 1597.41h0M756.46 1600.22h0M759.79 1596h0M762.21 1602.86h0M760.91 1603.55h0M766.9 1601.32h0M760.47 1599.96h0M762.05 1592.37h0M756.2 1590.75h0M763.35 1588.24h0M759.34 1592.15h0M761.24 1590.51h0M765.16 1587.92h0M753.42 1592.63h0M761.49 1590.55h0M761.28 1587.59h0M757.52 1591.99h0M762.32 1593.72h0M761.21 1589.84h0M761.37 1589.18h0M766.91 1594.39h0M762.48 1590.61h0M766.74 1590.16h0M759.53 1591.46h0M761.13 1591.24h0M758.41 1588.47h0M763.6 1593.92h0M765.42 1593.55h0M762.09 1594.66h0M762.22 1580.92h0M759.7 1586.67h0M756.3 1582.62h0M757.63 1586.23h0M763.09 1580.69h0M759.07 1581.39h0M766.99 1586.23h0M758.69 1585.28h0M764.02 1584.53h0M765.2 1580.36h0M760.13 1584.61h0M764.31 1579.51h0M759.41 1581.33h0M767.44 1583.03h0M761.84 1587.09h0M762.94 1578.81h0M757.99 1575.12h0M764.4 1569.49h0M762.72 1569.43h0M764.16 1560.45h0" stroke="#000080" stroke-width="2.0" stroke-linecap="round" fill="none" opacity="0.6"/>
<path d="M404.58 1677.78L597.58 1635.37L761.5 1610.82" stroke="#ff1a1a" stroke-width="2.3" fill="none"/>
<circle cx="404.58" cy="1677.78" r="3" fill="#ff1a1a"/>
<circle cx="597.58" cy="1635.37" r="3" fill="#ff1a1a"/>
<circle cx="761.5" cy="1610.82" r="3" fill="#ff1a1a"/>
<path d="M398.45 1778.22L597.58 1680.01L761.5 1607.47" stroke="#14148c" stroke-width="2.3" fill="none"/>
<circle cx="398.45" cy="1778.22" r="3" fill="#14148c"/>
<circle cx="597.58" cy="1680.01" r="3" fill="#14148c"/>
<circle cx="761.5" cy="1607.47" r="3" fill="#14148c"/>
<rect x="141.2" y="1803.4" width="225.7" height="171.8" fill="#fff" stroke="none"/>
<path d="M148.73 1975.2H156.25V1972.55H148.73ZM156.25 1975.2H163.78V1972.55H156.25ZM163.78 1975.2H171.3V1961.2H163.78ZM171.3 1975.2H178.83V1941.09H171.3ZM178.83 1975.2H186.35V1941.09H178.83ZM186.35 1975.2H193.87V1938.08H186.35ZM193.87 1975.2H201.4V1929.46H193.87ZM201.4 1975.2H208.92V1932.19H201.4ZM208.92 1975.2H216.45V1900.73H208.92ZM216.45 1975.2H223.97V1909.21H216.45ZM223.97 1975.2H231.5V1906.47H223.97ZM231.5 1975.2H239.02V1926.45H231.5ZM239.02 1975.2H246.54V1926.45H239.02ZM246.54 1975.2H254.07V1963.93H246.54ZM254.07 1975.2H261.59V1958.19H254.07ZM261.59 1975.2H269.12V1969.81H261.59ZM269.12 1975.2H276.64V1972.55H269.12ZM276.64 1975.2H284.17V1963.93H276.64ZM291.69 1975.2H299.21V1972.55H291.69Z" fill="#000080" fill-opacity="0.7"/>
<path d="M208.92 1975.2H216.45V1972.55H208.92ZM231.5 1975.2H239.02V1966.81H231.5ZM239.02 1975.2H246.54V1963.93H239.02ZM246.54 1975.2H254.07V1955.18H246.54ZM254.07 1975.2H261.59V1935.2H254.07ZM261.59 1975.2H269.12V1918.1H261.59ZM269.12 1975.2H276.64V1900.73H269.12ZM276.64 1975.2H284.17V1900.73H276.64ZM284.17 1975.2H291.69V1900.73H284.17ZM291.69 1975.2H299.21V1909.21H291.69ZM299.21 1975.2H306.74V1918.1H299.21ZM306.74 1975.2H314.26V1932.19H306.74ZM314.26 1975.2H321.79V1961.2H314.26ZM321.79 1975.2H329.31V1958.19H321.79ZM329.31 1975.2H336.83V1969.81H329.31ZM351.88 1975.2H359.41V1969.81H351.88Z" fill="#ff0000" fill-opacity="0.7"/>
<rect x="141.2" y="1803.4" width="225.7" height="171.8" fill="none" stroke="#000" stroke-width="1.3"/>
<text id="f1_s0_i0_t1" x="360.9" y="1828.4" font-size="18.5" text-anchor="end" font-family="'Liberation Serif', 'DejaVu Serif', serif" transform="matrix(1.03056 0 0 0.98667 -11.000 25.000)">−0.211<tspan font-size="21.27" dy="1.3" dx="2.77">±</tspan><tspan font-size="18.5" dy="-1.3" dx="2.59">0.030</tspan></text>
<text id="f1_s0_i0_t2" x="153.2" y="1855" font-size="18.5" text-anchor="start" font-family="'Liberation Serif', 'DejaVu Serif', serif" transform="matrix(1.01743 0 0 1.03571 -3.284 -66.086)">−0.301<tspan font-size="21.27" dy="1.3" dx="2.77">±</tspan><tspan font-size="18.5" dy="-1.3" dx="2.59">0.035</tspan></text>
<text id="f1_s0_i0_xt0" x="0" y="0" font-size="17.1" text-anchor="middle" font-family="'Liberation Serif', 'DejaVu Serif', serif" transform="matrix(1.0 0 0 1 141.2 1992.8)">−0.4</text>
<text id="f1_s0_i0_xt1" x="0" y="0" font-size="17.1" text-anchor="middle" font-family="'Liberation Serif', 'DejaVu Serif', serif" transform="matrix(1.0 0 0 1 216.43 1992.8)">−0.3</text>
<text id="f1_s0_i0_xt2" x="0" y="0" font-size="17.1" text-anchor="middle" font-family="'Liberation Serif', 'DejaVu Serif', serif" transform="matrix(1.0 0 0 1 291.67 1992.8)">−0.2</text>
<text id="f1_s0_i0_xt3" x="0" y="0" font-size="17.1" text-anchor="middle" font-family="'Liberation Serif', 'DejaVu Serif', serif" transform="matrix(1.0 0 0 1 366.9 1992.8)">−0.1</text>
<rect x="406.3" y="1803.4" width="225.7" height="171.8" fill="#fff" stroke="none"/>
<path d="M445.95 1975.2H454.43V1973.51H445.95ZM454.43 1975.2H462.91V1973.51H454.43ZM462.91 1975.2H471.39V1965.71H462.91ZM471.39 1975.2H479.87V1942.86H471.39ZM479.87 1975.2H488.36V1923.58H479.87ZM488.36 1975.2H496.84V1936.98H488.36ZM496.84 1975.2H505.32V1919.88H496.84ZM505.32 1975.2H513.8V1923.58H505.32ZM513.8 1975.2H522.28V1923.58H513.8ZM522.28 1975.2H530.77V1935.2H522.28ZM530.77 1975.2H539.25V1945.19H530.77ZM539.25 1975.2H547.73V1965.71H539.25ZM547.73 1975.2H556.21V1969.81H547.73ZM564.69 1975.2H573.17V1973.51H564.69Z" fill="#000080" fill-opacity="0.7"/>
<path d="M488.36 1975.2H496.84V1971.59H488.36ZM505.32 1975.2H513.8V1971.87H505.32ZM513.8 1975.2H522.28V1969.81H513.8ZM522.28 1975.2H530.77V1936.98H522.28ZM530.77 1975.2H539.25V1912.36H530.77ZM539.25 1975.2H547.73V1915.78H539.25ZM547.73 1975.2H556.21V1891.15H547.73ZM556.21 1975.2H564.69V1921.52H556.21ZM564.69 1975.2H573.17V1942.86H564.69ZM573.17 1975.2H581.66V1956.13H573.17ZM581.66 1975.2H590.14V1962.02H581.66ZM590.14 1975.2H598.62V1969.81H590.14Z" fill="#ff0000" fill-opacity="0.7"/>
<rect x="406.3" y="1803.4" width="225.7" height="171.8" fill="none" stroke="#000" stroke-width="1.3"/>
<text id="f1_s0_i1_t1" x="626" y="1828.4" font-size="18.5" text-anchor="end" font-family="'Liberation Serif', 'DejaVu Serif', serif" transform="matrix(1.02110 0 0 0.98667 -13.088 25.000)">−0.173<tspan font-size="21.27" dy="1.3" dx="2.77">±</tspan><tspan font-size="18.5" dy="-1.3" dx="2.59">0.016</tspan></text>
<text id="f1_s0_i1_t2" x="418.3" y="1855" font-size="18.5" text-anchor="start" font-family="'Liberation Serif', 'DejaVu Serif', serif" transform="matrix(1.01743 0 0 1.03571 -7.804 -66.086)">−0.213<tspan font-size="21.27" dy="1.3" dx="2.77">±</tspan><tspan font-size="18.5" dy="-1.3" dx="2.59">0.019</tspan></text>
<text id="f1_s0_i1_xt0" x="0" y="0" font-size="17.1" text-anchor="middle" font-family="'Liberation Serif', 'DejaVu Serif', serif" transform="matrix(1.0 0 0 1 406.3 1992.8)">−0.30</text>
<text id="f1_s0_i1_xt1" x="0" y="0" font-size="17.1" text-anchor="middle" font-family="'Liberation Serif', 'DejaVu Serif', serif" transform="matrix(1.0 0 0 1 462.73 1992.8)">−0.25</text>
<text id="f1_s0_i1_xt2" x="0" y="0" font-size="17.1" text-anchor="middle" font-family="'Liberation Serif', 'DejaVu Serif', serif" transform="matrix(1.0 0 0 1 519.15 1992.8)">−0.20</text>
<text id="f1_s0_i1_xt3" x="0" y="0" font-size="17.1" text-anchor="middle" font-family="'Liberation Serif', 'DejaVu Serif', serif" transform="matrix(1.0 0 0 1 575.58 1992.8)">−0.15</text>
<text id="f1_s0_i1_xt4" x="0" y="0" font-size="17.1" text-anchor="middle" font-family="'Liberation Serif', 'DejaVu Serif', serif" transform="matrix(1.0 0 0 1 632 1992.8)">−0.10</text>
<rect x="671.8" y="1803.4" width="225.7" height="171.8" fill="#fff" stroke="none"/>
<path d="M739.4 1975.2H747.9V1970.23H739.4ZM747.9 1975.2H756.39V1971.87H747.9ZM756.39 1975.2H764.89V1951.07H756.39ZM764.89 1975.2H773.38V1941.09H764.89ZM773.38 1975.2H781.88V1907.84H773.38ZM781.88 1975.2H790.38V1896.08H781.88ZM790.38 1975.2H798.87V1918.24H790.38ZM798.87 1975.2H807.37V1937.39H798.87ZM807.37 1975.2H815.86V1949.57H807.37ZM815.86 1975.2H824.36V1972.28H815.86ZM824.36 1975.2H832.85V1972.28H824.36ZM832.85 1975.2H841.35V1973.51H832.85Z" fill="#000080" fill-opacity="0.7"/>
<path d="M739.4 1975.2H747.9V1971.87H739.4ZM747.9 1975.2H756.39V1965.03H747.9ZM756.39 1975.2H764.89V1956.54H756.39ZM764.89 1975.2H773.38V1923.58H764.89ZM773.38 1975.2H781.88V1901.14H773.38ZM781.88 1975.2H790.38V1897.72H781.88ZM790.38 1975.2H798.87V1915.09H790.38ZM798.87 1975.2H807.37V1939.03H798.87ZM807.37 1975.2H815.86V1965.03H807.37ZM815.86 1975.2H824.36V1973.51H815.86Z" fill="#ff0000" fill-opacity="0.7"/>
<rect x="671.8" y="1803.4" width="225.7" height="171.8" fill="none" stroke="#000" stroke-width="1.3"/>
<text id="f1_s0_i2_t1" x="891.5" y="1828.4" font-size="18.5" text-anchor="end" font-family="'Liberation Serif', 'DejaVu Serif', serif" transform="matrix(1.02110 0 0 0.98667 -19.201 25.000)">−0.151<tspan font-size="21.27" dy="1.3" dx="2.77">±</tspan><tspan font-size="18.5" dy="-1.3" dx="2.59">0.013</tspan></text>
<text id="f1_s0_i2_t2" x="683.8" y="1855" font-size="18.5" text-anchor="start" font-family="'Liberation Serif', 'DejaVu Serif', serif" transform="matrix(1.01743 0 0 1.03571 -12.940 -66.086)">−0.148<tspan font-size="21.27" dy="1.3" dx="2.77">±</tspan><tspan font-size="18.5" dy="-1.3" dx="2.59">0.015</tspan></text>
<text id="f1_s0_i2_xt0" x="0" y="0" font-size="17.1" text-anchor="middle" font-family="'Liberation Serif', 'DejaVu Serif', serif" transform="matrix(1.0 0 0 1 671.8 1992.8)">−0.25</text>
<text id="f1_s0_i2_xt1" x="0" y="0" font-size="17.1" text-anchor="middle" font-family="'Liberation Serif', 'DejaVu Serif', serif" transform="matrix(1.0 0 0 1 728.22 1992.8)">−0.20</text>
<text id="f1_s0_i2_xt2" x="0" y="0" font-size="17.1" text-anchor="middle" font-family="'Liberation Serif', 'DejaVu Serif', serif" transform="matrix(1.0 0 0 1 784.65 1992.8)">−0.15</text>
<text id="f1_s0_i2_xt3" x="0" y="0" font-size="17.1" text-anchor="middle" font-family="'Liberation Serif', 'DejaVu Serif', serif" transform="matrix(1.0 0 0 1 841.07 1992.8)">−0.10</text>
<text id="f1_s0_i2_xt4" x="0" y="0" font-size="17.1" text-anchor="middle" font-family="'Liberation Serif', 'DejaVu Serif', serif" transform="matrix(1.0 0 0 1 897.5 1992.8)">−0.05</text>
<rect x="115.5" y="1386.5" width="807.5" height="613.8" fill="none" stroke="#000" stroke-width="1.3"/>
<path d="M196.25 1996.8V2003.8M196.25 1383V1390M277 1996.8V2003.8M277 1383V1390M357.75 1996.8V2003.8M357.75 1383V1390M438.5 1996.8V2003.8M438.5 1383V1390M519.25 1996.8V2003.8M519.25 1383V1390M600 1996.8V2003.8M600 1383V1390M680.75 1996.8V2003.8M680.75 1383V1390M761.5 1996.8V2003.8M761.5 1383V1390M842.25 1996.8V2003.8M842.25 1383V1390M112 2000.3H119M919.5 2000.3H926.5M112 1944.5H119M919.5 1944.5H926.5M112 1888.7H119M919.5 1888.7H926.5M112 1832.9H119M919.5 1832.9H926.5M112 1777.1H119M919.5 1777.1H926.5M112 1721.3H119M919.5 1721.3H926.5M112 1665.5H119M919.5 1665.5H926.5M112 1609.7H119M919.5 1609.7H926.5M112 1553.9H119M919.5 1553.9H926.5M112 1498.1H119M919.5 1498.1H926.5M112 1442.3H119M919.5 1442.3H926.5" stroke="#000" stroke-width="2.0" fill="none"/>
<text id="f1_s0_A_yt0" x="0" y="0" font-size="26.4" text-anchor="end" font-family="'Liberation Serif', 'DejaVu Serif', serif" transform="matrix(1.0 0 0 1 111.1 2008.9)">−0.50</text>
<text id="f1_s0_A_yt1" x="0" y="0" font-size="26.4" text-anchor="end" font-family="'Liberation Serif', 'DejaVu Serif', serif" transform="matrix(1.0 0 0 1 111.1 1953.1)">−0.45</text>
<text id="f1_s0_A_yt2" x="0" y="0" font-size="26.4" text-anchor="end" font-family="'Liberation Serif', 'DejaVu Serif', serif" transform="matrix(1.0 0 0 1 111.1 1897.3)">−0.40</text>
<text id="f1_s0_A_yt3" x="0" y="0" font-size="26.4" text-anchor="end" font-family="'Liberation Serif', 'DejaVu Serif', serif" transform="matrix(1.0 0 0 1 111.1 1841.5)">−0.35</text>
<text id="f1_s0_A_yt4" x="0" y="0" font-size="26.4" text-anchor="end" font-family="'Liberation Serif', 'DejaVu Serif', serif" transform="matrix(1.0 0 0 1 111.1 1785.7)">−0.30</text>
<text id="f1_s0_A_yt5" x="0" y="0" font-size="26.4" text-anchor="end" font-family="'Liberation Serif', 'DejaVu Serif', serif" transform="matrix(1.0 0 0 1 111.1 1729.9)">−0.25</text>
<text id="f1_s0_A_yt6" x="0" y="0" font-size="26.4" text-anchor="end" font-family="'Liberation Serif', 'DejaVu Serif', serif" transform="matrix(1.0 0 0 1 111.1 1674.1)">−0.20</text>
<text id="f1_s0_A_yt7" x="0" y="0" font-size="26.4" text-anchor="end" font-family="'Liberation Serif', 'DejaVu Serif', serif" transform="matrix(1.0 0 0 1 111.1 1618.3)">−0.15</text>
<text id="f1_s0_A_yt8" x="0" y="0" font-size="26.4" text-anchor="end" font-family="'Liberation Serif', 'DejaVu Serif', serif" transform="matrix(1.0 0 0 1 111.1 1562.5)">−0.10</text>
<text id="f1_s0_A_yt9" x="0" y="0" font-size="26.4" text-anchor="end" font-family="'Liberation Serif', 'DejaVu Serif', serif" transform="matrix(1.0 0 0 1 111.1 1506.7)">−0.05</text>
<text id="f1_s0_A_yt10" x="0" y="0" font-size="26.4" text-anchor="end" font-family="'Liberation Serif', 'DejaVu Serif', serif" transform="matrix(1.0 0 0 1 111.1 1450.9)">0.00</text>
<text id="f1_s0_A_xt0" x="0" y="0" font-size="26.4" text-anchor="middle" font-family="'Liberation Serif', 'DejaVu Serif', serif" transform="matrix(1.0 0 0 1 196.25 2022.6)">−11.5</text>
<text id="f1_s0_A_xt1" x="0" y="0" font-size="26.4" text-anchor="middle" font-family="'Liberation Serif', 'DejaVu Serif', serif" transform="matrix(1.0 0 0 1 277 2022.6)">−11.0</text>
<text id="f1_s0_A_xt2" x="0" y="0" font-size="26.4" text-anchor="middle" font-family="'Liberation Serif', 'DejaVu Serif', serif" transform="matrix(1.0 0 0 1 357.75 2022.6)">−10.5</text>
<text id="f1_s0_A_xt3" x="0" y="0" font-size="26.4" text-anchor="middle" font-family="'Liberation Serif', 'DejaVu Serif', serif" transform="matrix(1.0 0 0 1 438.5 2022.6)">−10.0</text>
<text id="f1_s0_A_xt4" x="0" y="0" font-size="26.4" text-anchor="middle" font-family="'Liberation Serif', 'DejaVu Serif', serif" transform="matrix(1.0 0 0 1 519.25 2022.6)">−9.5</text>
<text id="f1_s0_A_xt5" x="0" y="0" font-size="26.4" text-anchor="middle" font-family="'Liberation Serif', 'DejaVu Serif', serif" transform="matrix(1.0 0 0 1 600 2022.6)">−9.0</text>
<text id="f1_s0_A_xt6" x="0" y="0" font-size="26.4" text-anchor="middle" font-family="'Liberation Serif', 'DejaVu Serif', serif" transform="matrix(1.0 0 0 1 680.75 2022.6)">−8.5</text>
<text id="f1_s0_A_xt7" x="0" y="0" font-size="26.4" text-anchor="middle" font-family="'Liberation Serif', 'DejaVu Serif', serif" transform="matrix(1.0 0 0 1 761.5 2022.6)">−8.0</text>
<text id="f1_s0_A_xt8" x="0" y="0" font-size="26.4" text-anchor="middle" font-family="'Liberation Serif', 'DejaVu Serif', serif" transform="matrix(1.0 0 0 1 842.25 2022.6)">−7.5</text>
<text id="f1_s0_dm0" x="656" y="1455.5" font-size="55" font-family="'Liberation Serif', 'DejaVu Serif', serif" transform="matrix(1.02034 0 0 1.01000 -15.483 -13.820)"><tspan font-style="italic">d</tspan><tspan font-style="italic" font-size="38.5" dy="6.7">M</tspan></text>
<text id="f1_s0_dm1" x="728" y="1455.5" font-size="55" font-family="'Liberation Serif', 'DejaVu Serif', serif" transform="matrix(1.24400 0 0 1.17308 -181.064 -245.635)">&lt;</text>
<text id="f1_s0_dm2" x="773" y="1455.5" font-size="55" font-family="'Liberation Serif', 'DejaVu Serif', serif" transform="matrix(0.99487 0 0 1.03333 2.674 -49.833)">80 pc</text>
<text id="f1_s0_fm0" x="726" y="1505.9" font-size="31" font-family="'Liberation Serif', 'DejaVu Serif', serif" transform="matrix(1.10556 0 0 0.97586 -59.533 35.921)"><tspan font-style="italic">f</tspan><tspan font-size="22" dy="4.5">multi</tspan></text>
<text id="f1_s0_fm1" x="795" y="1505.9" font-size="31" font-family="'Liberation Serif', 'DejaVu Serif', serif" transform="matrix(1.30667 0 0 1.28750 -228.907 -427.362)">=</text>
<text id="f1_s0_fm2" x="821" y="1505.9" font-size="31" font-family="'Liberation Serif', 'DejaVu Serif', serif" transform="matrix(1.02549 0 0 1.06190 -5.353 -92.829)">0.31</text>
<rect x="131.9" y="1402.9" width="386.5" height="100.1" rx="5" fill="#fff" fill-opacity="0.8" stroke="#d9d9d9" stroke-width="1"/>
<circle cx="176.6" cy="1429.7" r="2.6" fill="#ff0000"/>
<circle cx="176.6" cy="1475.1" r="2.6" fill="#000080"/>
<text id="f1_leg0" x="235.4" y="1437.9" font-size="31" text-anchor="start" font-family="'Liberation Serif', 'DejaVu Serif', serif" transform="matrix(1.04402 0 0 0.97826 -12.232 31.861)">observed ensemble</text>
<text id="f1_leg1" x="235.4" y="1483.3" font-size="31" text-anchor="start" font-family="'Liberation Serif', 'DejaVu Serif', serif" transform="matrix(1.03822 0 0 0.97826 -9.821 33.139)">Newtonian ensemble</text>
<g transform="matrix(0.95333 0 0 0.56190 -16.820 764.429)"><g transform="translate(60 1729) rotate(-90)">
<text id="f1_yA0" x="0" y="0" font-size="46" text-anchor="middle" font-family="'Liberation Serif', 'Noto Serif CJK SC', serif" stroke="#000" stroke-width="1.6" stroke-linejoin="round">〈</text>
</g></g>
<g transform="matrix(0.99677 0 0 1.09231 0.216 -156.692)"><g transform="translate(36 1704) rotate(-90)">
<text id="f1_yA1" x="0" y="0" font-size="46" text-anchor="middle" font-family="'Liberation Serif', 'DejaVu Serif', serif">Δ</text>
</g></g>
<g transform="matrix(0.85417 0 0 0.72692 4.971 457.500)"><g transform="translate(41.7 1677) rotate(-90)">
<text id="f1_yA2" x="0" y="0" font-size="32" text-anchor="middle" font-family="'Liberation Serif', 'Noto Serif CJK SC', serif" stroke="#000" stroke-width="1.0" stroke-linejoin="round">⊥</text>
</g></g>
<g transform="matrix(0.95333 0 0 0.55714 -16.820 726.229)"><g transform="translate(60 1654) rotate(-90)">
<text id="f1_yA3" x="0" y="0" font-size="46" text-anchor="middle" font-family="'Liberation Serif', 'Noto Serif CJK SC', serif" stroke="#000" stroke-width="1.6" stroke-linejoin="round">〉</text>
</g></g>
<path d="M1167.35 1386.5V2000.3M1248.1 1386.5V2000.3M1328.85 1386.5V2000.3M1409.6 1386.5V2000.3M1490.35 1386.5V2000.3M1571.1 1386.5V2000.3M1651.85 1386.5V2000.3M1732.6 1386.5V2000.3M1813.35 1386.5V2000.3M1086.6 2000.3H1894.1M1086.6 1938.92H1894.1M1086.6 1877.54H1894.1M1086.6 1816.16H1894.1M1086.6 1754.78H1894.1M1086.6 1693.4H1894.1M1086.6 1632.02H1894.1M1086.6 1570.64H1894.1M1086.6 1509.26H1894.1M1086.6 1447.88H1894.1" stroke="#b4e6e6" stroke-width="1" stroke-dasharray="1.2 1.2" fill="none"/>
<path d="M1370.36 1761.48h0M1371.15 1758.09h0M1367.46 1760.2h0M1369.03 1750.85h0M1371.87 1751.56h0M1369.87 1745.67h0M1370.98 1746.68h0M1371.78 1746.03h0M1366.8 1747.45h0M1368.72 1745.16h0M1369.39 1746.71h0M1367.89 1745.39h0M1371.09 1740.69h0M1369.11 1741h0M1369.67 1741.4h0M1366.76 1738.37h0M1371.13 1736.91h0M1373.13 1734.22h0M1371.06 1734.3h0M1369.91 1736.62h0M1373.01 1736.03h0M1365.61 1737.19h0M1364.86 1733.54h0M1370.66 1736.99h0M1372.42 1734.07h0M1371 1732.4h0M1371.46 1729.29h0M1366.52 1729.65h0M1370.15 1728.79h0M1370.93 1730.97h0M1366.73 1729.97h0M1367.71 1730.71h0M1370.06 1729.26h0M1370.36 1730.76h0M1366.67 1729.56h0M1368.61 1732.41h0M1372.43 1728.51h0M1369.53 1730.01h0M1366.74 1729.37h0M1373.86 1730.82h0M1369.68 1732.38h0M1368.7 1729.9h0M1367.8 1729.9h0M1369.35 1729.89h0M1373.1 1725.5h0M1371.18 1723.45h0M1374.43 1726.22h0M1371.83 1725.61h0M1372.45 1724.74h0M1366.97 1727.91h0M1369.56 1724.05h0M1370.06 1727.96h0M1369.6 1723.44h0M1367.27 1724.48h0M1374.52 1725.15h0M1370.88 1726.57h0M1371.28 1727.75h0M1370.34 1724.61h0M1369.34 1725.13h0M1367.72 1724.98h0M1364.97 1721.72h0M1372.1 1719.54h0M1370.12 1721.22h0M1369.89 1721.9h0M1365.63 1718.62h0M1370.89 1720.83h0M1373.31 1719.06h0M1371.9 1718.67h0M1368.36 1723.25h0M1369.01 1722.26h0M1371 1721.01h0M1369.61 1723.25h0M1370.7 1721.14h0M1371.98 1718.51h0M1369.99 1722.49h0M1373.7 1720.35h0M1367.58 1718.49h0M1370.07 1723.24h0M1368.89 1716.36h0M1372.52 1717.93h0M1367.68 1715.32h0M1372.92 1715.51h0M1366.35 1718.08h0M1366.91 1718.22h0M1371.32 1716.38h0M1370.3 1716.64h0M1368.21 1717.56h0M1368.35 1715.35h0M1369.5 1714.18h0M1372.93 1714.41h0M1369.14 1715.91h0M1370.39 1715.36h0M1370.67 1716.85h0M1369.13 1709.65h0M1372.86 1708.97h0M1372.63 1709.15h0M1368.9 1710.67h0M1365.41 1711.47h0M1367.24 1710.61h0M1368.42 1713.02h0M1365.79 1710.06h0M1367.91 1709.27h0M1366.61 1712.44h0M1370.12 1708.91h0M1367.39 1710.08h0M1369.19 1711.59h0M1366.66 1711.1h0M1371.82 1710.86h0M1364.68 1713.35h0M1366.36 1708.71h0M1367.54 1709.7h0M1370.25 1711.93h0M1369.86 1712.34h0M1372.06 1713.34h0M1366.5 1712.39h0M1368.96 1704.26h0M1367.46 1707.57h0M1370.53 1705.72h0M1366.22 1705.9h0M1370.12 1707.96h0M1369.77 1708.18h0M1368.01 1707.38h0M1369.77 1703.96h0M1372.02 1706.68h0M1372.41 1707.57h0M1368.99 1704.75h0M1368.74 1707.97h0M1372.57 1704.21h0M1368.25 1705.23h0M1371.79 1703.59h0M1370.74 1704.83h0M1368.39 1703.64h0M1368.91 1703.77h0M1368.93 1705.67h0M1368.81 1703.94h0M1369.71 1705.17h0M1365.1 1705.16h0M1372.77 1705.01h0M1369.45 1706.85h0M1369.84 1705.7h0M1369.92 1698.82h0M1368.71 1699.45h0M1367.93 1700.99h0M1368.43 1698.83h0M1371.02 1701.15h0M1370.73 1698.76h0M1369.63 1698.68h0M1370.44 1700.13h0M1370.15 1701.5h0M1369.24 1698.88h0M1366.45 1699.1h0M1367.54 1699.83h0M1374.78 1700.86h0M1375.62 1699.34h0M1368.83 1699.77h0M1367.81 1697.19h0M1368.57 1697.62h0M1368.95 1697.16h0M1372.4 1698.05h0M1367.09 1696.9h0M1368.95 1697.77h0M1370.55 1695.13h0M1366.56 1696.39h0M1369.37 1698.45h0M1370.99 1694.92h0M1368.4 1695.37h0M1364.41 1694.39h0M1367.04 1692.12h0M1367.27 1688.84h0M1366.07 1690.8h0M1370.26 1690.05h0M1369.24 1693.07h0M1369.55 1693.27h0M1370.29 1693.56h0M1373.69 1692.91h0M1370.61 1686.33h0M1370.01 1684.36h0M1370.81 1687.65h0M1370.13 1688.1h0M1367.47 1685.67h0M1367.79 1687.83h0M1370.16 1684.5h0M1369.9 1686.52h0M1375.06 1688.73h0M1367.89 1684.36h0M1367.91 1686.95h0M1373.05 1687.92h0M1368.77 1685.97h0M1368.08 1679.57h0M1372.03 1679.75h0M1369.03 1682.44h0M1368.43 1683.74h0M1369.98 1679.31h0M1369.49 1678.82h0M1370.07 1676.11h0M1373.08 1677.18h0M1369.34 1675.13h0M1373.22 1677.72h0M1370.59 1676.38h0M1369.16 1666.25h0M1564.73 1691.73h0M1565.82 1688.98h0M1567.91 1687.34h0M1564.54 1682.25h0M1564.91 1681.19h0M1567.38 1681.96h0M1561.01 1683.01h0M1567.42 1680.12h0M1565.12 1679.3h0M1560.66 1680.42h0M1566.35 1678.69h0M1566.72 1680.3h0M1566.87 1680.78h0M1564.35 1679.66h0M1563.71 1679.82h0M1563.28 1679.58h0M1567.17 1677.02h0M1567.3 1677.76h0M1564.95 1678.41h0M1569.18 1677.86h0M1566.1 1677.32h0M1566.48 1677.82h0M1563.76 1676.58h0M1566.03 1676.32h0M1567.52 1678.62h0M1568.45 1676.55h0M1568.48 1675.18h0M1566.44 1674.61h0M1563.46 1673.79h0M1564.15 1674.9h0M1565.81 1676.21h0M1565.47 1675.04h0M1567.26 1675.55h0M1564.63 1675.84h0M1569.08 1674.46h0M1563.82 1674.66h0M1564.9 1674.52h0M1565.95 1675.38h0M1565.35 1675.15h0M1565.88 1673.92h0M1566.47 1674.71h0M1567.05 1674.55h0M1566.84 1671.38h0M1562.89 1673.71h0M1567.83 1671.8h0M1565.22 1673.13h0M1565.83 1672.7h0M1566.3 1671.53h0M1567.68 1671.36h0M1565.34 1671.71h0M1566.06 1673.4h0M1566.65 1672.76h0M1563.58 1672.24h0M1565.01 1673.71h0M1566.62 1673.72h0M1565.77 1672.35h0M1566.79 1671.42h0M1561.54 1673.11h0M1564.17 1673.23h0M1568.76 1669.18h0M1566.59 1668.95h0M1564.56 1669.03h0M1565.18 1669.83h0M1565.42 1669.96h0M1568.23 1669.38h0M1565.77 1671.11h0M1566.52 1669.68h0M1564.02 1671.25h0M1565.51 1670.9h0M1567.88 1671.11h0M1566.58 1669.13h0M1569.75 1670.66h0M1564.14 1670.04h0M1562.17 1669.48h0M1564.52 1667.82h0M1564.12 1666.48h0M1564.75 1668.3h0M1568.31 1668.3h0M1566.89 1668.02h0M1567.28 1667.36h0M1566.85 1668.72h0M1563.72 1667.89h0M1566.23 1667.75h0M1563.94 1667.61h0M1564.73 1668.25h0M1564.06 1667.91h0M1563.56 1668.69h0M1565.34 1666.13h0M1568.49 1665.21h0M1564.48 1665.82h0M1567.85 1664.27h0M1565.37 1664.84h0M1561.16 1666.29h0M1570.64 1664.35h0M1565.57 1664.97h0M1567.43 1665.03h0M1564.24 1664.96h0M1566.54 1664.77h0M1566.68 1664.62h0M1565.61 1664.85h0M1569.69 1664.38h0M1564.3 1665.47h0M1565.67 1664.13h0M1567.42 1665.96h0M1568.25 1665.89h0M1565.94 1663.48h0M1567.55 1663.4h0M1562.34 1662.83h0M1565.12 1663.93h0M1565.9 1662.76h0M1566.32 1663.04h0M1563.65 1663.4h0M1565.47 1663.85h0M1566.75 1662.82h0M1564.96 1663.44h0M1566.11 1662.53h0M1566.1 1663.49h0M1564.09 1663.6h0M1567.35 1663.5h0M1563.7 1663.72h0M1564.52 1663.22h0M1565.7 1663.71h0M1567.05 1661.84h0M1568.71 1661.54h0M1565.76 1660.64h0M1566.01 1661.08h0M1563.88 1660.28h0M1564.88 1660.35h0M1566.44 1660.66h0M1568.25 1659.91h0M1565.62 1659.59h0M1564.62 1660.64h0M1563.22 1659.66h0M1567.24 1660.17h0M1563.97 1660.36h0M1566.9 1661.23h0M1563.96 1660.9h0M1561.59 1660.8h0M1565.29 1661.17h0M1568.44 1660.48h0M1568 1659.95h0M1565.52 1659.46h0M1564.47 1660.02h0M1564.8 1660.86h0M1569.75 1656.86h0M1562.49 1658.64h0M1568.72 1657.41h0M1565.81 1657.08h0M1570.28 1657.8h0M1563.45 1658.18h0M1567.34 1656.59h0M1566.2 1658.57h0M1565.58 1658.68h0M1568.04 1657.52h0M1568.09 1656.9h0M1566.98 1657.27h0M1565.32 1656.77h0M1566.47 1657.69h0M1564.48 1658.19h0M1565.27 1657.44h0M1569.6 1656.84h0M1565.17 1657.8h0M1565.59 1655.31h0M1567.31 1654.93h0M1566.56 1656.26h0M1563.45 1654.33h0M1569.87 1654.72h0M1568.07 1655.81h0M1566.91 1654.39h0M1566.92 1654.33h0M1563.62 1654.51h0M1562.24 1655.35h0M1564.71 1652.43h0M1565.94 1651.92h0M1568.1 1651.94h0M1566.42 1652.45h0M1565.71 1653.56h0M1564.84 1651.65h0M1564.1 1653.29h0M1566.18 1653.7h0M1564.78 1653.94h0M1564.85 1651.1h0M1562.37 1649.29h0M1565.88 1650.17h0M1564.79 1649.46h0M1567.3 1651.07h0M1564.56 1650.26h0M1569.24 1651.31h0M1565.62 1649.4h0M1563.78 1650.81h0M1571.14 1651.38h0M1562.46 1647h0M1565.3 1648.1h0M1567.09 1647.17h0M1564.13 1648.52h0M1566.99 1646.76h0M1567.03 1646.82h0M1566.53 1648.81h0M1562.61 1646.7h0M1565.35 1645.63h0M1733.27 1638.42h0M1729.95 1636.2h0M1731.69 1632.88h0M1732.32 1634.55h0M1730.33 1633.87h0M1728.66 1634.33h0M1732.75 1630.3h0M1731.39 1629.71h0M1732.79 1629.97h0M1731.06 1631.45h0M1732.03 1631.66h0M1730.52 1629.04h0M1730.89 1629.06h0M1728.43 1629.62h0M1734.11 1629.66h0M1734.41 1628.38h0M1731.97 1627.52h0M1732.44 1627.28h0M1730.79 1624.93h0M1729.36 1626.47h0M1730.3 1626.78h0M1733.97 1626.35h0M1729.15 1626.79h0M1728.54 1625.04h0M1732.14 1625.69h0M1734.33 1624.94h0M1734.21 1623.88h0M1730.4 1622.39h0M1725.41 1622.88h0M1731.2 1622.86h0M1733.94 1624.63h0M1732.55 1623.22h0M1731.49 1623.49h0M1732.41 1622.66h0M1731.41 1620.93h0M1729.25 1619.85h0M1731.78 1621.75h0M1730.57 1621.26h0M1729.16 1619.96h0M1732.36 1622.26h0M1733.89 1621.85h0M1732.58 1621.3h0M1731.23 1619.48h0M1732.7 1618.96h0M1733.71 1619.54h0M1732.95 1618.84h0M1732.4 1619.59h0M1731.63 1618.79h0M1732.51 1619.14h0M1733.2 1619h0M1727.11 1619.06h0M1729.92 1619.35h0M1732.77 1619.08h0M1731.85 1618.62h0M1728.78 1618.8h0M1729.71 1618.66h0M1732.87 1617.53h0M1730.55 1619.62h0M1727.91 1619.01h0M1729.77 1618.38h0M1731.18 1618.84h0M1729.7 1619.66h0M1730.5 1618.07h0M1731.73 1619.62h0M1732.78 1619.32h0M1730.9 1618.74h0M1733.17 1618.94h0M1730.52 1615.42h0M1730.79 1615.06h0M1730.43 1615.45h0M1732.97 1616.42h0M1734.46 1615.33h0M1730.05 1617.06h0M1730.26 1616.33h0M1729.44 1615.58h0M1734.13 1614.95h0M1732.97 1616.28h0M1732.54 1615.85h0M1733.4 1617.08h0M1729.56 1616.82h0M1734.11 1615.76h0M1731.84 1614.97h0M1729.1 1617.22h0M1730.13 1615.57h0M1731.98 1615.73h0M1738.18 1617.28h0M1730.16 1615.74h0M1731.48 1616.18h0M1735.46 1614.41h0M1733.05 1613.8h0M1734.24 1613.18h0M1732.81 1614.49h0M1731.78 1613.8h0M1730.39 1613.43h0M1733.48 1613.71h0M1731.62 1613.33h0M1731.19 1614.5h0M1731.7 1614h0M1732.03 1613.22h0M1732.38 1613.01h0M1732.43 1614.37h0M1733.27 1612.66h0M1731.36 1614.48h0M1728.45 1613.28h0M1735.89 1613.25h0M1731.89 1612.27h0M1731.12 1610.04h0M1730.86 1610.81h0M1734.97 1610.37h0M1731.25 1612.38h0M1729.09 1610.16h0M1733.77 1611.15h0M1736.69 1610.68h0M1731.58 1610.25h0M1732.25 1611.69h0M1731.64 1609.99h0M1729.85 1611.9h0M1731.9 1612.2h0M1732.76 1611.29h0M1727.27 1611.77h0M1730.06 1610.53h0M1731.51 1610.5h0M1730.55 1612.13h0M1728.36 1610.04h0M1729.38 1611.54h0M1730.33 1610.73h0M1728.69 1611.3h0M1727.78 1611.81h0M1728.77 1610.29h0M1729.25 1612.12h0M1731.97 1609.2h0M1731.07 1608.83h0M1736.81 1609.52h0M1731.4 1608.93h0M1728.65 1607.96h0M1728.95 1608.8h0M1731.07 1609.21h0M1736.39 1608.22h0M1733.1 1607.79h0M1731.41 1607.98h0M1728.07 1607.68h0M1733.51 1609.59h0M1730.86 1609.08h0M1733.1 1607.99h0M1727.91 1607.76h0M1729.96 1608.98h0M1732.18 1607.62h0M1730.36 1609.77h0M1734.12 1609.83h0M1732.42 1608.43h0M1730.81 1606.64h0M1733.32 1606.46h0M1735.11 1607.33h0M1729.76 1606.32h0M1730.78 1606.92h0M1731.55 1605.87h0M1729.91 1605.19h0M1731.83 1605.48h0M1732.18 1605.48h0M1731.35 1606.95h0M1730.23 1605.98h0M1734.98 1605.11h0M1731.61 1605.37h0M1735.1 1607.04h0M1729.88 1602.87h0M1726.37 1603h0M1731.33 1603.87h0M1732.3 1604.24h0M1732.71 1603.28h0M1729.51 1603.68h0M1729.81 1603.28h0M1730.02 1604.3h0M1727.16 1602.62h0M1733.15 1603.64h0M1732.24 1603.54h0M1732.89 1603.83h0M1728.15 1604.84h0M1732.23 1604.1h0M1733.41 1601.28h0M1725.93 1600.22h0M1731.19 1601.96h0M1729.48 1601.3h0M1731.35 1602.06h0M1729.84 1602.43h0M1728.36 1602.53h0M1730.53 1599h0M1731.88 1598.99h0M1731.19 1598.66h0M1728.79 1598.26h0M1730.69 1597.88h0M1732.82 1599.42h0M1729.4 1599.31h0M1729.84 1597.65h0M1731 1597.59h0M1734.35 1596.39h0M1729.8 1595.77h0M1732.47 1597.09h0M1728.98 1597.09h0M1731.52 1593.82h0M1727.73 1594.86h0M1734.16 1593.59h0" stroke="#ff0000" stroke-width="2.0" stroke-linecap="round" fill="none" opacity="0.6"/>
<path d="M1366.55 1838.72h0M1364.72 1839.67h0M1365.22 1837.67h0M1363.31 1837.41h0M1368.64 1835.69h0M1368.12 1834.59h0M1370.34 1833.96h0M1366.77 1836.39h0M1366.69 1834.23h0M1365.75 1827.71h0M1368.46 1828.56h0M1367.49 1829.28h0M1366.9 1831.3h0M1365.01 1829.87h0M1366.79 1829.04h0M1370.75 1829.79h0M1366.92 1831.35h0M1368.25 1828.92h0M1367.32 1828.16h0M1365.84 1827.99h0M1367.79 1828.82h0M1367.03 1830.2h0M1368.33 1825.71h0M1363.56 1826.56h0M1371.97 1821.73h0M1370.31 1823.95h0M1369.64 1822.88h0M1367.02 1823.96h0M1368.67 1824.58h0M1367.34 1825.06h0M1367.24 1824.21h0M1370.44 1824.35h0M1362.46 1826.49h0M1364.2 1825.34h0M1364.36 1825.25h0M1363.5 1824.69h0M1366.93 1824.99h0M1366.53 1820.75h0M1366.54 1819.9h0M1366.75 1819.13h0M1363.85 1819.98h0M1368.09 1819.32h0M1364.78 1817.86h0M1366.87 1819.7h0M1367.12 1818.66h0M1364.57 1820.31h0M1368.12 1818.22h0M1365.72 1819.5h0M1372.46 1820.62h0M1368.41 1816.96h0M1365.87 1820.85h0M1360.32 1813.51h0M1367.43 1813.29h0M1368.32 1816.25h0M1363.01 1815.24h0M1366.78 1816.73h0M1367.98 1812.33h0M1365.52 1815.58h0M1367.25 1812.97h0M1372.89 1815.48h0M1365.39 1812.37h0M1366.24 1808.6h0M1366.3 1808.3h0M1365.27 1808.88h0M1368.68 1810.98h0M1368.78 1809.35h0M1368.74 1807.15h0M1368.8 1808.9h0M1367.59 1810.61h0M1368.02 1809.75h0M1367.77 1810.17h0M1367.36 1811.63h0M1368.08 1809.79h0M1366.74 1808.6h0M1369.17 1807.9h0M1369.52 1809.68h0M1365.33 1811.77h0M1364.88 1810.39h0M1362.92 1811.26h0M1369.55 1808.21h0M1367.33 1808.44h0M1370.44 1803.01h0M1365.16 1806.36h0M1363.68 1803.13h0M1367.19 1805.07h0M1364.62 1806.17h0M1371.75 1803.71h0M1367.1 1803.99h0M1368.91 1802.83h0M1370.26 1802.57h0M1367.57 1805.27h0M1366.9 1806.85h0M1367.78 1805.19h0M1363.47 1806.37h0M1366.88 1804.1h0M1369.73 1803.26h0M1364.74 1803.06h0M1366.12 1804.44h0M1366.69 1806.4h0M1366.6 1804.82h0M1367.04 1805.95h0M1367.16 1805.44h0M1369.09 1799.18h0M1365.25 1800.43h0M1366.94 1801.57h0M1368.62 1800.65h0M1366.38 1797.42h0M1368.87 1801.38h0M1362.26 1800.4h0M1367.29 1800.72h0M1369.74 1797.53h0M1365.36 1798.8h0M1370.76 1801.82h0M1368.78 1801.61h0M1368.48 1801.6h0M1366.03 1798.17h0M1372.41 1799.14h0M1366.44 1798.44h0M1369.49 1797.87h0M1365.01 1797.66h0M1368.35 1801.67h0M1368.7 1798.82h0M1368.98 1800.65h0M1368.31 1797.28h0M1365.03 1801.24h0M1370.29 1793.47h0M1365.73 1795.18h0M1366.9 1794.53h0M1364.07 1795.5h0M1369.8 1793.49h0M1371.32 1793.44h0M1363.8 1797.01h0M1370.62 1792.45h0M1364.7 1792.7h0M1368.06 1792.99h0M1364.5 1796.23h0M1367.03 1790.67h0M1370.26 1790.7h0M1369.17 1788.55h0M1365.72 1787.39h0M1366.45 1788.69h0M1366.05 1792.1h0M1369.23 1792.17h0M1363.88 1789.76h0M1364.49 1790.09h0M1369.15 1790.42h0M1372.36 1789.71h0M1368.16 1788.91h0M1365.44 1791.28h0M1365.94 1791.38h0M1369.21 1791.63h0M1367.51 1791.84h0M1369.75 1791.2h0M1367.12 1791.25h0M1366.35 1782.68h0M1364.2 1786.57h0M1370.93 1783.3h0M1369.72 1786.25h0M1371.11 1786.76h0M1365.8 1782.42h0M1365.77 1785.65h0M1370.4 1786.28h0M1367.09 1782.44h0M1366.44 1783.95h0M1365.93 1784.87h0M1369.11 1786.26h0M1367.46 1787.09h0M1368.44 1784.92h0M1364.32 1787.13h0M1368.28 1786.38h0M1368.46 1779.7h0M1373.36 1777.88h0M1369.39 1779.78h0M1368.02 1781.49h0M1367.83 1778.77h0M1370.55 1774.37h0M1365.28 1776.95h0M1368.63 1775.45h0M1368.58 1772.52h0M1367.4 1774.01h0M1366.19 1775.81h0M1367.96 1777.33h0M1369.78 1774.65h0M1367.71 1771.16h0M1366.21 1769.66h0M1365.8 1769.8h0M1366.43 1769.73h0M1365.13 1770.35h0M1367.93 1771.79h0M1364.67 1771.08h0M1369.01 1768.55h0M1365.93 1764.52h0M1372.22 1766.49h0M1364.2 1765.76h0M1366.09 1767.46h0M1364.99 1762.84h0M1367.32 1767.5h0M1370.97 1757.4h0M1365.02 1755.75h0M1564.58 1717h0M1566.78 1716.65h0M1562.72 1716.16h0M1564.84 1716.19h0M1561.6 1715.8h0M1566.62 1717.28h0M1568.19 1716.99h0M1569.58 1716.14h0M1567.15 1713.3h0M1564.36 1714.99h0M1565.24 1715.09h0M1563.45 1714.44h0M1568.94 1710.7h0M1566.89 1711.2h0M1563.06 1712.17h0M1564.93 1711.81h0M1568.52 1711.43h0M1563.86 1709.71h0M1566.04 1710.54h0M1565.86 1709.03h0M1566.75 1710.27h0M1570.8 1708.94h0M1560.69 1710.6h0M1562.88 1710.36h0M1569.57 1710.08h0M1565.9 1709h0M1567.51 1706.1h0M1565.77 1707.46h0M1561.96 1707.88h0M1565.84 1707.75h0M1567.21 1707.39h0M1564.41 1706.74h0M1565.72 1707.9h0M1566.42 1705.76h0M1566.29 1706.41h0M1563.27 1707.82h0M1565.52 1707.61h0M1564.65 1706.99h0M1562.87 1705.81h0M1563.53 1706.18h0M1566.11 1706.04h0M1568.96 1705.16h0M1565.76 1705.06h0M1564.52 1705.11h0M1564.22 1703.93h0M1566.72 1703.48h0M1566.71 1705.16h0M1568.06 1705.6h0M1563.76 1703.96h0M1569.31 1704.61h0M1567.2 1705.55h0M1571.61 1703.28h0M1563.24 1704.91h0M1563.49 1704.9h0M1568.02 1703.04h0M1570.61 1701.59h0M1566.38 1703.09h0M1564.43 1702.5h0M1570.86 1702.77h0M1570.92 1703.07h0M1565.08 1702.94h0M1568.01 1702.36h0M1565.79 1701.1h0M1565.8 1703.05h0M1566.43 1701h0M1566.67 1702.14h0M1567.9 1702.09h0M1566.36 1701.76h0M1568.66 1702.57h0M1568.41 1701.02h0M1567.66 1702.3h0M1565.49 1701.98h0M1566.87 1701.45h0M1562.7 1699.24h0M1565.28 1700.67h0M1566.9 1699.2h0M1566.6 1698.59h0M1564.43 1699.48h0M1568.43 1699.98h0M1564.52 1700.59h0M1563.53 1699.71h0M1566.95 1700.15h0M1567.22 1699.58h0M1562.64 1700.11h0M1567.48 1699.93h0M1566.13 1699.26h0M1568.64 1698.56h0M1566.84 1700.44h0M1564.19 1700.11h0M1567.22 1700.67h0M1563.26 1699.71h0M1565.38 1696.85h0M1567.11 1697.1h0M1565.02 1697.3h0M1566.26 1698.26h0M1566.15 1698h0M1566.07 1698.25h0M1564 1697.21h0M1569.25 1697.43h0M1565.43 1697.24h0M1566.64 1696.1h0M1567.14 1697.32h0M1563.71 1697.61h0M1566.37 1696.93h0M1563.41 1696.77h0M1565.09 1696h0M1564.37 1693.92h0M1565.49 1694.58h0M1567.77 1694.42h0M1563.95 1693.65h0M1563.41 1695.11h0M1566.01 1695.41h0M1567.35 1694.71h0M1567.5 1695.59h0M1567.81 1694.59h0M1563.58 1693.56h0M1569.55 1695.26h0M1563.27 1693.88h0M1566.84 1694.68h0M1563.74 1693.78h0M1564.02 1695.44h0M1565.66 1694.75h0M1564.73 1694.18h0M1567.11 1695.89h0M1565.93 1691.5h0M1565.97 1692.37h0M1565.95 1693.22h0M1567.42 1691.9h0M1567.33 1691.6h0M1565.39 1691.48h0M1567.58 1692.06h0M1565.59 1692.78h0M1568.37 1691.69h0M1566.93 1691.96h0M1566.27 1692.6h0M1565.99 1691.83h0M1564.11 1692.07h0M1565.4 1693.18h0M1567.81 1688.88h0M1566.82 1688.81h0M1568.23 1688.81h0M1565.33 1688.8h0M1566.13 1690.6h0M1564.79 1688.94h0M1568.22 1689.12h0M1563.8 1689.5h0M1563.84 1688.68h0M1564.1 1690.49h0M1563.63 1689.85h0M1571.24 1689.76h0M1567.72 1690.41h0M1566.95 1690.4h0M1568.11 1689.89h0M1568.16 1687.4h0M1567.2 1687.84h0M1565.07 1687.28h0M1564.05 1687.38h0M1565 1687.93h0M1565.29 1687.06h0M1564.61 1687.56h0M1566.87 1688.03h0M1569.23 1687.27h0M1569.32 1686.5h0M1563.6 1687.81h0M1567.26 1686.95h0M1564.39 1686.54h0M1572.1 1685.22h0M1567.51 1685.01h0M1564.12 1684.19h0M1565.14 1684.66h0M1566.54 1685.42h0M1567.46 1684.56h0M1564.98 1685.79h0M1569.04 1684.95h0M1568.44 1684.07h0M1566.16 1683.64h0M1568.28 1684.49h0M1565.18 1683.26h0M1566.42 1683.15h0M1562.79 1682.09h0M1567.48 1682.59h0M1563.93 1679.91h0M1566.5 1680.29h0M1563.55 1680.9h0M1568.46 1679.45h0M1564.47 1677.72h0M1565.17 1676.93h0M1563.1 1676.5h0M1566.7 1676.86h0M1565.59 1677.81h0M1569.1 1676.58h0M1561.69 1677.25h0M1566.88 1674.6h0M1566.19 1672.63h0M1566.32 1669.46h0M1566.6 1666.71h0M1569.08 1668.04h0M1568.11 1659.88h0M1731.24 1635.98h0M1733.26 1635.18h0M1729.63 1634.47h0M1728.7 1630.03h0M1729.72 1630.32h0M1729.29 1629.34h0M1733.78 1627.87h0M1732.2 1628.44h0M1730.73 1629.57h0M1732.39 1628.17h0M1732.07 1628.73h0M1734.74 1629.06h0M1727.06 1627.48h0M1731.09 1628.48h0M1731.1 1625.97h0M1732.36 1627.14h0M1729.94 1627.09h0M1736.04 1626.93h0M1731.64 1625.56h0M1732.12 1624.78h0M1731.35 1627.11h0M1729.87 1625.07h0M1728.93 1626.93h0M1732.09 1625.08h0M1732.18 1625.65h0M1729.71 1623.91h0M1731.6 1622.49h0M1729.88 1624.42h0M1732.17 1623.13h0M1731.8 1622.95h0M1732.08 1624.05h0M1730.51 1623.78h0M1730.87 1623.87h0M1731.39 1620.91h0M1728.96 1622.04h0M1732.07 1621h0M1735.02 1620.26h0M1730.15 1621.38h0M1735.62 1621.72h0M1729.71 1620.8h0M1731.72 1620.32h0M1729.35 1622.01h0M1730.16 1621.68h0M1733.08 1622.05h0M1733.72 1621.56h0M1731.95 1621.33h0M1730.3 1621.16h0M1728.52 1620.55h0M1729.88 1617.74h0M1731.69 1617.39h0M1730.65 1617.41h0M1733.56 1619.5h0M1729.29 1619.78h0M1728.48 1619.5h0M1733.27 1617.73h0M1734.61 1619.73h0M1731 1619.61h0M1730.79 1619.56h0M1730.83 1618.54h0M1728.77 1617.63h0M1728.63 1619.5h0M1730.25 1618.42h0M1728.03 1617.66h0M1732.47 1618.46h0M1732.04 1618.02h0M1735.93 1619.08h0M1733.35 1617.48h0M1733.66 1616.35h0M1735.09 1617.18h0M1728.1 1615.31h0M1731.58 1616.37h0M1730.96 1615.96h0M1732.52 1616.04h0M1735.21 1616.12h0M1730.19 1617.1h0M1731.14 1617.26h0M1729.26 1616.87h0M1736.14 1614.98h0M1734.11 1615.59h0M1730.63 1617.29h0M1731.85 1612.6h0M1727.58 1614.49h0M1734.62 1613.55h0M1728.72 1612.8h0M1728.71 1612.86h0M1731.85 1614.53h0M1729.94 1614.77h0M1731.97 1614.25h0M1733.21 1613.88h0M1732.02 1612.86h0M1733.33 1612.68h0M1730.04 1612.93h0M1732.09 1614.61h0M1733.97 1612.52h0M1731.52 1612.53h0M1732.02 1612.78h0M1729.83 1612.62h0M1733.78 1613.51h0M1729.72 1614.06h0M1733.92 1614.8h0M1730.88 1614.54h0M1733.6 1613.35h0M1727.67 1610.89h0M1737.82 1611.33h0M1734.69 1611.33h0M1731.27 1610.12h0M1732.85 1610.43h0M1733.72 1611.76h0M1733.18 1611.39h0M1732.47 1610.63h0M1732.43 1611.29h0M1731.56 1611.89h0M1727.51 1610.63h0M1733.29 1612.25h0M1726.94 1612.2h0M1731.5 1610.61h0M1729.03 1610.02h0M1732.87 1611.09h0M1730.07 1610.05h0M1728.56 1610.19h0M1731.31 1611.82h0M1726.59 1611.73h0M1733.16 1610.59h0M1729.47 1610.12h0M1728.06 1611.68h0M1730.89 1611.79h0M1734.63 1610.87h0M1731.09 1611.44h0M1734.86 1610.6h0M1726.5 1611.66h0M1735.15 1610.72h0M1733.06 1609.99h0M1728.68 1610.33h0M1733.39 1607.74h0M1729.44 1608.43h0M1729.63 1608.12h0M1730.7 1607.59h0M1727.37 1609.53h0M1731.12 1607.6h0M1731.27 1609.84h0M1731.57 1609.41h0M1732.55 1607.84h0M1732.12 1607.64h0M1733.27 1607.84h0M1736.67 1608.52h0M1728.9 1608.88h0M1731.63 1609.74h0M1732.82 1608.42h0M1731.28 1607.52h0M1733.52 1607.97h0M1729.99 1609.73h0M1731.06 1606.36h0M1731.53 1605.62h0M1732.23 1605.36h0M1731.17 1605.06h0M1729.02 1606.06h0M1734.19 1606.6h0M1732.35 1605.81h0M1729.12 1606.1h0M1730.66 1603.9h0M1732.49 1604.83h0M1735.87 1603h0M1729.58 1604.13h0M1731.97 1603.89h0M1731 1604.98h0M1727.99 1604.46h0M1728.26 1603.7h0M1732.35 1602.95h0M1730.48 1604.86h0M1734.85 1603.94h0M1732.69 1604.67h0M1728.12 1603.83h0M1734.62 1603.13h0M1729.9 1604.17h0M1734.32 1604.06h0M1732.1 1604.42h0M1732.84 1603.4h0M1728.32 1600.84h0M1732.07 1601.22h0M1731.55 1601.39h0M1730.41 1601.59h0M1734.07 1601.16h0M1731.11 1601.92h0M1730.18 1600.67h0M1732.37 1602.5h0M1731.09 1599.64h0M1731.64 1600.11h0M1731.26 1600.04h0M1729.3 1599.42h0M1727.7 1600.04h0M1732.04 1599.86h0M1729.16 1597.82h0M1728.57 1598.46h0M1732.4 1598.36h0M1733.22 1597.3h0M1732.17 1597.47h0M1735.17 1595.53h0M1726.12 1597h0M1730.42 1593.93h0M1728.93 1593.39h0" stroke="#000080" stroke-width="2.0" stroke-linecap="round" fill="none" opacity="0.6"/>
<path d="M1369.55 1711.81L1566.26 1665.17L1731.15 1612.38" stroke="#ff1a1a" stroke-width="2.3" fill="none"/>
<circle cx="1369.55" cy="1711.81" r="3" fill="#ff1a1a"/>
<circle cx="1566.26" cy="1665.17" r="3" fill="#ff1a1a"/>
<circle cx="1731.15" cy="1612.38" r="3" fill="#ff1a1a"/>
<path d="M1366.96 1803.88L1566.26 1697.08L1731.15 1612.38" stroke="#14148c" stroke-width="2.3" fill="none"/>
<circle cx="1366.96" cy="1803.88" r="3" fill="#14148c"/>
<circle cx="1566.26" cy="1697.08" r="3" fill="#14148c"/>
<circle cx="1731.15" cy="1612.38" r="3" fill="#14148c"/>
<rect x="1112.3" y="1803.4" width="225.7" height="171.8" fill="#fff" stroke="none"/>
<path d="M1145.52 1975.2H1150.04V1963.93H1145.52ZM1150.04 1975.2H1154.57V1961.2H1150.04ZM1154.57 1975.2H1159.09V1941.09H1154.57ZM1159.09 1975.2H1163.62V1935.2H1159.09ZM1163.62 1975.2H1168.14V1938.08H1163.62ZM1168.14 1975.2H1172.67V1949.57H1168.14ZM1172.67 1975.2H1177.2V1920.98H1172.67ZM1177.2 1975.2H1181.72V1918.1H1177.2ZM1181.72 1975.2H1186.25V1915.09H1181.72ZM1186.25 1975.2H1190.77V1946.56H1186.25ZM1190.77 1975.2H1195.3V1926.45H1190.77ZM1195.3 1975.2H1199.82V1932.19H1195.3ZM1199.82 1975.2H1204.35V1961.2H1199.82ZM1204.35 1975.2H1208.87V1952.71H1204.35ZM1208.87 1975.2H1213.4V1955.18H1208.87ZM1213.4 1975.2H1217.92V1958.19H1213.4ZM1222.45 1975.2H1226.98V1969.81H1222.45Z" fill="#000080" fill-opacity="0.7"/>
<path d="M1217.92 1975.2H1222.45V1966.81H1217.92ZM1226.98 1975.2H1231.5V1969.81H1226.98ZM1231.5 1975.2H1236.03V1955.18H1231.5ZM1236.03 1975.2H1240.55V1963.93H1236.03ZM1240.55 1975.2H1245.08V1949.57H1240.55ZM1245.08 1975.2H1249.6V1920.98H1245.08ZM1249.6 1975.2H1254.13V1929.46H1249.6ZM1254.13 1975.2H1258.65V1923.71H1254.13ZM1258.65 1975.2H1263.18V1932.19H1258.65ZM1263.18 1975.2H1267.7V1912.36H1263.18ZM1267.7 1975.2H1272.23V1903.88H1267.7ZM1272.23 1975.2H1276.76V1932.19H1272.23ZM1276.76 1975.2H1281.28V1941.09H1276.76ZM1281.28 1975.2H1285.81V1952.71H1281.28ZM1285.81 1975.2H1290.33V1938.08H1285.81ZM1290.33 1975.2H1294.86V1961.2H1290.33ZM1294.86 1975.2H1299.38V1958.19H1294.86ZM1303.91 1975.2H1308.43V1972.55H1303.91Z" fill="#ff0000" fill-opacity="0.7"/>
<rect x="1112.3" y="1803.4" width="225.7" height="171.8" fill="none" stroke="#000" stroke-width="1.3"/>
<text id="f1_s1_i0_t1" x="1332" y="1828.4" font-size="18.5" text-anchor="end" font-family="'Liberation Serif', 'DejaVu Serif', serif" transform="matrix(1.02110 0 0 0.98667 -27.985 25.000)">−0.215<tspan font-size="21.27" dy="1.3" dx="2.77">±</tspan><tspan font-size="18.5" dy="-1.3" dx="2.59">0.015</tspan></text>
<text id="f1_s1_i0_t2" x="1124.3" y="1855" font-size="18.5" text-anchor="start" font-family="'Liberation Serif', 'DejaVu Serif', serif" transform="matrix(1.01743 0 0 1.03571 -20.110 -66.086)">−0.290<tspan font-size="21.27" dy="1.3" dx="2.77">±</tspan><tspan font-size="18.5" dy="-1.3" dx="2.59">0.018</tspan></text>
<text id="f1_s1_i0_xt0" x="0" y="0" font-size="17.1" text-anchor="middle" font-family="'Liberation Serif', 'DejaVu Serif', serif" transform="matrix(1.0 0 0 1 1112.3 1992.8)">−0.35</text>
<text id="f1_s1_i0_xt1" x="0" y="0" font-size="17.1" text-anchor="middle" font-family="'Liberation Serif', 'DejaVu Serif', serif" transform="matrix(1.0 0 0 1 1168.72 1992.8)">−0.30</text>
<text id="f1_s1_i0_xt2" x="0" y="0" font-size="17.1" text-anchor="middle" font-family="'Liberation Serif', 'DejaVu Serif', serif" transform="matrix(1.0 0 0 1 1225.15 1992.8)">−0.25</text>
<text id="f1_s1_i0_xt3" x="0" y="0" font-size="17.1" text-anchor="middle" font-family="'Liberation Serif', 'DejaVu Serif', serif" transform="matrix(1.0 0 0 1 1281.58 1992.8)">−0.20</text>
<text id="f1_s1_i0_xt4" x="0" y="0" font-size="17.1" text-anchor="middle" font-family="'Liberation Serif', 'DejaVu Serif', serif" transform="matrix(1.0 0 0 1 1338 1992.8)">−0.15</text>
<rect x="1377.4" y="1803.4" width="225.7" height="171.8" fill="#fff" stroke="none"/>
<path d="M1405.46 1975.2H1411.11V1952.71H1405.46ZM1411.11 1975.2H1416.76V1963.93H1411.11ZM1416.76 1975.2H1422.41V1961.2H1416.76ZM1422.41 1975.2H1428.06V1949.57H1422.41ZM1428.06 1975.2H1433.71V1932.19H1428.06ZM1433.71 1975.2H1439.36V1938.08H1433.71ZM1439.36 1975.2H1445.01V1923.71H1439.36ZM1445.01 1975.2H1450.66V1926.45H1445.01ZM1450.66 1975.2H1456.31V1932.19H1450.66ZM1456.31 1975.2H1461.96V1926.45H1456.31ZM1461.96 1975.2H1467.61V1935.2H1461.96ZM1467.61 1975.2H1473.26V1932.19H1467.61ZM1473.26 1975.2H1478.91V1938.08H1473.26ZM1478.91 1975.2H1484.56V1943.82H1478.91ZM1484.56 1975.2H1490.21V1963.93H1484.56ZM1490.21 1975.2H1495.86V1963.93H1490.21ZM1495.86 1975.2H1501.51V1955.18H1495.86ZM1501.51 1975.2H1507.16V1972.55H1501.51ZM1507.16 1975.2H1512.81V1972.55H1507.16ZM1512.81 1975.2H1518.46V1972.55H1512.81ZM1518.46 1975.2H1524.11V1969.81H1518.46ZM1535.41 1975.2H1541.06V1972.55H1535.41Z" fill="#000080" fill-opacity="0.7"/>
<path d="M1461.96 1975.2H1467.61V1972.55H1461.96ZM1467.61 1975.2H1473.26V1972.55H1467.61ZM1473.26 1975.2H1478.91V1972.55H1473.26ZM1484.56 1975.2H1490.21V1963.93H1484.56ZM1490.21 1975.2H1495.86V1949.57H1490.21ZM1495.86 1975.2H1501.51V1946.56H1495.86ZM1501.51 1975.2H1507.16V1929.46H1501.51ZM1507.16 1975.2H1512.81V1926.45H1507.16ZM1512.81 1975.2H1518.46V1932.19H1512.81ZM1518.46 1975.2H1524.11V1938.08H1518.46ZM1524.11 1975.2H1529.76V1923.71H1524.11ZM1529.76 1975.2H1535.41V1920.98H1529.76ZM1535.41 1975.2H1541.06V1918.1H1535.41ZM1541.06 1975.2H1546.71V1923.71H1541.06ZM1546.71 1975.2H1552.36V1946.56H1546.71ZM1552.36 1975.2H1558.01V1949.57H1552.36ZM1558.01 1975.2H1563.66V1946.56H1558.01ZM1563.66 1975.2H1569.31V1955.18H1563.66ZM1569.31 1975.2H1574.96V1969.81H1569.31Z" fill="#ff0000" fill-opacity="0.7"/>
<rect x="1377.4" y="1803.4" width="225.7" height="171.8" fill="none" stroke="#000" stroke-width="1.3"/>
<text id="f1_s1_i1_t1" x="1597.1" y="1828.4" font-size="18.5" text-anchor="end" font-family="'Liberation Serif', 'DejaVu Serif', serif" transform="matrix(1.02110 0 0 0.98667 -33.477 25.000)">−0.177<tspan font-size="21.27" dy="1.3" dx="2.77">±</tspan><tspan font-size="18.5" dy="-1.3" dx="2.59">0.008</tspan></text>
<text id="f1_s1_i1_t2" x="1389.4" y="1855" font-size="18.5" text-anchor="start" font-family="'Liberation Serif', 'DejaVu Serif', serif" transform="matrix(1.01743 0 0 1.03571 -24.629 -66.086)">−0.203<tspan font-size="21.27" dy="1.3" dx="2.77">±</tspan><tspan font-size="18.5" dy="-1.3" dx="2.59">0.010</tspan></text>
<text id="f1_s1_i1_xt0" x="0" y="0" font-size="17.1" text-anchor="middle" font-family="'Liberation Serif', 'DejaVu Serif', serif" transform="matrix(1.0 0 0 1 1377.4 1992.8)">−0.23</text>
<text id="f1_s1_i1_xt1" x="0" y="0" font-size="17.1" text-anchor="middle" font-family="'Liberation Serif', 'DejaVu Serif', serif" transform="matrix(1.0 0 0 1 1433.82 1992.8)">−0.21</text>
<text id="f1_s1_i1_xt2" x="0" y="0" font-size="17.1" text-anchor="middle" font-family="'Liberation Serif', 'DejaVu Serif', serif" transform="matrix(1.0 0 0 1 1490.25 1992.8)">−0.19</text>
<text id="f1_s1_i1_xt3" x="0" y="0" font-size="17.1" text-anchor="middle" font-family="'Liberation Serif', 'DejaVu Serif', serif" transform="matrix(1.0 0 0 1 1546.67 1992.8)">−0.17</text>
<text id="f1_s1_i1_xt4" x="0" y="0" font-size="17.1" text-anchor="middle" font-family="'Liberation Serif', 'DejaVu Serif', serif" transform="matrix(1.0 0 0 1 1603.1 1992.8)">−0.15</text>
<rect x="1642.9" y="1803.4" width="225.7" height="171.8" fill="#fff" stroke="none"/>
<path d="M1715.97 1975.2H1721.63V1970.23H1715.97ZM1721.63 1975.2H1727.29V1973.51H1721.63ZM1727.29 1975.2H1732.95V1970.5H1727.29ZM1732.95 1975.2H1738.61V1953.4H1732.95ZM1738.61 1975.2H1744.26V1948.2H1738.61ZM1744.26 1975.2H1749.92V1955.72H1744.26ZM1749.92 1975.2H1755.58V1938.35H1749.92ZM1755.58 1975.2H1761.24V1928.36H1755.58ZM1761.24 1975.2H1766.9V1943.41H1761.24ZM1766.9 1975.2H1772.56V1921.25H1766.9ZM1772.56 1975.2H1778.22V1899.09H1772.56ZM1778.22 1975.2H1783.88V1930.83H1778.22ZM1783.88 1975.2H1789.54V1955.72H1783.88ZM1789.54 1975.2H1795.2V1930.83H1789.54ZM1795.2 1975.2H1800.86V1955.72H1795.2ZM1800.86 1975.2H1806.52V1953.4H1800.86ZM1806.52 1975.2H1812.18V1965.71H1806.52ZM1812.18 1975.2H1817.84V1970.5H1812.18Z" fill="#000080" fill-opacity="0.7"/>
<path d="M1710.31 1975.2H1715.97V1973.23H1710.31ZM1715.97 1975.2H1721.63V1973.51H1715.97ZM1721.63 1975.2H1727.29V1965.71H1721.63ZM1727.29 1975.2H1732.95V1962.97H1727.29ZM1732.95 1975.2H1738.61V1958.19H1732.95ZM1738.61 1975.2H1744.26V1956.13H1738.61ZM1744.26 1975.2H1749.92V1955.72H1744.26ZM1749.92 1975.2H1755.58V1955.72H1749.92ZM1755.58 1975.2H1761.24V1913.73H1755.58ZM1761.24 1975.2H1766.9V1923.71H1761.24ZM1766.9 1975.2H1772.56V1933.15H1766.9ZM1772.56 1975.2H1778.22V1913.73H1772.56ZM1778.22 1975.2H1783.88V1926.45H1778.22ZM1783.88 1975.2H1789.54V1941.09H1783.88ZM1789.54 1975.2H1795.2V1941.09H1789.54ZM1795.2 1975.2H1800.86V1957.91H1795.2ZM1800.86 1975.2H1806.52V1955.72H1800.86ZM1806.52 1975.2H1812.18V1962.97H1806.52ZM1812.18 1975.2H1817.84V1968.45H1812.18Z" fill="#ff0000" fill-opacity="0.7"/>
<rect x="1642.9" y="1803.4" width="225.7" height="171.8" fill="none" stroke="#000" stroke-width="1.3"/>
<text id="f1_s1_i2_t1" x="1862.6" y="1828.4" font-size="18.5" text-anchor="end" font-family="'Liberation Serif', 'DejaVu Serif', serif" transform="matrix(1.02110 0 0 0.98667 -39.590 25.000)">−0.134<tspan font-size="21.27" dy="1.3" dx="2.77">±</tspan><tspan font-size="18.5" dy="-1.3" dx="2.59">0.007</tspan></text>
<text id="f1_s1_i2_t2" x="1654.9" y="1855" font-size="18.5" text-anchor="start" font-family="'Liberation Serif', 'DejaVu Serif', serif" transform="matrix(1.01743 0 0 1.03571 -29.766 -66.086)">−0.134<tspan font-size="21.27" dy="1.3" dx="2.77">±</tspan><tspan font-size="18.5" dy="-1.3" dx="2.59">0.007</tspan></text>
<text id="f1_s1_i2_xt0" x="0" y="0" font-size="17.1" text-anchor="middle" font-family="'Liberation Serif', 'DejaVu Serif', serif" transform="matrix(1.0 0 0 1 1642.9 1992.8)">−0.18</text>
<text id="f1_s1_i2_xt1" x="0" y="0" font-size="17.1" text-anchor="middle" font-family="'Liberation Serif', 'DejaVu Serif', serif" transform="matrix(1.0 0 0 1 1699.32 1992.8)">−0.16</text>
<text id="f1_s1_i2_xt2" x="0" y="0" font-size="17.1" text-anchor="middle" font-family="'Liberation Serif', 'DejaVu Serif', serif" transform="matrix(1.0 0 0 1 1755.75 1992.8)">−0.14</text>
<text id="f1_s1_i2_xt3" x="0" y="0" font-size="17.1" text-anchor="middle" font-family="'Liberation Serif', 'DejaVu Serif', serif" transform="matrix(1.0 0 0 1 1812.17 1992.8)">−0.12</text>
<text id="f1_s1_i2_xt4" x="0" y="0" font-size="17.1" text-anchor="middle" font-family="'Liberation Serif', 'DejaVu Serif', serif" transform="matrix(1.0 0 0 1 1868.6 1992.8)">−0.10</text>
<rect x="1086.6" y="1386.5" width="807.5" height="613.8" fill="none" stroke="#000" stroke-width="1.3"/>
<path d="M1167.35 1996.8V2003.8M1167.35 1383V1390M1248.1 1996.8V2003.8M1248.1 1383V1390M1328.85 1996.8V2003.8M1328.85 1383V1390M1409.6 1996.8V2003.8M1409.6 1383V1390M1490.35 1996.8V2003.8M1490.35 1383V1390M1571.1 1996.8V2003.8M1571.1 1383V1390M1651.85 1996.8V2003.8M1651.85 1383V1390M1732.6 1996.8V2003.8M1732.6 1383V1390M1813.35 1996.8V2003.8M1813.35 1383V1390M1083.1 2000.3H1090.1M1890.6 2000.3H1897.6M1083.1 1938.92H1090.1M1890.6 1938.92H1897.6M1083.1 1877.54H1090.1M1890.6 1877.54H1897.6M1083.1 1816.16H1090.1M1890.6 1816.16H1897.6M1083.1 1754.78H1090.1M1890.6 1754.78H1897.6M1083.1 1693.4H1090.1M1890.6 1693.4H1897.6M1083.1 1632.02H1090.1M1890.6 1632.02H1897.6M1083.1 1570.64H1090.1M1890.6 1570.64H1897.6M1083.1 1509.26H1090.1M1890.6 1509.26H1897.6M1083.1 1447.88H1090.1M1890.6 1447.88H1897.6" stroke="#000" stroke-width="2.0" fill="none"/>
<text id="f1_s1_A_yt0" x="0" y="0" font-size="26.4" text-anchor="end" font-family="'Liberation Serif', 'DejaVu Serif', serif" transform="matrix(1.0 0 0 1 1082.2 2008.9)">−0.45</text>
<text id="f1_s1_A_yt1" x="0" y="0" font-size="26.4" text-anchor="end" font-family="'Liberation Serif', 'DejaVu Serif', serif" transform="matrix(1.0 0 0 1 1082.2 1947.52)">−0.40</text>
<text id="f1_s1_A_yt2" x="0" y="0" font-size="26.4" text-anchor="end" font-family="'Liberation Serif', 'DejaVu Serif', serif" transform="matrix(1.0 0 0 1 1082.2 1886.14)">−0.35</text>
<text id="f1_s1_A_yt3" x="0" y="0" font-size="26.4" text-anchor="end" font-family="'Liberation Serif', 'DejaVu Serif', serif" transform="matrix(1.0 0 0 1 1082.2 1824.76)">−0.30</text>
<text id="f1_s1_A_yt4" x="0" y="0" font-size="26.4" text-anchor="end" font-family="'Liberation Serif', 'DejaVu Serif', serif" transform="matrix(1.0 0 0 1 1082.2 1763.38)">−0.25</text>
<text id="f1_s1_A_yt5" x="0" y="0" font-size="26.4" text-anchor="end" font-family="'Liberation Serif', 'DejaVu Serif', serif" transform="matrix(1.0 0 0 1 1082.2 1702)">−0.20</text>
<text id="f1_s1_A_yt6" x="0" y="0" font-size="26.4" text-anchor="end" font-family="'Liberation Serif', 'DejaVu Serif', serif" transform="matrix(1.0 0 0 1 1082.2 1640.62)">−0.15</text>
<text id="f1_s1_A_yt7" x="0" y="0" font-size="26.4" text-anchor="end" font-family="'Liberation Serif', 'DejaVu Serif', serif" transform="matrix(1.0 0 0 1 1082.2 1579.24)">−0.10</text>
<text id="f1_s1_A_yt8" x="0" y="0" font-size="26.4" text-anchor="end" font-family="'Liberation Serif', 'DejaVu Serif', serif" transform="matrix(1.0 0 0 1 1082.2 1517.86)">−0.05</text>
<text id="f1_s1_A_yt9" x="0" y="0" font-size="26.4" text-anchor="end" font-family="'Liberation Serif', 'DejaVu Serif', serif" transform="matrix(1.0 0 0 1 1082.2 1456.48)">0.00</text>
<text id="f1_s1_A_xt0" x="0" y="0" font-size="26.4" text-anchor="middle" font-family="'Liberation Serif', 'DejaVu Serif', serif" transform="matrix(1.0 0 0 1 1167.35 2022.6)">−11.5</text>
<text id="f1_s1_A_xt1" x="0" y="0" font-size="26.4" text-anchor="middle" font-family="'Liberation Serif', 'DejaVu Serif', serif" transform="matrix(1.0 0 0 1 1248.1 2022.6)">−11.0</text>
<text id="f1_s1_A_xt2" x="0" y="0" font-size="26.4" text-anchor="middle" font-family="'Liberation Serif', 'DejaVu Serif', serif" transform="matrix(1.0 0 0 1 1328.85 2022.6)">−10.5</text>
<text id="f1_s1_A_xt3" x="0" y="0" font-size="26.4" text-anchor="middle" font-family="'Liberation Serif', 'DejaVu Serif', serif" transform="matrix(1.0 0 0 1 1409.6 2022.6)">−10.0</text>
<text id="f1_s1_A_xt4" x="0" y="0" font-size="26.4" text-anchor="middle" font-family="'Liberation Serif', 'DejaVu Serif', serif" transform="matrix(1.0 0 0 1 1490.35 2022.6)">−9.5</text>
<text id="f1_s1_A_xt5" x="0" y="0" font-size="26.4" text-anchor="middle" font-family="'Liberation Serif', 'DejaVu Serif', serif" transform="matrix(1.0 0 0 1 1571.1 2022.6)">−9.0</text>
<text id="f1_s1_A_xt6" x="0" y="0" font-size="26.4" text-anchor="middle" font-family="'Liberation Serif', 'DejaVu Serif', serif" transform="matrix(1.0 0 0 1 1651.85 2022.6)">−8.5</text>
<text id="f1_s1_A_xt7" x="0" y="0" font-size="26.4" text-anchor="middle" font-family="'Liberation Serif', 'DejaVu Serif', serif" transform="matrix(1.0 0 0 1 1732.6 2022.6)">−8.0</text>
<text id="f1_s1_A_xt8" x="0" y="0" font-size="26.4" text-anchor="middle" font-family="'Liberation Serif', 'DejaVu Serif', serif" transform="matrix(1.0 0 0 1 1813.35 2022.6)">−7.5</text>
<text id="f1_s1_dm0" x="1599" y="1461.6" font-size="55" font-family="'Liberation Serif', 'DejaVu Serif', serif" transform="matrix(1.02034 0 0 0.99778 -34.263 3.062)"><tspan font-style="italic">d</tspan><tspan font-style="italic" font-size="38.5" dy="6.7">M</tspan></text>
<text id="f1_s1_dm1" x="1671" y="1461.6" font-size="55" font-family="'Liberation Serif', 'DejaVu Serif', serif" transform="matrix(1.25200 0 0 1.17308 -424.048 -247.273)">&lt;</text>
<text id="f1_s1_dm2" x="1715" y="1461.6" font-size="55" font-family="'Liberation Serif', 'DejaVu Serif', serif" transform="matrix(1.00069 0 0 1.03958 -2.284 -59.246)">200 pc</text>
<text id="f1_s1_fm" x="1860.9" y="1517" font-size="31" text-anchor="end" font-family="'Liberation Serif', 'DejaVu Serif', serif" transform="matrix(1.05385 0 0 1.07619 -99.054 -115.581)">0.39</text>
<path d="M196.25 2069.8V2513.2M277 2069.8V2513.2M357.75 2069.8V2513.2M438.5 2069.8V2513.2M519.25 2069.8V2513.2M600 2069.8V2513.2M680.75 2069.8V2513.2M761.5 2069.8V2513.2M842.25 2069.8V2513.2M115.5 2513.2H923M115.5 2439.3H923M115.5 2365.4H923M115.5 2291.5H923M115.5 2217.6H923M115.5 2143.7H923M115.5 2069.8H923" stroke="#b4e6e6" stroke-width="1" stroke-dasharray="1.2 1.2" fill="none"/>
<path d="M115.5 2365.4H923" stroke="#000" stroke-width="2.4" stroke-dasharray="8.3 3.9" fill="none"/>
<path d="M399.6 2213.29h0M399.84 2142.35h0M404.14 2189.67h0M401.85 2276.88h0M406.15 2221.38h0M398.45 2181.73h0M399.09 2097.97h0M401.29 2224.52h0M398.67 2182.41h0M399.65 2236.83h0M398.21 2208.1h0M396.26 2249.8h0M402.62 2106.05h0M398.53 2137.76h0M395.5 2338.82h0M402.6 2305.25h0M399.08 2247.52h0M406.41 2305.66h0M400.13 2312.61h0M400.4 2240.61h0M402.1 2232.31h0M397.43 2199.82h0M406.17 2119.29h0M402.8 2258.18h0M397.57 2375.74h0M395.24 2144.77h0M404.72 2175.44h0M400.6 2315.26h0M409.07 2117.95h0M406.15 2212.55h0M398.9 2272.29h0M403.69 2186.24h0M405.07 2202.37h0M405.82 2156.84h0M401.67 2158.34h0M401.27 2198.12h0M405.35 2196.41h0M406.22 2137.61h0M404.71 2142.73h0M400.51 2259.83h0M399.17 2236.5h0M403.9 2371.76h0M398.97 2280.07h0M406.67 2258.99h0M406.4 2181.86h0M404.05 2212.29h0M400.92 2156.95h0M395.69 2200.88h0M401.65 2283.13h0M402.07 2368.42h0M399 2202.47h0M402.83 2162.57h0M401.88 2138.86h0M402.25 2173.68h0M401.1 2305.77h0M401.46 2225.48h0M403.81 2214.31h0M398.69 2221h0M394.16 2180.15h0M405.03 2313.53h0M401.91 2316.44h0M403.16 2291h0M404.37 2196.41h0M404.89 2182.81h0M406.01 2280.28h0M403.71 2248.71h0M404.74 2230.99h0M401.75 2190.18h0M400.95 2177.86h0M405.76 2217.32h0M401.45 2179.04h0M405.06 2242.9h0M400.88 2269.43h0M399.1 2293.74h0M402.25 2227.81h0M404.18 2220.9h0M407.93 2337.83h0M402.74 2178.66h0M404.34 2271.05h0M400.99 2265.52h0M402.97 2202.1h0M398.38 2181.58h0M405.59 2298.36h0M403.15 2162.79h0M402.98 2184.23h0M401.44 2335.23h0M401.71 2148.58h0M402.81 2162.64h0M398.96 2238.41h0M404.8 2217.64h0M404.41 2313.54h0M407.89 2334.21h0M401.99 2220.23h0M404.6 2239.37h0M406 2255.6h0M404.14 2262.6h0M400.53 2254.93h0M405.03 2193.78h0M403.85 2279.15h0M401.23 2174.25h0M401.86 2162.64h0M395.15 2231.62h0M401.7 2367.52h0M398.25 2163.85h0M406.55 2229.08h0M395.82 2154.72h0M400.5 2167.52h0M401.64 2177.72h0M407.93 2274.01h0M397.79 2381.01h0M400.73 2140.7h0M397.78 2198.89h0M398.46 2169.15h0M396.94 2300.23h0M400.49 2151.41h0M401.96 2178.57h0M396.86 2237.08h0M402.74 2205.98h0M398.74 2299.89h0M393.95 2282.08h0M402.6 2205.56h0M401.49 2230.65h0M404.64 2213.66h0M403.79 2170.99h0M402.32 2274.4h0M397.19 2225.87h0M395.33 2194.55h0M404.2 2297.74h0M394.69 2180.83h0M401.12 2199.88h0M397.03 2242.59h0M403.07 2244.59h0M403.53 2106.37h0M403.01 2281.07h0M400.14 2087.4h0M404.27 2306.25h0M400.95 2263.26h0M400.17 2201.21h0M402.91 2224.02h0M401.84 2174.89h0M401.88 2172.42h0M406.64 2264.93h0M402.55 2199.91h0M400.5 2152.44h0M395.34 2310.43h0M404.22 2248.3h0M402.74 2196.94h0M396.17 2253.75h0M394.8 2240.42h0M402.31 2281.94h0M395.92 2269.88h0M402.02 2196.13h0M394.54 2220.69h0M399.48 2185.35h0M403.86 2197.21h0M404.56 2201.51h0M399 2184.32h0M406.74 2266.68h0M399.75 2084.45h0M402.24 2205.88h0M395.88 2171.37h0M401.56 2168.79h0M399.9 2204.44h0M400.08 2124.26h0M406.36 2097.28h0M404.44 2247.34h0M400.39 2147.33h0M400.45 2354.32h0M408.77 2188.65h0M404.62 2124.79h0M404.52 2190.73h0M398.84 2264.12h0M397.75 2295.05h0M407.94 2220.02h0M402.35 2301.82h0M395.38 2208.71h0M394.4 2222.29h0M404.07 2140.11h0M399.91 2264.23h0M399.01 2249.06h0M397.48 2167.09h0M397.22 2239.83h0M401.57 2141.67h0M398.39 2147.89h0M402.91 2388.45h0M403.85 2195.68h0M403.14 2221.85h0M399.19 2163.16h0M403.03 2363.33h0M399.43 2209.87h0M406.44 2303.29h0M401.26 2211.76h0M398.41 2281.79h0M396.62 2208.11h0M399.34 2143.31h0M401.27 2139.17h0M407.35 2274.63h0M399.15 2226.43h0M598.64 2273.3h0M590.92 2305.8h0M600.29 2368.03h0M598.91 2325.61h0M598.18 2338.42h0M596.56 2370.43h0M598.02 2255.86h0M596.94 2320.63h0M603.39 2307.54h0M598.74 2301.49h0M599.1 2324.75h0M594.97 2291.06h0M596.5 2367.03h0M595.34 2266.07h0M601.02 2320.93h0M591.05 2312.18h0M597.5 2249.21h0M596.41 2326.58h0M595.58 2289.62h0M598.71 2244.49h0M598.23 2285.37h0M597.88 2327.43h0M595.72 2244.68h0M598.44 2312.57h0M600.09 2334.35h0M598.57 2351.15h0M596.26 2343.12h0M605.8 2318.56h0M600.55 2327.84h0M594.9 2292.95h0M597.15 2275.31h0M591.63 2364.73h0M597.8 2302.45h0M597.45 2363.95h0M598.76 2319.41h0M597.4 2333.51h0M598.99 2313.23h0M603.72 2271.66h0M597.96 2362.04h0M593.41 2341.38h0M595.18 2372.37h0M596.13 2309.49h0M597.51 2303.64h0M597.03 2295.65h0M597.4 2301.18h0M592.53 2328.97h0M598.12 2364.96h0M599 2348.95h0M594.12 2331.57h0M597.04 2323.9h0M595.21 2254.9h0M597.74 2333.49h0M596.25 2280.72h0M598.31 2333.29h0M598.11 2303.56h0M598.79 2361.21h0M600.2 2310.37h0M598.15 2321.05h0M603.59 2321.25h0M593.71 2364.16h0M587.26 2340.77h0M601.91 2331.93h0M600.18 2287.34h0M594.77 2317.38h0M592.68 2318.38h0M600.31 2373.03h0M601.2 2313.35h0M597.12 2360.75h0M601.81 2364.76h0M593.58 2308.98h0M600.87 2347.17h0M596.11 2349.86h0M593.62 2312.41h0M602.67 2259.94h0M597.46 2331.17h0M598.86 2286.62h0M593.28 2286.4h0M592.47 2310.2h0M598.54 2315.24h0M590.29 2282.02h0M592.51 2302.29h0M598.26 2294.04h0M600.06 2303.98h0M594.56 2300.97h0M598.15 2322.02h0M596.27 2367.49h0M593.68 2297.52h0M600.53 2267.83h0M596.73 2291.68h0M598.91 2322.02h0M600.07 2293.87h0M598.97 2334.21h0M594.02 2271.52h0M597.13 2305.55h0M600.05 2316.95h0M599.27 2316.31h0M599.4 2296h0M594.96 2318.72h0M597.16 2288.1h0M595.49 2282.03h0M599.21 2329.56h0M596.61 2305.36h0M596.47 2287.19h0M598.66 2303.92h0M600.07 2347.2h0M596.23 2309.92h0M595.13 2311.62h0M597.27 2371.64h0M602.14 2324.4h0M595.62 2259.11h0M600.52 2297.77h0M596.72 2295.97h0M594.08 2319.6h0M599.08 2279.32h0M597.19 2302.89h0M598.58 2250.16h0M593.51 2262.8h0M594.72 2337.27h0M596.13 2283.84h0M597.58 2263.74h0M596.22 2274.7h0M596.33 2277.78h0M594.25 2309.69h0M593.76 2367.49h0M598.12 2297.87h0M593.68 2361.44h0M599 2354.18h0M594.15 2337.15h0M595.42 2292.26h0M599.55 2290.63h0M592.06 2326.96h0M603.83 2317.29h0M601.31 2344.16h0M594.28 2329.68h0M595.91 2259.06h0M593.1 2379.97h0M595.43 2336.76h0M600.09 2266.19h0M598.55 2308.5h0M592.1 2324.33h0M596.52 2307.67h0M598.18 2277.43h0M595.97 2269.71h0M595.82 2320.43h0M600.51 2336.65h0M593.54 2302.82h0M602.99 2328.9h0M601.48 2230h0M602.09 2303.89h0M593.63 2309.95h0M593.88 2305.7h0M604.14 2315.48h0M597.87 2290.35h0M595.86 2280.92h0M594.19 2299.53h0M595.71 2354.18h0M590.3 2349h0M593.93 2326.27h0M601.55 2339.86h0M600.13 2288.14h0M593.94 2316.26h0M602.6 2339.75h0M595.54 2404.13h0M592.49 2302.47h0M594.58 2274.29h0M601.92 2309.74h0M596.47 2279.73h0M601.69 2312.77h0M598.79 2244.35h0M595.76 2370.9h0M594.97 2272.27h0M594.25 2317.8h0M600.31 2321.84h0M593.97 2284.06h0M592.88 2264.19h0M600.09 2274.49h0M591.63 2350.95h0M599.41 2272.18h0M595 2298.68h0M592.79 2293.04h0M604.53 2279.63h0M600.62 2312.79h0M598.39 2335.46h0M598.78 2312.91h0M592.09 2316.39h0M593.79 2270.41h0M593.62 2268.96h0M598.52 2279.68h0M600.36 2324.23h0M602.28 2298.07h0M601.15 2283.87h0M601.62 2376.38h0M596.62 2314.96h0M595.06 2351.31h0M597.54 2317.04h0M596.11 2304.97h0M599.97 2301.89h0M595.24 2324.18h0M598.64 2270.93h0M599.39 2339.71h0M767.93 2353.4h0M763.66 2340.86h0M758.22 2367.02h0M760.35 2367.36h0M764.69 2372.68h0M766.48 2392.88h0M756.75 2391.91h0M760.39 2339.5h0M762.4 2384.26h0M761.49 2378.39h0M761.56 2375.36h0M763.22 2387.84h0M761.35 2377.1h0M762.52 2424.65h0M760.31 2382h0M759.15 2376.02h0M763.77 2393.86h0M760.2 2380.38h0M758.55 2376.87h0M758.67 2338.48h0M758.26 2358.9h0M756.12 2407.84h0M754.57 2355.56h0M758.68 2415.24h0M758.35 2353.88h0M760.05 2340.81h0M765.35 2376.02h0M759.26 2356.31h0M763.12 2384.54h0M759.74 2332.6h0M763.95 2373.85h0M761.96 2388.23h0M760.18 2362.37h0M753.37 2393.88h0M756.81 2374.2h0M758.92 2362.56h0M765.05 2381.01h0M757.67 2351.13h0M759.48 2346.69h0M761.05 2404.47h0M763.63 2369.22h0M764.02 2342.03h0M760.45 2387.73h0M761.62 2416.79h0M754 2374.97h0M762.03 2352.65h0M753.75 2411.94h0M761.31 2379.12h0M764.96 2372.76h0M760.91 2307.28h0M759.2 2375.5h0M760.71 2314.14h0M763.39 2350.92h0M761.99 2341.55h0M762.46 2318.47h0M757.39 2363.61h0M760.57 2378.07h0M758.98 2340.33h0M760.12 2362.26h0M761.54 2441.37h0M756.22 2322.46h0M756.91 2337.64h0M760.4 2380.25h0M760.71 2343.15h0M763.65 2366.84h0M760.38 2341.46h0M765.17 2354.28h0M757.75 2353.9h0M756.09 2365.44h0M761.5 2307.45h0M759.45 2412.42h0M763.09 2355.77h0M759.55 2371.56h0M763.65 2393.38h0M761.89 2333.22h0M761.32 2362.07h0M759.66 2382.48h0M761.66 2352.36h0M758.48 2355.85h0M757.58 2346.59h0M760.25 2333.58h0M758.63 2359.42h0M758.42 2370.28h0M755.15 2363.79h0M761.43 2336.56h0M760.42 2348.72h0M758.59 2353.97h0M759.49 2392.45h0M763.29 2408.43h0M760.11 2377.7h0M762.48 2391.31h0M759.76 2338.87h0M761.85 2338.02h0M755.49 2361.91h0M764.61 2392.39h0M767.82 2338.41h0M763.43 2384.04h0M758.26 2408.17h0M758.31 2396.5h0M765.54 2357.8h0M757.12 2360.65h0M762.2 2328.96h0M765.47 2408.31h0M763.55 2364.09h0M759.47 2382.42h0M756 2353.84h0M763.93 2363.69h0M760.86 2353.02h0M759.79 2376.72h0M762.01 2324.28h0M758.18 2360.26h0M763.52 2354.21h0M766.42 2428.45h0M760.49 2342.52h0M768.9 2415.66h0M759.5 2346.22h0M764.42 2405.85h0M761 2416.8h0M757.14 2374.52h0M758.74 2386.49h0M762.33 2341.13h0M757.78 2333.86h0M762.16 2329.83h0M760.05 2330.97h0M757.97 2352.32h0M761.37 2333.67h0M760.54 2383.1h0M754.96 2364.55h0M757.36 2364.51h0M761.36 2371.04h0M762.14 2302h0M762.58 2405.33h0M757.48 2400.36h0M763.79 2389.05h0M763.04 2320.81h0M761.31 2404.71h0M752.62 2345.02h0M769.02 2378.32h0M757.5 2407.1h0M765.39 2400.76h0M763.38 2340.64h0M758.82 2333.43h0M762.75 2420.22h0M763.07 2412.79h0M761.59 2351.24h0M762.39 2328.99h0M758.56 2400h0M759.04 2345.99h0M760.26 2347.25h0M758.08 2357.15h0M755.89 2369.23h0M762.94 2384.75h0M758.04 2383.2h0M763.65 2340.33h0M761.92 2397.72h0M758.27 2350.98h0M760.6 2386.42h0M761.01 2322.88h0M752.54 2366.63h0M764.23 2355.09h0M763.61 2396.44h0M763.7 2355.02h0M761.23 2365.49h0M767.07 2295.08h0M755.76 2391.11h0M762.58 2354.26h0M760.69 2361.81h0M751.38 2324.47h0M763.13 2393.01h0M762.65 2351.57h0M766.57 2386.72h0M763.81 2338.17h0M756.38 2352.99h0M756.83 2382.47h0M756 2367.12h0M758.59 2369.12h0M753.48 2370.01h0M760.9 2400.7h0M756.43 2350.73h0M768.7 2352.58h0M757.97 2375.07h0M755.15 2423.11h0M759.44 2386.94h0M766.27 2355.57h0M761.36 2395.49h0M762.54 2328.05h0M761.32 2362.43h0M756.3 2404.8h0M765.27 2346.42h0M764.26 2337.23h0M765.71 2320.87h0M761.83 2376.67h0M764.36 2429.82h0M761.35 2361.57h0M756.77 2338.16h0M758.24 2361.76h0M756.93 2322.33h0M762.41 2382.57h0M760.9 2319.27h0M758.68 2405.93h0" stroke="#ff0000" stroke-width="2.2" stroke-linecap="round" fill="none" opacity="0.9"/>
<path d="M400.71 2159.96V2290.02M393.91 2159.96h13.6M393.91 2290.02h13.6M597.25 2272.29V2343.23M590.45 2272.29h13.6M590.45 2343.23h13.6M761.1 2337.32V2393.48M754.3 2337.32h13.6M754.3 2393.48h13.6" stroke="#000" stroke-width="2.3" fill="none"/>
<path d="M115.5 2223.45L118.2 2223.45L120.9 2223.45L123.6 2223.45L126.3 2223.45L129 2223.45L131.7 2223.45L134.4 2223.45L137.11 2223.45L139.81 2223.45L142.51 2223.45L145.21 2223.45L147.91 2223.45L150.61 2223.45L153.31 2223.45L156.01 2223.45L158.71 2223.45L161.41 2223.45L164.11 2223.45L166.81 2223.45L169.51 2223.45L172.21 2223.45L174.91 2223.45L177.62 2223.45L180.32 2223.46L183.02 2223.46L185.72 2223.46L188.42 2223.46L191.12 2223.46L193.82 2223.46L196.52 2223.46L199.22 2223.46L201.92 2223.46L204.62 2223.46L207.32 2223.47L210.02 2223.47L212.72 2223.47L215.42 2223.47L218.13 2223.47L220.83 2223.47L223.53 2223.48L226.23 2223.48L228.93 2223.48L231.63 2223.48L234.33 2223.49L237.03 2223.49L239.73 2223.49L242.43 2223.49L245.13 2223.5L247.83 2223.5L250.53 2223.51L253.23 2223.51L255.93 2223.51L258.64 2223.52L261.34 2223.53L264.04 2223.53L266.74 2223.54L269.44 2223.54L272.14 2223.55L274.84 2223.56L277.54 2223.57L280.24 2223.58L282.94 2223.59L285.64 2223.6L288.34 2223.61L291.04 2223.62L293.74 2223.63L296.44 2223.65L299.15 2223.66L301.85 2223.68L304.55 2223.69L307.25 2223.71L309.95 2223.73L312.65 2223.75L315.35 2223.77L318.05 2223.8L320.75 2223.82L323.45 2223.85L326.15 2223.88L328.85 2223.91L331.55 2223.95L334.25 2223.98L336.95 2224.02L339.66 2224.07L342.36 2224.11L345.06 2224.16L347.76 2224.21L350.46 2224.27L353.16 2224.33L355.86 2224.39L358.56 2224.46L361.26 2224.54L363.96 2224.62L366.66 2224.7L369.36 2224.79L372.06 2224.89L374.76 2225L377.46 2225.11L380.17 2225.23L382.87 2225.36L385.57 2225.5L388.27 2225.64L390.97 2225.8L393.67 2225.97L396.37 2226.15L399.07 2226.35L401.77 2226.55L404.47 2226.77L407.17 2227.01L409.87 2227.26L412.57 2227.53L415.27 2227.82L417.97 2228.12L420.68 2228.45L423.38 2228.8L426.08 2229.17L428.78 2229.57L431.48 2229.99L434.18 2230.43L436.88 2230.91L439.58 2231.41L442.28 2231.95L444.98 2232.52L447.68 2233.12L450.38 2233.75L453.08 2234.43L455.78 2235.14L458.48 2235.89L461.19 2236.68L463.89 2237.51L466.59 2238.39L469.29 2239.31L471.99 2240.28L474.69 2241.3L477.39 2242.36L480.09 2243.47L482.79 2244.62L485.49 2245.83L488.19 2247.09L490.89 2248.39L493.59 2249.74L496.29 2251.15L498.99 2252.59L501.7 2254.09L504.4 2255.63L507.1 2257.21L509.8 2258.83L512.5 2260.5L515.2 2262.2L517.9 2263.93L520.6 2265.7L523.3 2267.5L526 2269.32L528.7 2271.17L531.4 2273.04L534.1 2274.92L536.8 2276.82L539.51 2278.73L542.21 2280.65L544.91 2282.57L547.61 2284.49L550.31 2286.41L553.01 2288.32L555.71 2290.23L558.41 2292.12L561.11 2294L563.81 2295.86L566.51 2297.7L569.21 2299.53L571.91 2301.33L574.61 2303.1L577.31 2304.85L580.02 2306.57L582.72 2308.26L585.42 2309.92L588.12 2311.54L590.82 2313.14L593.52 2314.7L596.22 2316.23L598.92 2317.72L601.62 2319.18L604.32 2320.61L607.02 2321.99L609.72 2323.35L612.42 2324.67L615.12 2325.95L617.82 2327.21L620.53 2328.42L623.23 2329.61L625.93 2330.76L628.63 2331.88L631.33 2332.96L634.03 2334.02L636.73 2335.04L639.43 2336.03L642.13 2336.99L644.83 2337.93L647.53 2338.83L650.23 2339.71L652.93 2340.56L655.63 2341.38L658.33 2342.18L661.04 2342.95L663.74 2343.7L666.44 2344.43L669.14 2345.13L671.84 2345.8L674.54 2346.46L677.24 2347.1L679.94 2347.71L682.64 2348.31L685.34 2348.88L688.04 2349.44L690.74 2349.97L693.44 2350.49L696.14 2351L698.84 2351.48L701.55 2351.95L704.25 2352.41L706.95 2352.85L709.65 2353.27L712.35 2353.68L715.05 2354.08L717.75 2354.46L720.45 2354.83L723.15 2355.19L725.85 2355.54L728.55 2355.87L731.25 2356.2L733.95 2356.51L736.65 2356.81L739.35 2357.1L742.06 2357.38L744.76 2357.66L747.46 2357.92L750.16 2358.17L752.86 2358.42L755.56 2358.66L758.26 2358.88L760.96 2359.11L763.66 2359.32L766.36 2359.53L769.06 2359.73L771.76 2359.92L774.46 2360.11L777.16 2360.29L779.86 2360.46L782.57 2360.63L785.27 2360.79L787.97 2360.95L790.67 2361.1L793.37 2361.25L796.07 2361.39L798.77 2361.52L801.47 2361.66L804.17 2361.78L806.87 2361.91L809.57 2362.02L812.27 2362.14L814.97 2362.25L817.67 2362.36L820.37 2362.46L823.08 2362.56L825.78 2362.66L828.48 2362.75L831.18 2362.84L833.88 2362.93L836.58 2363.01L839.28 2363.09L841.98 2363.17L844.68 2363.25L847.38 2363.32L850.08 2363.39L852.78 2363.46L855.48 2363.53L858.18 2363.59L860.88 2363.65L863.59 2363.71L866.29 2363.77L868.99 2363.82L871.69 2363.88L874.39 2363.93L877.09 2363.98L879.79 2364.03L882.49 2364.08L885.19 2364.12L887.89 2364.16L890.59 2364.21L893.29 2364.25L895.99 2364.29L898.69 2364.32L901.39 2364.36L904.1 2364.4L906.8 2364.43L909.5 2364.46L912.2 2364.5L914.9 2364.53L917.6 2364.56L920.3 2364.58L923 2364.61" stroke="#bf00bf" stroke-width="2.5" fill="none"/>
<path d="M400.71 2224.99L597.25 2307.76L761.1 2365.4" stroke="#000" stroke-width="2.3" fill="none"/>
<circle cx="400.71" cy="2224.99" r="4" fill="#000"/>
<circle cx="597.25" cy="2307.76" r="4" fill="#000"/>
<circle cx="761.1" cy="2365.4" r="4" fill="#000"/>
<text id="f1_s0_ann0" x="400.71" y="2415.6" font-size="29" text-anchor="middle" font-family="'Liberation Serif', 'DejaVu Serif', serif" transform="matrix(0.95513 0 0 1.00476 17.694 -11.614)">0.095<tspan font-size="33.35" dy="2.03" dx="4.35">±</tspan><tspan font-size="29" dy="-2.03" dx="4.06">0.044</tspan></text>
<text id="f1_s0_ann1" x="597.25" y="2445.2" font-size="29" text-anchor="middle" font-family="'Liberation Serif', 'DejaVu Serif', serif" transform="matrix(0.96129 0 0 0.98571 22.929 35.157)">0.039<tspan font-size="33.35" dy="2.03" dx="4.35">±</tspan><tspan font-size="29" dy="-2.03" dx="4.06">0.024</tspan></text>
<text id="f1_s0_ann2" x="761.1" y="2474.8" font-size="29" text-anchor="middle" font-family="'Liberation Serif', 'DejaVu Serif', serif" transform="matrix(0.96129 0 0 0.95238 29.077 117.152)">0.000<tspan font-size="33.35" dy="2.03" dx="4.35">±</tspan><tspan font-size="29" dy="-2.03" dx="4.06">0.019</tspan></text>
<rect x="115.5" y="2069.8" width="807.5" height="443.4" fill="none" stroke="#000" stroke-width="1.3"/>
<path d="M196.25 2509.7V2516.7M196.25 2066.3V2073.3M277 2509.7V2516.7M277 2066.3V2073.3M357.75 2509.7V2516.7M357.75 2066.3V2073.3M438.5 2509.7V2516.7M438.5 2066.3V2073.3M519.25 2509.7V2516.7M519.25 2066.3V2073.3M600 2509.7V2516.7M600 2066.3V2073.3M680.75 2509.7V2516.7M680.75 2066.3V2073.3M761.5 2509.7V2516.7M761.5 2066.3V2073.3M842.25 2509.7V2516.7M842.25 2066.3V2073.3M112 2513.2H119M919.5 2513.2H926.5M112 2439.3H119M919.5 2439.3H926.5M112 2365.4H119M919.5 2365.4H926.5M112 2291.5H119M919.5 2291.5H926.5M112 2217.6H119M919.5 2217.6H926.5M112 2143.7H119M919.5 2143.7H926.5M112 2069.8H119M919.5 2069.8H926.5" stroke="#000" stroke-width="2.0" fill="none"/>
<text id="f1_s0_B_yt0" x="0" y="0" font-size="26.4" text-anchor="end" font-family="'Liberation Serif', 'DejaVu Serif', serif" transform="matrix(1.0 0 0 1 111.1 2521.8)">−0.10</text>
<text id="f1_s0_B_yt1" x="0" y="0" font-size="26.4" text-anchor="end" font-family="'Liberation Serif', 'DejaVu Serif', serif" transform="matrix(1.0 0 0 1 111.1 2447.9)">−0.05</text>
<text id="f1_s0_B_yt2" x="0" y="0" font-size="26.4" text-anchor="end" font-family="'Liberation Serif', 'DejaVu Serif', serif" transform="matrix(1.0 0 0 1 111.1 2374)">0.00</text>
<text id="f1_s0_B_yt3" x="0" y="0" font-size="26.4" text-anchor="end" font-family="'Liberation Serif', 'DejaVu Serif', serif" transform="matrix(1.0 0 0 1 111.1 2300.1)">0.05</text>
<text id="f1_s0_B_yt4" x="0" y="0" font-size="26.4" text-anchor="end" font-family="'Liberation Serif', 'DejaVu Serif', serif" transform="matrix(1.0 0 0 1 111.1 2226.2)">0.10</text>
<text id="f1_s0_B_yt5" x="0" y="0" font-size="26.4" text-anchor="end" font-family="'Liberation Serif', 'DejaVu Serif', serif" transform="matrix(1.0 0 0 1 111.1 2152.3)">0.15</text>
<text id="f1_s0_B_yt6" x="0" y="0" font-size="26.4" text-anchor="end" font-family="'Liberation Serif', 'DejaVu Serif', serif" transform="matrix(1.0 0 0 1 111.1 2078.4)">0.20</text>
<text id="f1_s0_B_xt0" x="0" y="0" font-size="26.4" text-anchor="middle" font-family="'Liberation Serif', 'DejaVu Serif', serif" transform="matrix(1.0 0 0 1 196.25 2535.5)">−11.5</text>
<text id="f1_s0_B_xt1" x="0" y="0" font-size="26.4" text-anchor="middle" font-family="'Liberation Serif', 'DejaVu Serif', serif" transform="matrix(1.0 0 0 1 277 2535.5)">−11.0</text>
<text id="f1_s0_B_xt2" x="0" y="0" font-size="26.4" text-anchor="middle" font-family="'Liberation Serif', 'DejaVu Serif', serif" transform="matrix(1.0 0 0 1 357.75 2535.5)">−10.5</text>
<text id="f1_s0_B_xt3" x="0" y="0" font-size="26.4" text-anchor="middle" font-family="'Liberation Serif', 'DejaVu Serif', serif" transform="matrix(1.0 0 0 1 438.5 2535.5)">−10.0</text>
<text id="f1_s0_B_xt4" x="0" y="0" font-size="26.4" text-anchor="middle" font-family="'Liberation Serif', 'DejaVu Serif', serif" transform="matrix(1.0 0 0 1 519.25 2535.5)">−9.5</text>
<text id="f1_s0_B_xt5" x="0" y="0" font-size="26.4" text-anchor="middle" font-family="'Liberation Serif', 'DejaVu Serif', serif" transform="matrix(1.0 0 0 1 600 2535.5)">−9.0</text>
<text id="f1_s0_B_xt6" x="0" y="0" font-size="26.4" text-anchor="middle" font-family="'Liberation Serif', 'DejaVu Serif', serif" transform="matrix(1.0 0 0 1 680.75 2535.5)">−8.5</text>
<text id="f1_s0_B_xt7" x="0" y="0" font-size="26.4" text-anchor="middle" font-family="'Liberation Serif', 'DejaVu Serif', serif" transform="matrix(1.0 0 0 1 761.5 2535.5)">−8.0</text>
<text id="f1_s0_B_xt8" x="0" y="0" font-size="26.4" text-anchor="middle" font-family="'Liberation Serif', 'DejaVu Serif', serif" transform="matrix(1.0 0 0 1 842.25 2535.5)">−7.5</text>
<text id="f1_s0_xlab" x="519.25" y="2574.8" font-size="46" text-anchor="middle" font-family="'Liberation Serif', 'DejaVu Serif', serif" transform="matrix(1.06286 0 0 0.97778 -31.891 56.956)"><tspan font-style="italic">x</tspan><tspan font-size="32" dy="5.8">0</tspan></text>
<g transform="matrix(0.95385 0 0 1.01013 2.085 -22.900)"><g transform="translate(37.2 2291.4) rotate(-90)">
<text id="f1_ylabB" x="0" y="0" font-size="46" text-anchor="middle" font-family="'Liberation Serif', 'DejaVu Serif', serif"><tspan font-style="italic">δ</tspan><tspan font-size="32" dy="6">obs − newt</tspan></text>
</g></g>
<rect x="361.4" y="2084.4" width="548.2" height="47.9" rx="5" fill="#fff" fill-opacity="0.8" stroke="#d9d9d9" stroke-width="1"/>
<path d="M371.4 2104.2H429" stroke="#bf00bf" stroke-width="2.5"/>
<text id="f1_bleg" x="450" y="2114.2" font-size="26" font-family="'Liberation Serif', 'DejaVu Serif', serif" transform="matrix(1.06714 0 0 0.98800 -30.881 25.452)"><tspan font-style="italic">δ</tspan><tspan font-size="18.2" dy="3.5">AQUAL − Newton</tspan><tspan dy="-3.5"> (circular orbit prediction)</tspan></text>
<path d="M1167.35 2069.8V2513.2M1248.1 2069.8V2513.2M1328.85 2069.8V2513.2M1409.6 2069.8V2513.2M1490.35 2069.8V2513.2M1571.1 2069.8V2513.2M1651.85 2069.8V2513.2M1732.6 2069.8V2513.2M1813.35 2069.8V2513.2M1086.6 2513.2H1894.1M1086.6 2439.3H1894.1M1086.6 2365.4H1894.1M1086.6 2291.5H1894.1M1086.6 2217.6H1894.1M1086.6 2143.7H1894.1M1086.6 2069.8H1894.1" stroke="#b4e6e6" stroke-width="1" stroke-dasharray="1.2 1.2" fill="none"/>
<path d="M1086.6 2365.4H1894.1" stroke="#000" stroke-width="2.4" stroke-dasharray="8.3 3.9" fill="none"/>
<path d="M1368.99 2243.15h0M1369.87 2296.2h0M1366.84 2284.24h0M1366.45 2261.22h0M1367.87 2295.72h0M1367.62 2336.35h0M1368.59 2296.15h0M1369.45 2287.37h0M1368.88 2243.76h0M1366.92 2247.87h0M1369.05 2242.48h0M1368.64 2251.38h0M1367.82 2243.61h0M1368.34 2272.88h0M1369.08 2249.82h0M1367.74 2214.12h0M1371.03 2269.93h0M1368.15 2256.28h0M1368.76 2282.19h0M1367.12 2328.31h0M1367.16 2262.89h0M1369.82 2247.19h0M1367.63 2242.79h0M1367.01 2336.06h0M1370.31 2214.33h0M1369.36 2236.23h0M1366.01 2229.2h0M1367.34 2270.36h0M1369.67 2236.48h0M1370.79 2255.23h0M1367.32 2261.62h0M1365.15 2275.89h0M1367.32 2233.57h0M1368.7 2235.53h0M1365.71 2239.11h0M1367.68 2270.06h0M1366.61 2246.78h0M1369.71 2292.98h0M1368.37 2305.65h0M1369.18 2295.05h0M1367.5 2274.2h0M1365.21 2289.4h0M1367.96 2198.98h0M1369.02 2208.36h0M1367.31 2290.37h0M1368.18 2238.52h0M1368.63 2280.19h0M1369.82 2228.29h0M1368.24 2200.23h0M1367.62 2268.24h0M1370.07 2342.19h0M1362.7 2200.93h0M1367.33 2251.33h0M1365.53 2264.96h0M1365.05 2261.78h0M1369.42 2236.58h0M1365.61 2215.81h0M1367.13 2298.6h0M1367.71 2212.1h0M1368.3 2205.47h0M1365.92 2236.05h0M1366.86 2315.5h0M1365.84 2299.79h0M1370.31 2239.9h0M1367.87 2284.06h0M1368.16 2212.36h0M1369.12 2231.67h0M1369.75 2216.19h0M1366.68 2246.72h0M1366.52 2219.18h0M1368.82 2251.03h0M1369.23 2156.25h0M1367.69 2238.99h0M1365.97 2259.6h0M1367.96 2330.57h0M1367.5 2249.09h0M1367.79 2263.93h0M1367.25 2194.13h0M1367.16 2189.02h0M1368.12 2262.11h0M1370.33 2234h0M1369.87 2219.33h0M1368.26 2242.73h0M1366.57 2256.83h0M1368.15 2177.86h0M1366.51 2277.76h0M1366.66 2263.49h0M1369.94 2218.43h0M1370.11 2276.66h0M1368.75 2225.54h0M1367.84 2243.67h0M1365.77 2221.53h0M1368.15 2227.84h0M1367.75 2332.35h0M1369.15 2248.38h0M1366.83 2250.37h0M1368.39 2245.66h0M1366.54 2366.26h0M1367.21 2267.4h0M1371.18 2249.03h0M1367.46 2254.5h0M1366.77 2258.28h0M1367.05 2276.17h0M1367.35 2236.38h0M1368.64 2252.25h0M1368.99 2291.41h0M1367.78 2200.64h0M1369.79 2246.46h0M1368.58 2210.05h0M1368.94 2262.67h0M1366.98 2292.44h0M1368.79 2274.25h0M1368.53 2293.98h0M1366.7 2312.65h0M1368.97 2285.65h0M1365.83 2194.03h0M1367.96 2246.87h0M1367.32 2241.16h0M1365.07 2226.68h0M1370.27 2222.73h0M1368.38 2284.09h0M1367.67 2294.1h0M1364.18 2265.05h0M1369.12 2226.09h0M1368.03 2192.19h0M1369.89 2251.24h0M1368.95 2318.45h0M1370.98 2267.26h0M1369.68 2260.73h0M1363.4 2269.7h0M1369.77 2206.17h0M1367.76 2219.07h0M1366.8 2212.7h0M1369.64 2281.27h0M1370.96 2226.12h0M1368.93 2278.09h0M1369.89 2234.31h0M1368.41 2290.18h0M1369.06 2267.06h0M1369.37 2150.8h0M1369.23 2197.26h0M1368.75 2263.62h0M1368.15 2251.45h0M1369.17 2222.37h0M1365.23 2280.34h0M1368.94 2270.02h0M1368.61 2203.21h0M1369.87 2232.61h0M1367.27 2210.85h0M1369.35 2257.78h0M1367.06 2269.16h0M1368.4 2259.71h0M1367.67 2213.25h0M1367.84 2278.31h0M1365.8 2220.09h0M1369.94 2237.75h0M1367.6 2261.98h0M1367.12 2288.52h0M1370.3 2253.46h0M1367.87 2229.33h0M1366.7 2298.33h0M1366.37 2211.43h0M1368.66 2214.85h0M1368.98 2214.24h0M1368.39 2268.18h0M1366.59 2263.37h0M1368.27 2257.5h0M1367.96 2288.38h0M1368.35 2225.61h0M1370.61 2289.05h0M1370.05 2274.81h0M1370 2238.58h0M1366.75 2241.31h0M1367.33 2208.27h0M1366.21 2299.68h0M1367.63 2236.13h0M1366.21 2266.36h0M1369.42 2185.14h0M1368.71 2214.21h0M1367.72 2208.68h0M1368.39 2202.23h0M1369.61 2263.86h0M1369.02 2233.21h0M1367.09 2301.77h0M1367.33 2292.09h0M1367.02 2244.32h0M1366.93 2247.81h0M1369.29 2259.43h0M1371.23 2208.84h0M1368.94 2239.98h0M1366.19 2196.14h0M1369.87 2283.3h0M1371.3 2211.03h0M1370.9 2186.39h0M1368.66 2217.5h0M1365.89 2204.55h0M1366.35 2251.88h0M1364.38 2254.39h0M1368.41 2232.12h0M1366.16 2210.17h0M1567.75 2330.64h0M1566.16 2355.58h0M1569.17 2363.86h0M1566.45 2342.14h0M1563.7 2319.85h0M1563.91 2336.52h0M1568.44 2316.36h0M1566.22 2367.29h0M1566.85 2352.14h0M1567.64 2316.31h0M1563.91 2315.2h0M1566.17 2350h0M1565.11 2314.63h0M1566.96 2333.93h0M1567.87 2324.15h0M1567.04 2346.2h0M1566.46 2324.35h0M1565.53 2329.21h0M1565.41 2302.15h0M1566.48 2318.96h0M1566.74 2337.99h0M1568.65 2320.26h0M1567.23 2339.69h0M1567.73 2316.1h0M1566.78 2337.9h0M1566.83 2347.99h0M1568.55 2305.75h0M1565.77 2364.96h0M1563.75 2318.9h0M1566.84 2281.16h0M1570.95 2356.12h0M1563.54 2317.25h0M1565.31 2341.46h0M1568.82 2327.19h0M1565.63 2337.33h0M1567.22 2324.91h0M1564.45 2320.09h0M1565.13 2309.74h0M1569.99 2339.81h0M1566.32 2356.85h0M1567.42 2344.05h0M1565.04 2318.08h0M1565.63 2333.52h0M1563.87 2316.06h0M1566.81 2319.19h0M1565.76 2325.14h0M1567.26 2312.72h0M1566.52 2321.04h0M1567.39 2312.77h0M1564.61 2344.83h0M1565.33 2332.41h0M1566.11 2335.48h0M1566.52 2300.39h0M1567.64 2321.53h0M1565.95 2336.59h0M1565.13 2358.27h0M1565.82 2314.23h0M1568.67 2331.41h0M1566.64 2294.76h0M1564.55 2340.31h0M1564.76 2325.66h0M1565.59 2326.52h0M1565.79 2328.62h0M1566.09 2304.5h0M1565.73 2296.9h0M1564.91 2297.28h0M1565.84 2321.12h0M1569.34 2344.72h0M1564.94 2323.38h0M1567.14 2353.6h0M1566.5 2314.07h0M1565.58 2337.9h0M1565.45 2349.29h0M1567.2 2333.73h0M1564.63 2313.11h0M1568.87 2363.13h0M1565.08 2325.78h0M1564.98 2323.71h0M1562.54 2336.74h0M1568.45 2336.01h0M1565.72 2314.56h0M1567.08 2327.6h0M1564.9 2310.38h0M1566.35 2333.67h0M1565.58 2313.35h0M1567.25 2320.53h0M1566.87 2328h0M1564.38 2307.13h0M1566.61 2325.01h0M1563.38 2290.17h0M1564.02 2341.74h0M1566.59 2346.37h0M1565.95 2345.94h0M1565.81 2328.32h0M1566.67 2313.39h0M1565.53 2342.61h0M1565.32 2322.87h0M1566.13 2319.73h0M1565.71 2337.13h0M1566.62 2347.31h0M1565.15 2337.98h0M1569.34 2333h0M1565.27 2307.43h0M1567.22 2345.66h0M1567.88 2345.29h0M1567.8 2339.64h0M1565.78 2290.95h0M1567.38 2315.12h0M1569.84 2284.53h0M1568.21 2341.1h0M1566.79 2307.15h0M1564.82 2316.45h0M1566.24 2341.03h0M1566.92 2348.87h0M1568.64 2321.86h0M1568.4 2344.18h0M1566.91 2317.8h0M1566.52 2324.35h0M1565.14 2336.23h0M1563.2 2301.52h0M1567.08 2306.29h0M1568.08 2319.24h0M1566.93 2322.85h0M1566.41 2311.35h0M1567.86 2305.8h0M1567.19 2324.98h0M1566.96 2339.33h0M1564.45 2321.01h0M1567.31 2323.57h0M1564.63 2340.63h0M1565.66 2324.53h0M1566.58 2341.13h0M1566.66 2340.86h0M1566.96 2305.23h0M1565.02 2320.87h0M1566.12 2301.11h0M1565.71 2293.64h0M1564.62 2323.3h0M1564.48 2318.42h0M1568.91 2323.22h0M1564.58 2311.58h0M1564.72 2308.27h0M1565.63 2330.29h0M1566.34 2331.81h0M1567.9 2367.66h0M1564.86 2327.4h0M1568.46 2320.28h0M1567.32 2343.87h0M1566.49 2327.22h0M1566.43 2335.47h0M1564.1 2314.87h0M1565.58 2339.73h0M1563.84 2336.46h0M1564.59 2336.83h0M1566.25 2320.05h0M1566.81 2323.96h0M1564.81 2335.37h0M1565.66 2314.43h0M1568.62 2337.79h0M1567.5 2352.81h0M1565.79 2302.8h0M1566.82 2337.31h0M1563.4 2341.05h0M1568.61 2307.01h0M1567.32 2350.11h0M1566.26 2323.01h0M1565.68 2313.45h0M1566.52 2331.6h0M1562.79 2320.55h0M1567.19 2304.94h0M1566.11 2306.64h0M1567.14 2344.33h0M1567.77 2316.45h0M1565.09 2313.56h0M1566.03 2345.59h0M1566.22 2318.91h0M1566.56 2335.4h0M1566.17 2358.76h0M1568.78 2365.16h0M1568.97 2358.35h0M1567.89 2310.1h0M1565.8 2311.15h0M1568.69 2324.41h0M1566.03 2344.82h0M1565.38 2308.8h0M1564.65 2294.84h0M1566.47 2338.97h0M1565.97 2339.27h0M1566.09 2325.96h0M1566.9 2319.87h0M1566.66 2319.86h0M1566.87 2324.37h0M1567.55 2318.71h0M1565.48 2296.09h0M1567.69 2293.28h0M1565.68 2307h0M1566.92 2319.87h0M1567.49 2329.38h0M1565.19 2345.45h0M1567.01 2310.12h0M1731.91 2387.85h0M1732.49 2361.99h0M1731.21 2365.42h0M1730.99 2379.77h0M1731.92 2371.28h0M1731.09 2395.44h0M1727.12 2349.38h0M1731.72 2355.86h0M1731.58 2364.03h0M1732.32 2376.31h0M1728.46 2362.23h0M1729.39 2356.48h0M1731.58 2381.21h0M1731.26 2372.73h0M1730.84 2362.85h0M1728.76 2360.76h0M1732.28 2341.69h0M1730.73 2376.23h0M1729.73 2344.96h0M1734.06 2390.97h0M1731.62 2346.71h0M1731.76 2341.31h0M1731.96 2355.4h0M1729.71 2354.69h0M1731.62 2364.86h0M1729.27 2381.37h0M1733.43 2366.78h0M1732.68 2367.51h0M1733.08 2347.16h0M1728.62 2356.05h0M1729.52 2397.18h0M1730.96 2369.77h0M1730.63 2372.62h0M1729.38 2356.65h0M1731.94 2356.73h0M1731.35 2391.52h0M1731.88 2365.99h0M1727.94 2358.76h0M1731.3 2337.35h0M1732.44 2351.26h0M1731.04 2380.3h0M1734.31 2368.57h0M1733.38 2385.42h0M1730.99 2352.26h0M1730.86 2380.92h0M1729.77 2355.43h0M1732.05 2362.22h0M1730.64 2355.12h0M1732.22 2355.85h0M1729.41 2395.4h0M1730.03 2386.57h0M1731.86 2354.25h0M1730.35 2359.93h0M1728.8 2350.59h0M1732.14 2386.63h0M1732.67 2369.83h0M1732.51 2352.95h0M1730.3 2377.54h0M1731.12 2390.48h0M1730.27 2366.01h0M1731.39 2369.8h0M1730.26 2352.24h0M1730.96 2375.01h0M1733.83 2357.47h0M1727.57 2351.63h0M1729.93 2391.24h0M1732.11 2404.1h0M1729.16 2379.55h0M1731.5 2369.12h0M1731.01 2371.83h0M1729.49 2352.55h0M1728.28 2366.62h0M1732.53 2384.78h0M1729.56 2377.76h0M1730.33 2354.52h0M1733.85 2352.81h0M1730.71 2333.5h0M1730.19 2361.51h0M1731.86 2340.82h0M1730.35 2324.55h0M1726.82 2367.26h0M1730.09 2377.11h0M1732.46 2359.5h0M1730.84 2378.48h0M1730.91 2357.73h0M1733.32 2356.69h0M1731.47 2375.89h0M1731.16 2349.35h0M1730.57 2343.36h0M1731.42 2349.79h0M1730.09 2357.35h0M1729.4 2350.04h0M1731.11 2350.32h0M1733.01 2362.09h0M1732.23 2386.41h0M1730.37 2360.37h0M1731.09 2353.66h0M1730.41 2337.82h0M1733.18 2342.3h0M1730.16 2360.03h0M1729.25 2365.81h0M1730.25 2375.83h0M1729.09 2360.24h0M1730.47 2358.97h0M1731.99 2351.41h0M1731.48 2374.54h0M1730.36 2362.36h0M1730.92 2369.49h0M1729.34 2380.42h0M1728.54 2362.7h0M1732.31 2358.73h0M1731.74 2371.99h0M1732.06 2377.04h0M1731.83 2320.14h0M1731.06 2366.55h0M1730.05 2386.33h0M1730.21 2370.07h0M1732.9 2364.62h0M1730.15 2386.63h0M1729.36 2364.11h0M1731.76 2379.83h0M1731.51 2357.89h0M1731.82 2381.27h0M1730.38 2354.4h0M1730.63 2365.74h0M1730.28 2370.15h0M1729.88 2360.52h0M1731.97 2341.39h0M1734.25 2370.11h0M1727.79 2364.11h0M1732.07 2350.17h0M1731.17 2366.76h0M1729.36 2374.9h0M1734.66 2382.11h0M1731.28 2375.33h0M1730.06 2339.79h0M1730.42 2367.37h0M1731.8 2387.87h0M1730.74 2357.21h0M1731.98 2369.21h0M1733.9 2355.91h0M1732.25 2355.65h0M1729.15 2375.23h0M1729.91 2347.09h0M1731.24 2355.84h0M1731.48 2377.64h0M1733.09 2340.52h0M1730.75 2372.38h0M1729.39 2395.3h0M1731.12 2373.78h0M1730.5 2359.2h0M1729.85 2347.69h0M1729.71 2355.2h0M1731.42 2370.44h0M1730.16 2353.97h0M1730.83 2371.08h0M1733.24 2361.28h0M1730.72 2354.99h0M1732.96 2369.41h0M1732.66 2345.27h0M1729.91 2364.94h0M1731.36 2375.9h0M1730.94 2380.26h0M1731.71 2333.76h0M1729.79 2352.68h0M1730.69 2344.39h0M1731.51 2363.56h0M1730.47 2363.67h0M1734.17 2355.56h0M1732.44 2369.41h0M1731.7 2380.16h0M1733.28 2373.38h0M1732.17 2370.45h0M1729.57 2362.88h0M1731.26 2363.41h0M1731.01 2352.63h0M1729.83 2389.93h0M1732.23 2371.68h0M1732.55 2369.57h0M1731.8 2368.35h0M1731.48 2349.96h0M1732.86 2388.74h0M1732.38 2367.55h0M1731.2 2404.5h0M1730.57 2365.37h0M1729.77 2366.49h0M1731.87 2378.22h0M1732.24 2368.16h0M1730.18 2359.31h0M1730.73 2364.68h0M1733.56 2357.37h0M1730.49 2364.19h0M1730.81 2333.82h0M1730.67 2375.3h0M1733.36 2395.97h0M1732.74 2348.94h0M1730.93 2356.92h0M1730.1 2372.48h0M1732.51 2354.27h0M1729.72 2353.69h0" stroke="#ff0000" stroke-width="2.2" stroke-linecap="round" fill="none" opacity="0.9"/>
<path d="M1368.26 2219.08V2287.07M1361.46 2219.08h13.6M1361.46 2287.07h13.6M1566.26 2309.24V2344.71M1559.46 2309.24h13.6M1559.46 2344.71h13.6M1731.15 2350.62V2380.18M1724.35 2350.62h13.6M1724.35 2380.18h13.6" stroke="#000" stroke-width="2.3" fill="none"/>
<path d="M1086.6 2223.45L1089.3 2223.45L1092 2223.45L1094.7 2223.45L1097.4 2223.45L1100.1 2223.45L1102.8 2223.45L1105.5 2223.45L1108.21 2223.45L1110.91 2223.45L1113.61 2223.45L1116.31 2223.45L1119.01 2223.45L1121.71 2223.45L1124.41 2223.45L1127.11 2223.45L1129.81 2223.45L1132.51 2223.45L1135.21 2223.45L1137.91 2223.45L1140.61 2223.45L1143.31 2223.45L1146.01 2223.45L1148.72 2223.45L1151.42 2223.46L1154.12 2223.46L1156.82 2223.46L1159.52 2223.46L1162.22 2223.46L1164.92 2223.46L1167.62 2223.46L1170.32 2223.46L1173.02 2223.46L1175.72 2223.46L1178.42 2223.47L1181.12 2223.47L1183.82 2223.47L1186.52 2223.47L1189.23 2223.47L1191.93 2223.47L1194.63 2223.48L1197.33 2223.48L1200.03 2223.48L1202.73 2223.48L1205.43 2223.49L1208.13 2223.49L1210.83 2223.49L1213.53 2223.49L1216.23 2223.5L1218.93 2223.5L1221.63 2223.51L1224.33 2223.51L1227.03 2223.51L1229.74 2223.52L1232.44 2223.53L1235.14 2223.53L1237.84 2223.54L1240.54 2223.54L1243.24 2223.55L1245.94 2223.56L1248.64 2223.57L1251.34 2223.58L1254.04 2223.59L1256.74 2223.6L1259.44 2223.61L1262.14 2223.62L1264.84 2223.63L1267.54 2223.65L1270.25 2223.66L1272.95 2223.68L1275.65 2223.69L1278.35 2223.71L1281.05 2223.73L1283.75 2223.75L1286.45 2223.77L1289.15 2223.8L1291.85 2223.82L1294.55 2223.85L1297.25 2223.88L1299.95 2223.91L1302.65 2223.95L1305.35 2223.98L1308.05 2224.02L1310.76 2224.07L1313.46 2224.11L1316.16 2224.16L1318.86 2224.21L1321.56 2224.27L1324.26 2224.33L1326.96 2224.39L1329.66 2224.46L1332.36 2224.54L1335.06 2224.62L1337.76 2224.7L1340.46 2224.79L1343.16 2224.89L1345.86 2225L1348.56 2225.11L1351.27 2225.23L1353.97 2225.36L1356.67 2225.5L1359.37 2225.64L1362.07 2225.8L1364.77 2225.97L1367.47 2226.15L1370.17 2226.35L1372.87 2226.55L1375.57 2226.77L1378.27 2227.01L1380.97 2227.26L1383.67 2227.53L1386.37 2227.82L1389.07 2228.12L1391.78 2228.45L1394.48 2228.8L1397.18 2229.17L1399.88 2229.57L1402.58 2229.99L1405.28 2230.43L1407.98 2230.91L1410.68 2231.41L1413.38 2231.95L1416.08 2232.52L1418.78 2233.12L1421.48 2233.75L1424.18 2234.43L1426.88 2235.14L1429.58 2235.89L1432.29 2236.68L1434.99 2237.51L1437.69 2238.39L1440.39 2239.31L1443.09 2240.28L1445.79 2241.3L1448.49 2242.36L1451.19 2243.47L1453.89 2244.62L1456.59 2245.83L1459.29 2247.09L1461.99 2248.39L1464.69 2249.74L1467.39 2251.15L1470.09 2252.59L1472.8 2254.09L1475.5 2255.63L1478.2 2257.21L1480.9 2258.83L1483.6 2260.5L1486.3 2262.2L1489 2263.93L1491.7 2265.7L1494.4 2267.5L1497.1 2269.32L1499.8 2271.17L1502.5 2273.04L1505.2 2274.92L1507.9 2276.82L1510.61 2278.73L1513.31 2280.65L1516.01 2282.57L1518.71 2284.49L1521.41 2286.41L1524.11 2288.32L1526.81 2290.23L1529.51 2292.12L1532.21 2294L1534.91 2295.86L1537.61 2297.7L1540.31 2299.53L1543.01 2301.33L1545.71 2303.1L1548.41 2304.85L1551.12 2306.57L1553.82 2308.26L1556.52 2309.92L1559.22 2311.54L1561.92 2313.14L1564.62 2314.7L1567.32 2316.23L1570.02 2317.72L1572.72 2319.18L1575.42 2320.61L1578.12 2321.99L1580.82 2323.35L1583.52 2324.67L1586.22 2325.95L1588.92 2327.21L1591.63 2328.42L1594.33 2329.61L1597.03 2330.76L1599.73 2331.88L1602.43 2332.96L1605.13 2334.02L1607.83 2335.04L1610.53 2336.03L1613.23 2336.99L1615.93 2337.93L1618.63 2338.83L1621.33 2339.71L1624.03 2340.56L1626.73 2341.38L1629.43 2342.18L1632.14 2342.95L1634.84 2343.7L1637.54 2344.43L1640.24 2345.13L1642.94 2345.8L1645.64 2346.46L1648.34 2347.1L1651.04 2347.71L1653.74 2348.31L1656.44 2348.88L1659.14 2349.44L1661.84 2349.97L1664.54 2350.49L1667.24 2351L1669.94 2351.48L1672.65 2351.95L1675.35 2352.41L1678.05 2352.85L1680.75 2353.27L1683.45 2353.68L1686.15 2354.08L1688.85 2354.46L1691.55 2354.83L1694.25 2355.19L1696.95 2355.54L1699.65 2355.87L1702.35 2356.2L1705.05 2356.51L1707.75 2356.81L1710.45 2357.1L1713.16 2357.38L1715.86 2357.66L1718.56 2357.92L1721.26 2358.17L1723.96 2358.42L1726.66 2358.66L1729.36 2358.88L1732.06 2359.11L1734.76 2359.32L1737.46 2359.53L1740.16 2359.73L1742.86 2359.92L1745.56 2360.11L1748.26 2360.29L1750.96 2360.46L1753.67 2360.63L1756.37 2360.79L1759.07 2360.95L1761.77 2361.1L1764.47 2361.25L1767.17 2361.39L1769.87 2361.52L1772.57 2361.66L1775.27 2361.78L1777.97 2361.91L1780.67 2362.02L1783.37 2362.14L1786.07 2362.25L1788.77 2362.36L1791.47 2362.46L1794.18 2362.56L1796.88 2362.66L1799.58 2362.75L1802.28 2362.84L1804.98 2362.93L1807.68 2363.01L1810.38 2363.09L1813.08 2363.17L1815.78 2363.25L1818.48 2363.32L1821.18 2363.39L1823.88 2363.46L1826.58 2363.53L1829.28 2363.59L1831.98 2363.65L1834.69 2363.71L1837.39 2363.77L1840.09 2363.82L1842.79 2363.88L1845.49 2363.93L1848.19 2363.98L1850.89 2364.03L1853.59 2364.08L1856.29 2364.12L1858.99 2364.16L1861.69 2364.21L1864.39 2364.25L1867.09 2364.29L1869.79 2364.32L1872.49 2364.36L1875.2 2364.4L1877.9 2364.43L1880.6 2364.46L1883.3 2364.5L1886 2364.53L1888.7 2364.56L1891.4 2364.58L1894.1 2364.61" stroke="#bf00bf" stroke-width="2.5" fill="none"/>
<path d="M1368.26 2253.07L1566.26 2326.97L1731.15 2365.4" stroke="#000" stroke-width="2.3" fill="none"/>
<circle cx="1368.26" cy="2253.07" r="4" fill="#000"/>
<circle cx="1566.26" cy="2326.97" r="4" fill="#000"/>
<circle cx="1731.15" cy="2365.4" r="4" fill="#000"/>
<text id="f1_s1_ann0" x="1368.26" y="2415.6" font-size="29" text-anchor="middle" font-family="'Liberation Serif', 'DejaVu Serif', serif" transform="matrix(0.96129 0 0 1.00476 52.674 -11.614)">0.076<tspan font-size="33.35" dy="2.03" dx="4.35">±</tspan><tspan font-size="29" dy="-2.03" dx="4.06">0.023</tspan></text>
<text id="f1_s1_ann1" x="1566.26" y="2445.2" font-size="29" text-anchor="middle" font-family="'Liberation Serif', 'DejaVu Serif', serif" transform="matrix(0.96753 0 0 0.98571 51.144 35.157)">0.026<tspan font-size="33.35" dy="2.03" dx="4.35">±</tspan><tspan font-size="29" dy="-2.03" dx="4.06">0.012</tspan></text>
<text id="f1_s1_ann2" x="1731.15" y="2474.8" font-size="29" text-anchor="middle" font-family="'Liberation Serif', 'DejaVu Serif', serif" transform="matrix(0.96129 0 0 0.95238 66.626 117.152)">0.000<tspan font-size="33.35" dy="2.03" dx="4.35">±</tspan><tspan font-size="29" dy="-2.03" dx="4.06">0.010</tspan></text>
<rect x="1086.6" y="2069.8" width="807.5" height="443.4" fill="none" stroke="#000" stroke-width="1.3"/>
<path d="M1167.35 2509.7V2516.7M1167.35 2066.3V2073.3M1248.1 2509.7V2516.7M1248.1 2066.3V2073.3M1328.85 2509.7V2516.7M1328.85 2066.3V2073.3M1409.6 2509.7V2516.7M1409.6 2066.3V2073.3M1490.35 2509.7V2516.7M1490.35 2066.3V2073.3M1571.1 2509.7V2516.7M1571.1 2066.3V2073.3M1651.85 2509.7V2516.7M1651.85 2066.3V2073.3M1732.6 2509.7V2516.7M1732.6 2066.3V2073.3M1813.35 2509.7V2516.7M1813.35 2066.3V2073.3M1083.1 2513.2H1090.1M1890.6 2513.2H1897.6M1083.1 2439.3H1090.1M1890.6 2439.3H1897.6M1083.1 2365.4H1090.1M1890.6 2365.4H1897.6M1083.1 2291.5H1090.1M1890.6 2291.5H1897.6M1083.1 2217.6H1090.1M1890.6 2217.6H1897.6M1083.1 2143.7H1090.1M1890.6 2143.7H1897.6M1083.1 2069.8H1090.1M1890.6 2069.8H1897.6" stroke="#000" stroke-width="2.0" fill="none"/>
<text id="f1_s1_B_yt0" x="0" y="0" font-size="26.4" text-anchor="end" font-family="'Liberation Serif', 'DejaVu Serif', serif" transform="matrix(1.0 0 0 1 1082.2 2521.8)">−0.10</text>
<text id="f1_s1_B_yt1" x="0" y="0" font-size="26.4" text-anchor="end" font-family="'Liberation Serif', 'DejaVu Serif', serif" transform="matrix(1.0 0 0 1 1082.2 2447.9)">−0.05</text>
<text id="f1_s1_B_yt2" x="0" y="0" font-size="26.4" text-anchor="end" font-family="'Liberation Serif', 'DejaVu Serif', serif" transform="matrix(1.0 0 0 1 1082.2 2374)">0.00</text>
<text id="f1_s1_B_yt3" x="0" y="0" font-size="26.4" text-anchor="end" font-family="'Liberation Serif', 'DejaVu Serif', serif" transform="matrix(1.0 0 0 1 1082.2 2300.1)">0.05</text>
<text id="f1_s1_B_yt4" x="0" y="0" font-size="26.4" text-anchor="end" font-family="'Liberation Serif', 'DejaVu Serif', serif" transform="matrix(1.0 0 0 1 1082.2 2226.2)">0.10</text>
<text id="f1_s1_B_yt5" x="0" y="0" font-size="26.4" text-anchor="end" font-family="'Liberation Serif', 'DejaVu Serif', serif" transform="matrix(1.0 0 0 1 1082.2 2152.3)">0.15</text>
<text id="f1_s1_B_yt6" x="0" y="0" font-size="26.4" text-anchor="end" font-family="'Liberation Serif', 'DejaVu Serif', serif" transform="matrix(1.0 0 0 1 1082.2 2078.4)">0.20</text>
<text id="f1_s1_B_xt0" x="0" y="0" font-size="26.4" text-anchor="middle" font-family="'Liberation Serif', 'DejaVu Serif', serif" transform="matrix(1.0 0 0 1 1167.35 2535.5)">−11.5</text>
<text id="f1_s1_B_xt1" x="0" y="0" font-size="26.4" text-anchor="middle" font-family="'Liberation Serif', 'DejaVu Serif', serif" transform="matrix(1.0 0 0 1 1248.1 2535.5)">−11.0</text>
<text id="f1_s1_B_xt2" x="0" y="0" font-size="26.4" text-anchor="middle" font-family="'Liberation Serif', 'DejaVu Serif', serif" transform="matrix(1.0 0 0 1 1328.85 2535.5)">−10.5</text>
<text id="f1_s1_B_xt3" x="0" y="0" font-size="26.4" text-anchor="middle" font-family="'Liberation Serif', 'DejaVu Serif', serif" transform="matrix(1.0 0 0 1 1409.6 2535.5)">−10.0</text>
<text id="f1_s1_B_xt4" x="0" y="0" font-size="26.4" text-anchor="middle" font-family="'Liberation Serif', 'DejaVu Serif', serif" transform="matrix(1.0 0 0 1 1490.35 2535.5)">−9.5</text>
<text id="f1_s1_B_xt5" x="0" y="0" font-size="26.4" text-anchor="middle" font-family="'Liberation Serif', 'DejaVu Serif', serif" transform="matrix(1.0 0 0 1 1571.1 2535.5)">−9.0</text>
<text id="f1_s1_B_xt6" x="0" y="0" font-size="26.4" text-anchor="middle" font-family="'Liberation Serif', 'DejaVu Serif', serif" transform="matrix(1.0 0 0 1 1651.85 2535.5)">−8.5</text>
<text id="f1_s1_B_xt7" x="0" y="0" font-size="26.4" text-anchor="middle" font-family="'Liberation Serif', 'DejaVu Serif', serif" transform="matrix(1.0 0 0 1 1732.6 2535.5)">−8.0</text>
<text id="f1_s1_B_xt8" x="0" y="0" font-size="26.4" text-anchor="middle" font-family="'Liberation Serif', 'DejaVu Serif', serif" transform="matrix(1.0 0 0 1 1813.35 2535.5)">−7.5</text>
<text id="f1_s1_xlab" x="1490.35" y="2574.8" font-size="46" text-anchor="middle" font-family="'Liberation Serif', 'DejaVu Serif', serif" transform="matrix(1.06286 0 0 0.97778 -92.826 56.956)"><tspan font-style="italic">x</tspan><tspan font-size="32" dy="5.8">0</tspan></text>
</svg>
</body></html>
